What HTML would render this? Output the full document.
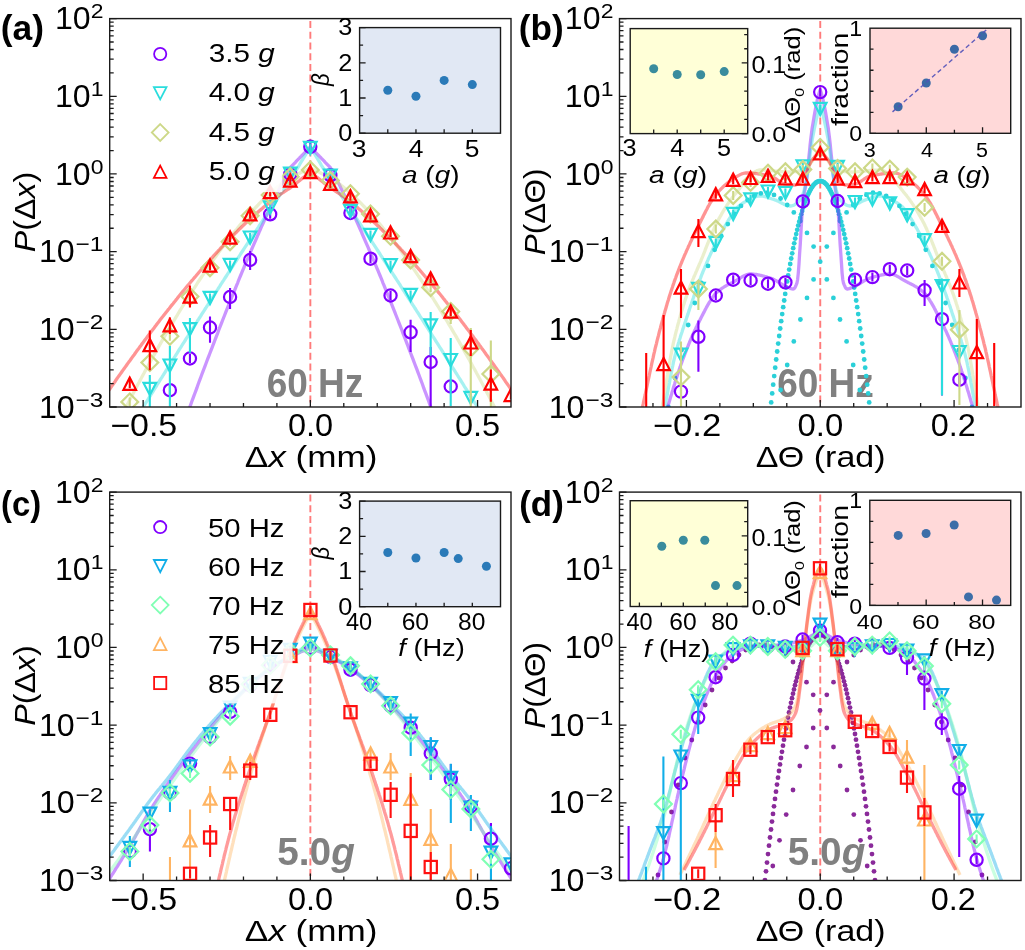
<!DOCTYPE html>
<html><head><meta charset="utf-8"><style>html,body{margin:0;padding:0;background:#fff;}svg{display:block;will-change:transform}</style></head>
<body><svg width="1025" height="950" viewBox="0 0 1025 950" style="font-family:'Liberation Sans', sans-serif">
<rect width="1025" height="950" fill="#fff"/>
<g transform="matrix(0.9490,0,0,1.0333,266.65,396.90)"><text x="0" y="0" font-size="39" font-weight="bold" font-style="normal" fill="#808080">60 Hz</text></g><line x1="310.35" y1="18.6" x2="310.35" y2="407.0" stroke="#ff7b7b" stroke-width="1.9" stroke-dasharray="7 3.7" stroke-dashoffset="-2.5"/><clipPath id="clip_a"><rect x="109.7" y="18.6" width="401.30" height="388.40"/></clipPath><g clip-path="url(#clip_a)"><path d="M105.3,653.0L106.3,650.0L107.3,646.9L108.3,643.9L109.3,640.9L110.3,637.8L111.3,634.8L112.3,631.7L113.3,628.7L114.3,625.7L115.3,622.7L116.2,619.6L117.2,616.6L118.2,613.6L119.2,610.6L120.2,607.6L121.2,604.6L122.2,601.6L123.2,598.6L124.2,595.6L125.2,592.6L126.2,589.6L127.2,586.7L128.2,583.7L129.2,580.7L130.2,577.7L131.2,574.8L132.2,571.8L133.2,568.8L134.2,565.9L135.2,562.9L136.1,560.0L137.1,557.0L138.1,554.1L139.1,551.2L140.1,548.2L141.1,545.3L142.1,542.4L143.1,539.5L144.1,536.5L145.1,533.6L146.1,530.7L147.1,527.8L148.1,524.9L149.1,522.0L150.1,519.1L151.1,516.2L152.1,513.3L153.1,510.4L154.1,507.6L155.1,504.7L156.1,501.8L157.0,499.0L158.0,496.1L159.0,493.2L160.0,490.4L161.0,487.5L162.0,484.7L163.0,481.8L164.0,479.0L165.0,476.2L166.0,473.3L167.0,470.5L168.0,467.7L169.0,464.9L170.0,462.1L171.0,459.3L172.0,456.4L173.0,453.7L174.0,450.9L175.0,448.1L176.0,445.3L177.0,442.5L177.9,439.7L178.9,437.0L179.9,434.2L180.9,431.4L181.9,428.7L182.9,425.9L183.9,423.2L184.9,420.4L185.9,417.7L186.9,414.9L187.9,412.2L188.9,409.5L189.9,406.8L190.9,404.1L191.9,401.3L192.9,398.6L193.9,395.9L194.9,393.2L195.9,390.6L196.9,387.9L197.8,385.2L198.8,382.5L199.8,379.9L200.8,377.2L201.8,374.5L202.8,371.9L203.8,369.2L204.8,366.6L205.8,364.0L206.8,361.3L207.8,358.7L208.8,356.1L209.8,353.5L210.8,350.9L211.8,348.3L212.8,345.7L213.8,343.1L214.8,340.5L215.8,337.9L216.8,335.3L217.8,332.8L218.7,330.2L219.7,327.6L220.7,325.1L221.7,322.6L222.7,320.0L223.7,317.5L224.7,315.0L225.7,312.4L226.7,309.9L227.7,307.4L228.7,304.9L229.7,302.4L230.7,300.0L231.7,297.5L232.7,295.0L233.7,292.6L234.7,290.1L235.7,287.6L236.7,285.2L237.7,282.8L238.6,280.3L239.6,277.9L240.6,275.5L241.6,273.1L242.6,270.7L243.6,268.3L244.6,265.9L245.6,263.6L246.6,261.2L247.6,258.8L248.6,256.5L249.6,254.1L250.6,251.8L251.6,249.5L252.6,247.2L253.6,244.9L254.6,242.6L255.6,240.3L256.6,238.0L257.6,235.7L258.6,233.5L259.5,231.2L260.5,229.0L261.5,226.7L262.5,224.5L263.5,222.3L264.5,220.1L265.5,217.9L266.5,215.7L267.5,213.6L268.5,211.4L269.5,209.3L270.5,207.1L271.5,205.0L272.5,202.9L273.5,200.8L274.5,198.7L275.5,196.6L276.5,194.6L277.5,192.5L278.5,190.5L279.5,188.5L280.4,186.5L281.4,184.5L282.4,182.5L283.4,180.5L284.4,178.6L285.4,176.7L286.4,174.7L287.4,172.8L288.4,171.0L289.4,169.1L290.4,167.4L291.4,166.3L292.4,165.3L293.4,164.3L294.4,163.3L295.4,162.3L296.4,161.2L297.4,160.2L298.4,159.2L299.4,158.2L300.3,157.2L301.3,156.2L302.3,155.1L303.3,154.1L304.3,153.1L305.3,152.1L306.3,151.1L307.3,150.1L308.3,149.0L309.3,148.0L310.3,147.0L311.3,148.0L312.3,149.0L313.3,150.1L314.3,151.1L315.3,152.1L316.3,153.1L317.3,154.1L318.3,155.1L319.3,156.2L320.3,157.2L321.2,158.2L322.2,159.2L323.2,160.2L324.2,161.2L325.2,162.3L326.2,163.3L327.2,164.3L328.2,165.3L329.2,166.3L330.2,167.4L331.2,169.1L332.2,171.0L333.2,172.8L334.2,174.7L335.2,176.7L336.2,178.6L337.2,180.5L338.2,182.5L339.2,184.5L340.2,186.5L341.1,188.5L342.1,190.5L343.1,192.5L344.1,194.6L345.1,196.6L346.1,198.7L347.1,200.8L348.1,202.9L349.1,205.0L350.1,207.1L351.1,209.3L352.1,211.4L353.1,213.6L354.1,215.7L355.1,217.9L356.1,220.1L357.1,222.3L358.1,224.5L359.1,226.7L360.1,229.0L361.1,231.2L362.0,233.5L363.0,235.7L364.0,238.0L365.0,240.3L366.0,242.6L367.0,244.9L368.0,247.2L369.0,249.5L370.0,251.8L371.0,254.1L372.0,256.5L373.0,258.8L374.0,261.2L375.0,263.6L376.0,265.9L377.0,268.3L378.0,270.7L379.0,273.1L380.0,275.5L381.0,277.9L382.0,280.3L382.9,282.8L383.9,285.2L384.9,287.6L385.9,290.1L386.9,292.6L387.9,295.0L388.9,297.5L389.9,300.0L390.9,302.4L391.9,304.9L392.9,307.4L393.9,309.9L394.9,312.4L395.9,315.0L396.9,317.5L397.9,320.0L398.9,322.6L399.9,325.1L400.9,327.6L401.9,330.2L402.8,332.8L403.8,335.3L404.8,337.9L405.8,340.5L406.8,343.1L407.8,345.7L408.8,348.3L409.8,350.9L410.8,353.5L411.8,356.1L412.8,358.7L413.8,361.3L414.8,364.0L415.8,366.6L416.8,369.2L417.8,371.9L418.8,374.5L419.8,377.2L420.8,379.9L421.8,382.5L422.8,385.2L423.7,387.9L424.7,390.6L425.7,393.2L426.7,395.9L427.7,398.6L428.7,401.3L429.7,404.1L430.7,406.8L431.7,409.5L432.7,412.2L433.7,414.9L434.7,417.7L435.7,420.4L436.7,423.2L437.7,425.9L438.7,428.7L439.7,431.4L440.7,434.2L441.7,437.0L442.7,439.7L443.6,442.5L444.6,445.3L445.6,448.1L446.6,450.9L447.6,453.7L448.6,456.4L449.6,459.3L450.6,462.1L451.6,464.9L452.6,467.7L453.6,470.5L454.6,473.3L455.6,476.2L456.6,479.0L457.6,481.8L458.6,484.7L459.6,487.5L460.6,490.4L461.6,493.2L462.6,496.1L463.6,499.0L464.5,501.8L465.5,504.7L466.5,507.6L467.5,510.4L468.5,513.3L469.5,516.2L470.5,519.1L471.5,522.0L472.5,524.9L473.5,527.8L474.5,530.7L475.5,533.6L476.5,536.5L477.5,539.5L478.5,542.4L479.5,545.3L480.5,548.2L481.5,551.2L482.5,554.1L483.5,557.0L484.5,560.0L485.4,562.9L486.4,565.9L487.4,568.8L488.4,571.8L489.4,574.8L490.4,577.7L491.4,580.7L492.4,583.7L493.4,586.7L494.4,589.6L495.4,592.6L496.4,595.6L497.4,598.6L498.4,601.6L499.4,604.6L500.4,607.6L501.4,610.6L502.4,613.6L503.4,616.6L504.4,619.6L505.3,622.7L506.3,625.7L507.3,628.7L508.3,631.7L509.3,634.8L510.3,637.8L511.3,640.9L512.3,643.9L513.3,646.9L514.3,650.0L515.3,653.0" fill="none" stroke="#8000ff" stroke-width="3.3" stroke-opacity="0.42" stroke-linejoin="round"/><path d="M105.3,468.1L106.3,466.5L107.3,464.8L108.3,463.2L109.3,461.6L110.3,460.0L111.3,458.4L112.3,456.8L113.3,455.2L114.3,453.6L115.3,452.0L116.2,450.4L117.2,448.8L118.2,447.2L119.2,445.6L120.2,444.0L121.2,442.4L122.2,440.8L123.2,439.2L124.2,437.6L125.2,436.0L126.2,434.4L127.2,432.8L128.2,431.2L129.2,429.6L130.2,428.0L131.2,426.4L132.2,424.8L133.2,423.2L134.2,421.6L135.2,420.0L136.1,418.4L137.1,416.8L138.1,415.2L139.1,413.6L140.1,412.0L141.1,410.4L142.1,408.8L143.1,407.2L144.1,405.6L145.1,404.0L146.1,402.4L147.1,400.9L148.1,399.3L149.1,397.7L150.1,396.1L151.1,394.5L152.1,392.9L153.1,391.3L154.1,389.7L155.1,388.1L156.1,386.6L157.0,385.0L158.0,383.4L159.0,381.8L160.0,380.2L161.0,378.6L162.0,377.1L163.0,375.5L164.0,373.9L165.0,372.3L166.0,370.7L167.0,369.1L168.0,367.6L169.0,366.0L170.0,364.4L171.0,362.8L172.0,361.2L173.0,359.7L174.0,358.1L175.0,356.5L176.0,354.9L177.0,353.4L177.9,351.8L178.9,350.2L179.9,348.6L180.9,347.1L181.9,345.5L182.9,343.9L183.9,342.4L184.9,340.8L185.9,339.2L186.9,337.6L187.9,336.1L188.9,334.5L189.9,332.9L190.9,331.4L191.9,329.8L192.9,328.2L193.9,326.7L194.9,325.1L195.9,323.6L196.9,322.0L197.8,320.4L198.8,318.9L199.8,317.3L200.8,315.8L201.8,314.2L202.8,312.6L203.8,311.1L204.8,309.5L205.8,308.0L206.8,306.4L207.8,304.9L208.8,303.3L209.8,301.7L210.8,300.2L211.8,298.6L212.8,297.1L213.8,295.5L214.8,294.0L215.8,292.4L216.8,290.9L217.8,289.4L218.7,287.8L219.7,286.3L220.7,284.7L221.7,283.2L222.7,281.6L223.7,280.1L224.7,278.5L225.7,277.0L226.7,275.5L227.7,273.9L228.7,272.4L229.7,270.9L230.7,269.3L231.7,267.8L232.7,266.3L233.7,264.7L234.7,263.2L235.7,261.7L236.7,260.1L237.7,258.6L238.6,257.1L239.6,255.6L240.6,254.0L241.6,252.5L242.6,251.0L243.6,249.5L244.6,247.9L245.6,246.4L246.6,244.9L247.6,243.4L248.6,241.9L249.6,240.4L250.6,238.8L251.6,237.3L252.6,235.8L253.6,234.3L254.6,232.8L255.6,231.3L256.6,229.8L257.6,228.3L258.6,226.8L259.5,225.3L260.5,223.8L261.5,222.3L262.5,220.8L263.5,219.3L264.5,217.8L265.5,216.3L266.5,214.8L267.5,213.3L268.5,211.8L269.5,210.4L270.5,208.9L271.5,207.4L272.5,205.9L273.5,204.4L274.5,203.0L275.5,201.5L276.5,200.0L277.5,198.5L278.5,197.1L279.5,195.6L280.4,194.1L281.4,192.7L282.4,191.2L283.4,189.8L284.4,188.3L285.4,186.9L286.4,185.4L287.4,184.0L288.4,182.5L289.4,181.1L290.4,179.7L291.4,178.0L292.4,176.4L293.4,174.8L294.4,173.1L295.4,171.5L296.4,169.9L297.4,168.2L298.4,166.6L299.4,165.0L300.3,163.3L301.3,161.7L302.3,160.1L303.3,158.4L304.3,156.8L305.3,155.2L306.3,153.5L307.3,151.9L308.3,150.3L309.3,148.6L310.3,147.0L311.3,148.6L312.3,150.3L313.3,151.9L314.3,153.5L315.3,155.2L316.3,156.8L317.3,158.4L318.3,160.1L319.3,161.7L320.3,163.3L321.2,165.0L322.2,166.6L323.2,168.2L324.2,169.9L325.2,171.5L326.2,173.1L327.2,174.8L328.2,176.4L329.2,178.0L330.2,179.7L331.2,181.1L332.2,182.5L333.2,184.0L334.2,185.4L335.2,186.9L336.2,188.3L337.2,189.8L338.2,191.2L339.2,192.7L340.2,194.1L341.1,195.6L342.1,197.1L343.1,198.5L344.1,200.0L345.1,201.5L346.1,203.0L347.1,204.4L348.1,205.9L349.1,207.4L350.1,208.9L351.1,210.4L352.1,211.8L353.1,213.3L354.1,214.8L355.1,216.3L356.1,217.8L357.1,219.3L358.1,220.8L359.1,222.3L360.1,223.8L361.1,225.3L362.0,226.8L363.0,228.3L364.0,229.8L365.0,231.3L366.0,232.8L367.0,234.3L368.0,235.8L369.0,237.3L370.0,238.8L371.0,240.4L372.0,241.9L373.0,243.4L374.0,244.9L375.0,246.4L376.0,247.9L377.0,249.5L378.0,251.0L379.0,252.5L380.0,254.0L381.0,255.6L382.0,257.1L382.9,258.6L383.9,260.1L384.9,261.7L385.9,263.2L386.9,264.7L387.9,266.3L388.9,267.8L389.9,269.3L390.9,270.9L391.9,272.4L392.9,273.9L393.9,275.5L394.9,277.0L395.9,278.5L396.9,280.1L397.9,281.6L398.9,283.2L399.9,284.7L400.9,286.3L401.9,287.8L402.8,289.4L403.8,290.9L404.8,292.4L405.8,294.0L406.8,295.5L407.8,297.1L408.8,298.6L409.8,300.2L410.8,301.7L411.8,303.3L412.8,304.9L413.8,306.4L414.8,308.0L415.8,309.5L416.8,311.1L417.8,312.6L418.8,314.2L419.8,315.8L420.8,317.3L421.8,318.9L422.8,320.4L423.7,322.0L424.7,323.6L425.7,325.1L426.7,326.7L427.7,328.2L428.7,329.8L429.7,331.4L430.7,332.9L431.7,334.5L432.7,336.1L433.7,337.6L434.7,339.2L435.7,340.8L436.7,342.4L437.7,343.9L438.7,345.5L439.7,347.1L440.7,348.6L441.7,350.2L442.7,351.8L443.6,353.4L444.6,354.9L445.6,356.5L446.6,358.1L447.6,359.7L448.6,361.2L449.6,362.8L450.6,364.4L451.6,366.0L452.6,367.6L453.6,369.1L454.6,370.7L455.6,372.3L456.6,373.9L457.6,375.5L458.6,377.1L459.6,378.6L460.6,380.2L461.6,381.8L462.6,383.4L463.6,385.0L464.5,386.6L465.5,388.1L466.5,389.7L467.5,391.3L468.5,392.9L469.5,394.5L470.5,396.1L471.5,397.7L472.5,399.3L473.5,400.9L474.5,402.4L475.5,404.0L476.5,405.6L477.5,407.2L478.5,408.8L479.5,410.4L480.5,412.0L481.5,413.6L482.5,415.2L483.5,416.8L484.5,418.4L485.4,420.0L486.4,421.6L487.4,423.2L488.4,424.8L489.4,426.4L490.4,428.0L491.4,429.6L492.4,431.2L493.4,432.8L494.4,434.4L495.4,436.0L496.4,437.6L497.4,439.2L498.4,440.8L499.4,442.4L500.4,444.0L501.4,445.6L502.4,447.2L503.4,448.8L504.4,450.4L505.3,452.0L506.3,453.6L507.3,455.2L508.3,456.8L509.3,458.4L510.3,460.0L511.3,461.6L512.3,463.2L513.3,464.8L514.3,466.5L515.3,468.1" fill="none" stroke="#2adddd" stroke-width="3.3" stroke-opacity="0.42" stroke-linejoin="round"/><path d="M105.3,448.4L106.3,446.4L107.3,444.4L108.3,442.3L109.3,440.3L110.3,438.3L111.3,436.3L112.3,434.3L113.3,432.3L114.3,430.3L115.3,428.3L116.2,426.3L117.2,424.4L118.2,422.4L119.2,420.4L120.2,418.5L121.2,416.5L122.2,414.6L123.2,412.6L124.2,410.7L125.2,408.7L126.2,406.8L127.2,404.9L128.2,403.0L129.2,401.0L130.2,399.1L131.2,397.2L132.2,395.3L133.2,393.4L134.2,391.5L135.2,389.7L136.1,387.8L137.1,385.9L138.1,384.0L139.1,382.2L140.1,380.3L141.1,378.5L142.1,376.6L143.1,374.8L144.1,373.0L145.1,371.1L146.1,369.3L147.1,367.5L148.1,365.7L149.1,363.9L150.1,362.1L151.1,360.3L152.1,358.5L153.1,356.7L154.1,354.9L155.1,353.1L156.1,351.4L157.0,349.6L158.0,347.9L159.0,346.1L160.0,344.4L161.0,342.6L162.0,340.9L163.0,339.2L164.0,337.4L165.0,335.7L166.0,334.0L167.0,332.3L168.0,330.6L169.0,328.9L170.0,327.2L171.0,325.6L172.0,323.9L173.0,322.2L174.0,320.5L175.0,318.9L176.0,317.2L177.0,315.6L177.9,314.0L178.9,312.3L179.9,310.7L180.9,309.1L181.9,307.5L182.9,305.9L183.9,304.3L184.9,302.7L185.9,301.1L186.9,299.5L187.9,297.9L188.9,296.4L189.9,294.8L190.9,293.2L191.9,291.7L192.9,290.1L193.9,288.6L194.9,287.1L195.9,285.6L196.9,284.0L197.8,282.5L198.8,281.0L199.8,279.5L200.8,278.0L201.8,276.5L202.8,275.1L203.8,273.6L204.8,272.1L205.8,270.7L206.8,269.2L207.8,267.8L208.8,266.4L209.8,264.9L210.8,263.5L211.8,262.1L212.8,260.7L213.8,259.3L214.8,257.9L215.8,256.5L216.8,255.1L217.8,253.8L218.7,252.4L219.7,251.0L220.7,249.7L221.7,248.4L222.7,247.0L223.7,245.7L224.7,244.4L225.7,243.1L226.7,241.8L227.7,240.5L228.7,239.2L229.7,237.9L230.7,236.6L231.7,235.4L232.7,234.1L233.7,232.9L234.7,231.6L235.7,230.4L236.7,229.2L237.7,227.9L238.6,226.7L239.6,225.5L240.6,224.3L241.6,223.2L242.6,222.0L243.6,220.8L244.6,219.7L245.6,218.5L246.6,217.4L247.6,216.3L248.6,215.1L249.6,214.0L250.6,212.9L251.6,211.8L252.6,210.7L253.6,209.7L254.6,208.6L255.6,207.5L256.6,206.5L257.6,205.5L258.6,204.4L259.5,203.4L260.5,202.4L261.5,201.4L262.5,200.4L263.5,199.5L264.5,198.5L265.5,197.5L266.5,196.6L267.5,195.6L268.5,194.7L269.5,193.8L270.5,192.9L271.5,192.0L272.5,191.1L273.5,190.3L274.5,189.4L275.5,188.6L276.5,187.7L277.5,186.9L278.5,186.1L279.5,185.3L280.4,184.5L281.4,183.8L282.4,183.0L283.4,182.3L284.4,181.5L285.4,180.8L286.4,180.1L287.4,179.4L288.4,178.8L289.4,178.1L290.4,177.5L291.4,177.0L292.4,176.5L293.4,176.0L294.4,175.6L295.4,175.1L296.4,174.6L297.4,174.2L298.4,173.7L299.4,173.2L300.3,172.7L301.3,172.3L302.3,171.8L303.3,171.3L304.3,170.8L305.3,170.4L306.3,169.9L307.3,169.4L308.3,168.9L309.3,168.5L310.3,168.0L311.3,168.5L312.3,168.9L313.3,169.4L314.3,169.9L315.3,170.4L316.3,170.8L317.3,171.3L318.3,171.8L319.3,172.3L320.3,172.7L321.2,173.2L322.2,173.7L323.2,174.2L324.2,174.6L325.2,175.1L326.2,175.6L327.2,176.0L328.2,176.5L329.2,177.0L330.2,177.5L331.2,178.1L332.2,178.8L333.2,179.4L334.2,180.1L335.2,180.8L336.2,181.5L337.2,182.3L338.2,183.0L339.2,183.8L340.2,184.5L341.1,185.3L342.1,186.1L343.1,186.9L344.1,187.7L345.1,188.6L346.1,189.4L347.1,190.3L348.1,191.1L349.1,192.0L350.1,192.9L351.1,193.8L352.1,194.7L353.1,195.6L354.1,196.6L355.1,197.5L356.1,198.5L357.1,199.5L358.1,200.4L359.1,201.4L360.1,202.4L361.1,203.4L362.0,204.4L363.0,205.5L364.0,206.5L365.0,207.5L366.0,208.6L367.0,209.7L368.0,210.7L369.0,211.8L370.0,212.9L371.0,214.0L372.0,215.1L373.0,216.3L374.0,217.4L375.0,218.5L376.0,219.7L377.0,220.8L378.0,222.0L379.0,223.2L380.0,224.3L381.0,225.5L382.0,226.7L382.9,227.9L383.9,229.2L384.9,230.4L385.9,231.6L386.9,232.9L387.9,234.1L388.9,235.4L389.9,236.6L390.9,237.9L391.9,239.2L392.9,240.5L393.9,241.8L394.9,243.1L395.9,244.4L396.9,245.7L397.9,247.0L398.9,248.4L399.9,249.7L400.9,251.0L401.9,252.4L402.8,253.8L403.8,255.1L404.8,256.5L405.8,257.9L406.8,259.3L407.8,260.7L408.8,262.1L409.8,263.5L410.8,264.9L411.8,266.4L412.8,267.8L413.8,269.2L414.8,270.7L415.8,272.1L416.8,273.6L417.8,275.1L418.8,276.5L419.8,278.0L420.8,279.5L421.8,281.0L422.8,282.5L423.7,284.0L424.7,285.6L425.7,287.1L426.7,288.6L427.7,290.1L428.7,291.7L429.7,293.2L430.7,294.8L431.7,296.4L432.7,297.9L433.7,299.5L434.7,301.1L435.7,302.7L436.7,304.3L437.7,305.9L438.7,307.5L439.7,309.1L440.7,310.7L441.7,312.3L442.7,314.0L443.6,315.6L444.6,317.2L445.6,318.9L446.6,320.5L447.6,322.2L448.6,323.9L449.6,325.6L450.6,327.2L451.6,328.9L452.6,330.6L453.6,332.3L454.6,334.0L455.6,335.7L456.6,337.4L457.6,339.2L458.6,340.9L459.6,342.6L460.6,344.4L461.6,346.1L462.6,347.9L463.6,349.6L464.5,351.4L465.5,353.1L466.5,354.9L467.5,356.7L468.5,358.5L469.5,360.3L470.5,362.1L471.5,363.9L472.5,365.7L473.5,367.5L474.5,369.3L475.5,371.1L476.5,373.0L477.5,374.8L478.5,376.6L479.5,378.5L480.5,380.3L481.5,382.2L482.5,384.0L483.5,385.9L484.5,387.8L485.4,389.7L486.4,391.5L487.4,393.4L488.4,395.3L489.4,397.2L490.4,399.1L491.4,401.0L492.4,403.0L493.4,404.9L494.4,406.8L495.4,408.7L496.4,410.7L497.4,412.6L498.4,414.6L499.4,416.5L500.4,418.5L501.4,420.4L502.4,422.4L503.4,424.4L504.4,426.3L505.3,428.3L506.3,430.3L507.3,432.3L508.3,434.3L509.3,436.3L510.3,438.3L511.3,440.3L512.3,442.3L513.3,444.4L514.3,446.4L515.3,448.4" fill="none" stroke="#cdd888" stroke-width="3.3" stroke-opacity="0.42" stroke-linejoin="round"/><path d="M105.3,395.5L106.3,394.1L107.3,392.6L108.3,391.2L109.3,389.7L110.3,388.3L111.3,386.9L112.3,385.4L113.3,384.0L114.3,382.6L115.3,381.2L116.2,379.7L117.2,378.3L118.2,376.9L119.2,375.5L120.2,374.1L121.2,372.7L122.2,371.3L123.2,369.9L124.2,368.5L125.2,367.1L126.2,365.7L127.2,364.3L128.2,362.9L129.2,361.5L130.2,360.2L131.2,358.8L132.2,357.4L133.2,356.0L134.2,354.7L135.2,353.3L136.1,351.9L137.1,350.6L138.1,349.2L139.1,347.9L140.1,346.5L141.1,345.2L142.1,343.8L143.1,342.5L144.1,341.1L145.1,339.8L146.1,338.5L147.1,337.1L148.1,335.8L149.1,334.5L150.1,333.2L151.1,331.8L152.1,330.5L153.1,329.2L154.1,327.9L155.1,326.6L156.1,325.3L157.0,324.0L158.0,322.7L159.0,321.4L160.0,320.1L161.0,318.8L162.0,317.5L163.0,316.3L164.0,315.0L165.0,313.7L166.0,312.4L167.0,311.2L168.0,309.9L169.0,308.7L170.0,307.4L171.0,306.1L172.0,304.9L173.0,303.7L174.0,302.4L175.0,301.2L176.0,299.9L177.0,298.7L177.9,297.5L178.9,296.2L179.9,295.0L180.9,293.8L181.9,292.6L182.9,291.4L183.9,290.2L184.9,289.0L185.9,287.8L186.9,286.6L187.9,285.4L188.9,284.2L189.9,283.0L190.9,281.8L191.9,280.6L192.9,279.5L193.9,278.3L194.9,277.1L195.9,276.0L196.9,274.8L197.8,273.7L198.8,272.5L199.8,271.4L200.8,270.2L201.8,269.1L202.8,267.9L203.8,266.8L204.8,265.7L205.8,264.6L206.8,263.4L207.8,262.3L208.8,261.2L209.8,260.1L210.8,259.0L211.8,257.9L212.8,256.8L213.8,255.7L214.8,254.6L215.8,253.5L216.8,252.5L217.8,251.4L218.7,250.3L219.7,249.3L220.7,248.2L221.7,247.1L222.7,246.1L223.7,245.0L224.7,244.0L225.7,243.0L226.7,241.9L227.7,240.9L228.7,239.9L229.7,238.9L230.7,237.8L231.7,236.8L232.7,235.8L233.7,234.8L234.7,233.8L235.7,232.8L236.7,231.9L237.7,230.9L238.6,229.9L239.6,228.9L240.6,228.0L241.6,227.0L242.6,226.1L243.6,225.1L244.6,224.2L245.6,223.2L246.6,222.3L247.6,221.4L248.6,220.5L249.6,219.5L250.6,218.6L251.6,217.7L252.6,216.8L253.6,215.9L254.6,215.0L255.6,214.2L256.6,213.3L257.6,212.4L258.6,211.6L259.5,210.7L260.5,209.9L261.5,209.0L262.5,208.2L263.5,207.3L264.5,206.5L265.5,205.7L266.5,204.9L267.5,204.1L268.5,203.3L269.5,202.5L270.5,201.7L271.5,201.0L272.5,200.2L273.5,199.4L274.5,198.7L275.5,197.9L276.5,197.2L277.5,196.5L278.5,195.8L279.5,195.1L280.4,194.3L281.4,193.7L282.4,193.0L283.4,192.3L284.4,191.6L285.4,191.0L286.4,190.3L287.4,189.7L288.4,189.1L289.4,188.5L290.4,187.8L291.4,187.0L292.4,186.3L293.4,185.5L294.4,184.7L295.4,183.9L296.4,183.1L297.4,182.3L298.4,181.5L299.4,180.7L300.3,179.9L301.3,179.1L302.3,178.3L303.3,177.5L304.3,176.8L305.3,176.0L306.3,175.2L307.3,174.4L308.3,173.6L309.3,172.8L310.3,172.0L311.3,172.8L312.3,173.6L313.3,174.4L314.3,175.2L315.3,176.0L316.3,176.8L317.3,177.5L318.3,178.3L319.3,179.1L320.3,179.9L321.2,180.7L322.2,181.5L323.2,182.3L324.2,183.1L325.2,183.9L326.2,184.7L327.2,185.5L328.2,186.3L329.2,187.0L330.2,187.8L331.2,188.5L332.2,189.1L333.2,189.7L334.2,190.3L335.2,191.0L336.2,191.6L337.2,192.3L338.2,193.0L339.2,193.7L340.2,194.3L341.1,195.1L342.1,195.8L343.1,196.5L344.1,197.2L345.1,197.9L346.1,198.7L347.1,199.4L348.1,200.2L349.1,201.0L350.1,201.7L351.1,202.5L352.1,203.3L353.1,204.1L354.1,204.9L355.1,205.7L356.1,206.5L357.1,207.3L358.1,208.2L359.1,209.0L360.1,209.9L361.1,210.7L362.0,211.6L363.0,212.4L364.0,213.3L365.0,214.2L366.0,215.0L367.0,215.9L368.0,216.8L369.0,217.7L370.0,218.6L371.0,219.5L372.0,220.5L373.0,221.4L374.0,222.3L375.0,223.2L376.0,224.2L377.0,225.1L378.0,226.1L379.0,227.0L380.0,228.0L381.0,228.9L382.0,229.9L382.9,230.9L383.9,231.9L384.9,232.8L385.9,233.8L386.9,234.8L387.9,235.8L388.9,236.8L389.9,237.8L390.9,238.9L391.9,239.9L392.9,240.9L393.9,241.9L394.9,243.0L395.9,244.0L396.9,245.0L397.9,246.1L398.9,247.1L399.9,248.2L400.9,249.3L401.9,250.3L402.8,251.4L403.8,252.5L404.8,253.5L405.8,254.6L406.8,255.7L407.8,256.8L408.8,257.9L409.8,259.0L410.8,260.1L411.8,261.2L412.8,262.3L413.8,263.4L414.8,264.6L415.8,265.7L416.8,266.8L417.8,267.9L418.8,269.1L419.8,270.2L420.8,271.4L421.8,272.5L422.8,273.7L423.7,274.8L424.7,276.0L425.7,277.1L426.7,278.3L427.7,279.5L428.7,280.6L429.7,281.8L430.7,283.0L431.7,284.2L432.7,285.4L433.7,286.6L434.7,287.8L435.7,289.0L436.7,290.2L437.7,291.4L438.7,292.6L439.7,293.8L440.7,295.0L441.7,296.2L442.7,297.5L443.6,298.7L444.6,299.9L445.6,301.2L446.6,302.4L447.6,303.7L448.6,304.9L449.6,306.1L450.6,307.4L451.6,308.7L452.6,309.9L453.6,311.2L454.6,312.4L455.6,313.7L456.6,315.0L457.6,316.3L458.6,317.5L459.6,318.8L460.6,320.1L461.6,321.4L462.6,322.7L463.6,324.0L464.5,325.3L465.5,326.6L466.5,327.9L467.5,329.2L468.5,330.5L469.5,331.8L470.5,333.2L471.5,334.5L472.5,335.8L473.5,337.1L474.5,338.5L475.5,339.8L476.5,341.1L477.5,342.5L478.5,343.8L479.5,345.2L480.5,346.5L481.5,347.9L482.5,349.2L483.5,350.6L484.5,351.9L485.4,353.3L486.4,354.7L487.4,356.0L488.4,357.4L489.4,358.8L490.4,360.2L491.4,361.5L492.4,362.9L493.4,364.3L494.4,365.7L495.4,367.1L496.4,368.5L497.4,369.9L498.4,371.3L499.4,372.7L500.4,374.1L501.4,375.5L502.4,376.9L503.4,378.3L504.4,379.7L505.3,381.2L506.3,382.6L507.3,384.0L508.3,385.4L509.3,386.9L510.3,388.3L511.3,389.7L512.3,391.2L513.3,392.6L514.3,394.1L515.3,395.5" fill="none" stroke="#ff0000" stroke-width="3.3" stroke-opacity="0.42" stroke-linejoin="round"/><path d="M169.88,385.70V394.70M189.94,354.00V363.00M210.00,316.40V342.70M230.06,288.00V309.00M250.12,251.00V270.00M270.18,209.80V218.80M290.24,169.90V178.90M310.30,142.30V151.30M330.36,170.80V179.80M350.42,208.50V217.50M370.48,254.20V263.20M390.54,291.00V300.00M410.60,319.70V352.00M430.66,347.00V407.00M450.72,382.00V391.00" stroke="#8000ff" stroke-width="2.1" fill="none"/><circle cx="169.88" cy="390.20" r="6.1" fill="none" stroke="#8000ff" stroke-width="2.2"/><circle cx="189.94" cy="358.50" r="6.1" fill="none" stroke="#8000ff" stroke-width="2.2"/><circle cx="210.00" cy="327.50" r="6.1" fill="none" stroke="#8000ff" stroke-width="2.2"/><circle cx="230.06" cy="297.00" r="6.1" fill="none" stroke="#8000ff" stroke-width="2.2"/><circle cx="250.12" cy="260.00" r="6.1" fill="none" stroke="#8000ff" stroke-width="2.2"/><circle cx="270.18" cy="214.30" r="6.1" fill="none" stroke="#8000ff" stroke-width="2.2"/><circle cx="290.24" cy="174.40" r="6.1" fill="none" stroke="#8000ff" stroke-width="2.2"/><circle cx="310.30" cy="146.80" r="6.1" fill="none" stroke="#8000ff" stroke-width="2.2"/><circle cx="330.36" cy="175.30" r="6.1" fill="none" stroke="#8000ff" stroke-width="2.2"/><circle cx="350.42" cy="213.00" r="6.1" fill="none" stroke="#8000ff" stroke-width="2.2"/><circle cx="370.48" cy="258.70" r="6.1" fill="none" stroke="#8000ff" stroke-width="2.2"/><circle cx="390.54" cy="295.50" r="6.1" fill="none" stroke="#8000ff" stroke-width="2.2"/><circle cx="410.60" cy="332.30" r="6.1" fill="none" stroke="#8000ff" stroke-width="2.2"/><circle cx="430.66" cy="362.00" r="6.1" fill="none" stroke="#8000ff" stroke-width="2.2"/><circle cx="450.72" cy="386.50" r="6.1" fill="none" stroke="#8000ff" stroke-width="2.2"/><path d="M149.82,375.00V407.00M169.88,345.70V406.60M189.94,318.00V352.70M210.00,293.40V302.40M230.06,260.50V269.50M250.12,233.10V242.10M270.18,203.00V212.00M290.24,169.20V178.20M310.30,143.50V152.50M330.36,171.30V180.30M350.42,206.50V215.50M370.48,230.50V239.50M390.54,260.80V269.80M410.60,290.50V299.50M430.66,312.00V355.70M450.72,338.00V406.00M470.78,393.50V402.50" stroke="#2adddd" stroke-width="2.1" fill="none"/><path d="M149.82,395.10L143.52,382.90L156.12,382.90Z" fill="none" stroke="#2adddd" stroke-width="2.2" stroke-linejoin="miter"/><path d="M169.88,371.70L163.58,359.50L176.18,359.50Z" fill="none" stroke="#2adddd" stroke-width="2.2" stroke-linejoin="miter"/><path d="M189.94,335.40L183.64,323.20L196.24,323.20Z" fill="none" stroke="#2adddd" stroke-width="2.2" stroke-linejoin="miter"/><path d="M210.00,304.00L203.70,291.80L216.30,291.80Z" fill="none" stroke="#2adddd" stroke-width="2.2" stroke-linejoin="miter"/><path d="M230.06,271.10L223.76,258.90L236.36,258.90Z" fill="none" stroke="#2adddd" stroke-width="2.2" stroke-linejoin="miter"/><path d="M250.12,243.70L243.82,231.50L256.42,231.50Z" fill="none" stroke="#2adddd" stroke-width="2.2" stroke-linejoin="miter"/><path d="M270.18,213.60L263.88,201.40L276.48,201.40Z" fill="none" stroke="#2adddd" stroke-width="2.2" stroke-linejoin="miter"/><path d="M290.24,179.80L283.94,167.60L296.54,167.60Z" fill="none" stroke="#2adddd" stroke-width="2.2" stroke-linejoin="miter"/><path d="M310.30,154.10L304.00,141.90L316.60,141.90Z" fill="none" stroke="#2adddd" stroke-width="2.2" stroke-linejoin="miter"/><path d="M330.36,181.90L324.06,169.70L336.66,169.70Z" fill="none" stroke="#2adddd" stroke-width="2.2" stroke-linejoin="miter"/><path d="M350.42,217.10L344.12,204.90L356.72,204.90Z" fill="none" stroke="#2adddd" stroke-width="2.2" stroke-linejoin="miter"/><path d="M370.48,241.10L364.18,228.90L376.78,228.90Z" fill="none" stroke="#2adddd" stroke-width="2.2" stroke-linejoin="miter"/><path d="M390.54,271.40L384.24,259.20L396.84,259.20Z" fill="none" stroke="#2adddd" stroke-width="2.2" stroke-linejoin="miter"/><path d="M410.60,301.10L404.30,288.90L416.90,288.90Z" fill="none" stroke="#2adddd" stroke-width="2.2" stroke-linejoin="miter"/><path d="M430.66,331.50L424.36,319.30L436.96,319.30Z" fill="none" stroke="#2adddd" stroke-width="2.2" stroke-linejoin="miter"/><path d="M450.72,366.20L444.42,354.00L457.02,354.00Z" fill="none" stroke="#2adddd" stroke-width="2.2" stroke-linejoin="miter"/><path d="M470.78,404.10L464.48,391.90L477.08,391.90Z" fill="none" stroke="#2adddd" stroke-width="2.2" stroke-linejoin="miter"/><path d="M129.76,397.40V406.40M149.82,358.10V367.10M169.88,331.80V340.80M189.94,292.00V301.00M210.00,263.20V272.20M230.06,237.20V246.20M250.12,211.20V220.20M270.18,190.50V199.50M290.24,172.30V181.30M310.30,165.50V174.50M330.36,176.00V185.00M350.42,189.20V198.20M370.48,209.50V218.50M390.54,231.80V240.80M410.60,255.50V264.50M430.66,283.10V292.10M450.72,302.60V324.00M470.78,328.00V407.00M490.84,340.50V407.00" stroke="#cdd888" stroke-width="2.1" fill="none"/><path d="M129.76,393.50L138.16,401.90L129.76,410.30L121.36,401.90Z" fill="none" stroke="#cdd888" stroke-width="2.2"/><path d="M149.82,354.20L158.22,362.60L149.82,371.00L141.42,362.60Z" fill="none" stroke="#cdd888" stroke-width="2.2"/><path d="M169.88,327.90L178.28,336.30L169.88,344.70L161.48,336.30Z" fill="none" stroke="#cdd888" stroke-width="2.2"/><path d="M189.94,288.10L198.34,296.50L189.94,304.90L181.54,296.50Z" fill="none" stroke="#cdd888" stroke-width="2.2"/><path d="M210.00,259.30L218.40,267.70L210.00,276.10L201.60,267.70Z" fill="none" stroke="#cdd888" stroke-width="2.2"/><path d="M230.06,233.30L238.46,241.70L230.06,250.10L221.66,241.70Z" fill="none" stroke="#cdd888" stroke-width="2.2"/><path d="M250.12,207.30L258.52,215.70L250.12,224.10L241.72,215.70Z" fill="none" stroke="#cdd888" stroke-width="2.2"/><path d="M270.18,186.60L278.58,195.00L270.18,203.40L261.78,195.00Z" fill="none" stroke="#cdd888" stroke-width="2.2"/><path d="M290.24,168.40L298.64,176.80L290.24,185.20L281.84,176.80Z" fill="none" stroke="#cdd888" stroke-width="2.2"/><path d="M310.30,161.60L318.70,170.00L310.30,178.40L301.90,170.00Z" fill="none" stroke="#cdd888" stroke-width="2.2"/><path d="M330.36,172.10L338.76,180.50L330.36,188.90L321.96,180.50Z" fill="none" stroke="#cdd888" stroke-width="2.2"/><path d="M350.42,185.30L358.82,193.70L350.42,202.10L342.02,193.70Z" fill="none" stroke="#cdd888" stroke-width="2.2"/><path d="M370.48,205.60L378.88,214.00L370.48,222.40L362.08,214.00Z" fill="none" stroke="#cdd888" stroke-width="2.2"/><path d="M390.54,227.90L398.94,236.30L390.54,244.70L382.14,236.30Z" fill="none" stroke="#cdd888" stroke-width="2.2"/><path d="M410.60,251.60L419.00,260.00L410.60,268.40L402.20,260.00Z" fill="none" stroke="#cdd888" stroke-width="2.2"/><path d="M430.66,279.20L439.06,287.60L430.66,296.00L422.26,287.60Z" fill="none" stroke="#cdd888" stroke-width="2.2"/><path d="M450.72,303.10L459.12,311.50L450.72,319.90L442.32,311.50Z" fill="none" stroke="#cdd888" stroke-width="2.2"/><path d="M470.78,339.70L479.18,348.10L470.78,356.50L462.38,348.10Z" fill="none" stroke="#cdd888" stroke-width="2.2"/><path d="M490.84,365.60L499.24,374.00L490.84,382.40L482.44,374.00Z" fill="none" stroke="#cdd888" stroke-width="2.2"/><path d="M129.76,379.20V388.20M149.82,330.40V370.30M169.88,317.60V334.00M189.94,285.50V307.40M210.00,261.10V270.10M230.06,233.10V242.10M250.12,209.80V218.80M270.18,187.50V196.50M290.24,176.00V185.00M310.30,167.60V176.60M330.36,179.20V188.20M350.42,191.80V200.80M370.48,210.80V219.80M390.54,227.90V236.90M410.60,251.50V260.50M430.66,273.90V282.90M450.72,307.00V316.00M470.78,330.00V356.00M490.84,369.60V401.80M510.90,390.50V399.50" stroke="#ff0000" stroke-width="2.1" fill="none"/><path d="M129.76,377.60L123.46,389.80L136.06,389.80Z" fill="none" stroke="#ff0000" stroke-width="2.2" stroke-linejoin="miter"/><path d="M149.82,339.00L143.52,351.20L156.12,351.20Z" fill="none" stroke="#ff0000" stroke-width="2.2" stroke-linejoin="miter"/><path d="M169.88,319.10L163.58,331.30L176.18,331.30Z" fill="none" stroke="#ff0000" stroke-width="2.2" stroke-linejoin="miter"/><path d="M189.94,290.40L183.64,302.60L196.24,302.60Z" fill="none" stroke="#ff0000" stroke-width="2.2" stroke-linejoin="miter"/><path d="M210.00,259.50L203.70,271.70L216.30,271.70Z" fill="none" stroke="#ff0000" stroke-width="2.2" stroke-linejoin="miter"/><path d="M230.06,231.50L223.76,243.70L236.36,243.70Z" fill="none" stroke="#ff0000" stroke-width="2.2" stroke-linejoin="miter"/><path d="M250.12,208.20L243.82,220.40L256.42,220.40Z" fill="none" stroke="#ff0000" stroke-width="2.2" stroke-linejoin="miter"/><path d="M270.18,185.90L263.88,198.10L276.48,198.10Z" fill="none" stroke="#ff0000" stroke-width="2.2" stroke-linejoin="miter"/><path d="M290.24,174.40L283.94,186.60L296.54,186.60Z" fill="none" stroke="#ff0000" stroke-width="2.2" stroke-linejoin="miter"/><path d="M310.30,166.00L304.00,178.20L316.60,178.20Z" fill="none" stroke="#ff0000" stroke-width="2.2" stroke-linejoin="miter"/><path d="M330.36,177.60L324.06,189.80L336.66,189.80Z" fill="none" stroke="#ff0000" stroke-width="2.2" stroke-linejoin="miter"/><path d="M350.42,190.20L344.12,202.40L356.72,202.40Z" fill="none" stroke="#ff0000" stroke-width="2.2" stroke-linejoin="miter"/><path d="M370.48,209.20L364.18,221.40L376.78,221.40Z" fill="none" stroke="#ff0000" stroke-width="2.2" stroke-linejoin="miter"/><path d="M390.54,226.30L384.24,238.50L396.84,238.50Z" fill="none" stroke="#ff0000" stroke-width="2.2" stroke-linejoin="miter"/><path d="M410.60,249.90L404.30,262.10L416.90,262.10Z" fill="none" stroke="#ff0000" stroke-width="2.2" stroke-linejoin="miter"/><path d="M430.66,272.30L424.36,284.50L436.96,284.50Z" fill="none" stroke="#ff0000" stroke-width="2.2" stroke-linejoin="miter"/><path d="M450.72,305.40L444.42,317.60L457.02,317.60Z" fill="none" stroke="#ff0000" stroke-width="2.2" stroke-linejoin="miter"/><path d="M470.78,336.30L464.48,348.50L477.08,348.50Z" fill="none" stroke="#ff0000" stroke-width="2.2" stroke-linejoin="miter"/><path d="M490.84,377.40L484.54,389.60L497.14,389.60Z" fill="none" stroke="#ff0000" stroke-width="2.2" stroke-linejoin="miter"/><path d="M510.90,388.90L504.60,401.10L517.20,401.10Z" fill="none" stroke="#ff0000" stroke-width="2.2" stroke-linejoin="miter"/></g><rect x="125" y="24" width="157.3" height="168.1" fill="#fff" fill-opacity="0.88"/><circle cx="160.20" cy="54.00" r="6.1" fill="none" stroke="#8000ff" stroke-width="1.8"/><path d="M160.20,99.35L153.90,87.15L166.50,87.15Z" fill="none" stroke="#2adddd" stroke-width="1.8" stroke-linejoin="miter"/><path d="M160.20,124.10L168.60,132.50L160.20,140.90L151.80,132.50Z" fill="none" stroke="#cdd888" stroke-width="1.8"/><path d="M160.20,165.65L153.90,177.85L166.50,177.85Z" fill="none" stroke="#ff0000" stroke-width="1.8" stroke-linejoin="miter"/><path d="M109.70,407.00h7 M109.70,383.62h4 M109.70,369.94h4 M109.70,360.23h4 M109.70,352.70h4 M109.70,346.55h4 M109.70,341.35h4 M109.70,336.85h4 M109.70,332.87h4 M109.70,329.32h7 M109.70,305.94h4 M109.70,292.26h4 M109.70,282.55h4 M109.70,275.02h4 M109.70,268.87h4 M109.70,263.67h4 M109.70,259.17h4 M109.70,255.19h4 M109.70,251.64h7 M109.70,228.26h4 M109.70,214.58h4 M109.70,204.87h4 M109.70,197.34h4 M109.70,191.19h4 M109.70,185.99h4 M109.70,181.49h4 M109.70,177.51h4 M109.70,173.96h7 M109.70,150.58h4 M109.70,136.90h4 M109.70,127.19h4 M109.70,119.66h4 M109.70,113.51h4 M109.70,108.31h4 M109.70,103.81h4 M109.70,99.83h4 M109.70,96.28h7 M109.70,72.90h4 M109.70,59.22h4 M109.70,49.51h4 M109.70,41.98h4 M109.70,35.83h4 M109.70,30.63h4 M109.70,26.13h4 M109.70,22.15h4 M109.70,18.60h7 M143.14,407.00v-7 M176.58,407.00v-4 M210.03,407.00v-4 M243.47,407.00v-4 M276.91,407.00v-4 M310.35,407.00v-7 M343.79,407.00v-4 M377.23,407.00v-4 M410.68,407.00v-4 M444.12,407.00v-4 M477.56,407.00v-7" stroke="#1a1a1a" stroke-width="1.3" fill="none"/><rect x="109.7" y="18.6" width="401.30" height="388.40" fill="none" stroke="#1a1a1a" stroke-width="1.4"/><g transform="matrix(0.9490,0,0,1.0333,777.15,396.90)"><text x="0" y="0" font-size="39" font-weight="bold" font-style="normal" fill="#808080">60 Hz</text></g><line x1="820.25" y1="18.6" x2="820.25" y2="407.0" stroke="#ff7b7b" stroke-width="1.9" stroke-dasharray="7 3.7" stroke-dashoffset="-2.5"/><clipPath id="clip_b"><rect x="619.5" y="18.6" width="401.50" height="388.40"/></clipPath><g clip-path="url(#clip_b)"><g fill="#2ad0d8"><circle cx="771.2" cy="402.4" r="2.4"/><circle cx="772.2" cy="393.4" r="2.4"/><circle cx="773.2" cy="384.7" r="2.4"/><circle cx="774.2" cy="376.1" r="2.4"/><circle cx="775.2" cy="367.7" r="2.4"/><circle cx="776.2" cy="359.5" r="2.4"/><circle cx="777.2" cy="351.5" r="2.4"/><circle cx="778.2" cy="343.6" r="2.4"/><circle cx="779.2" cy="336.0" r="2.4"/><circle cx="780.2" cy="328.5" r="2.4"/><circle cx="781.2" cy="321.2" r="2.4"/><circle cx="782.2" cy="314.1" r="2.4"/><circle cx="783.2" cy="307.2" r="2.4"/><circle cx="784.2" cy="300.5" r="2.4"/><circle cx="785.2" cy="293.9" r="2.4"/><circle cx="786.2" cy="287.6" r="2.4"/><circle cx="787.2" cy="281.4" r="2.4"/><circle cx="788.2" cy="275.4" r="2.4"/><circle cx="789.2" cy="269.6" r="2.4"/><circle cx="790.2" cy="264.0" r="2.4"/><circle cx="791.2" cy="258.5" r="2.4"/><circle cx="792.2" cy="253.3" r="2.4"/><circle cx="793.2" cy="248.2" r="2.4"/><circle cx="794.2" cy="243.3" r="2.4"/><circle cx="795.2" cy="238.6" r="2.4"/><circle cx="796.2" cy="234.1" r="2.4"/><circle cx="797.2" cy="229.8" r="2.4"/><circle cx="798.2" cy="225.6" r="2.4"/><circle cx="799.2" cy="221.7" r="2.4"/><circle cx="800.2" cy="217.9" r="2.4"/><circle cx="801.2" cy="214.3" r="2.4"/><circle cx="802.2" cy="210.9" r="2.4"/><circle cx="803.2" cy="207.6" r="2.4"/><circle cx="804.2" cy="204.6" r="2.4"/><circle cx="805.2" cy="201.7" r="2.4"/><circle cx="806.2" cy="199.1" r="2.4"/><circle cx="807.2" cy="196.6" r="2.4"/><circle cx="808.2" cy="194.3" r="2.4"/><circle cx="809.2" cy="192.2" r="2.4"/><circle cx="810.2" cy="190.2" r="2.4"/><circle cx="811.2" cy="188.5" r="2.4"/><circle cx="812.2" cy="186.9" r="2.4"/><circle cx="813.2" cy="185.5" r="2.4"/><circle cx="814.2" cy="184.3" r="2.4"/><circle cx="815.2" cy="183.3" r="2.4"/><circle cx="816.2" cy="182.5" r="2.4"/><circle cx="817.2" cy="181.8" r="2.4"/><circle cx="818.2" cy="181.4" r="2.4"/><circle cx="819.2" cy="181.1" r="2.4"/><circle cx="820.2" cy="181.0" r="2.4"/><circle cx="821.2" cy="181.1" r="2.4"/><circle cx="822.2" cy="181.4" r="2.4"/><circle cx="823.2" cy="181.8" r="2.4"/><circle cx="824.2" cy="182.5" r="2.4"/><circle cx="825.2" cy="183.3" r="2.4"/><circle cx="826.2" cy="184.3" r="2.4"/><circle cx="827.2" cy="185.5" r="2.4"/><circle cx="828.2" cy="186.9" r="2.4"/><circle cx="829.2" cy="188.5" r="2.4"/><circle cx="830.2" cy="190.2" r="2.4"/><circle cx="831.2" cy="192.2" r="2.4"/><circle cx="832.2" cy="194.3" r="2.4"/><circle cx="833.2" cy="196.6" r="2.4"/><circle cx="834.2" cy="199.1" r="2.4"/><circle cx="835.2" cy="201.7" r="2.4"/><circle cx="836.2" cy="204.6" r="2.4"/><circle cx="837.2" cy="207.6" r="2.4"/><circle cx="838.2" cy="210.9" r="2.4"/><circle cx="839.2" cy="214.3" r="2.4"/><circle cx="840.2" cy="217.9" r="2.4"/><circle cx="841.2" cy="221.7" r="2.4"/><circle cx="842.2" cy="225.6" r="2.4"/><circle cx="843.2" cy="229.8" r="2.4"/><circle cx="844.2" cy="234.1" r="2.4"/><circle cx="845.2" cy="238.6" r="2.4"/><circle cx="846.2" cy="243.3" r="2.4"/><circle cx="847.2" cy="248.2" r="2.4"/><circle cx="848.2" cy="253.3" r="2.4"/><circle cx="849.2" cy="258.5" r="2.4"/><circle cx="850.2" cy="264.0" r="2.4"/><circle cx="851.2" cy="269.6" r="2.4"/><circle cx="852.2" cy="275.4" r="2.4"/><circle cx="853.2" cy="281.4" r="2.4"/><circle cx="854.2" cy="287.6" r="2.4"/><circle cx="855.2" cy="293.9" r="2.4"/><circle cx="856.2" cy="300.5" r="2.4"/><circle cx="857.2" cy="307.2" r="2.4"/><circle cx="858.2" cy="314.1" r="2.4"/><circle cx="859.2" cy="321.2" r="2.4"/><circle cx="860.2" cy="328.5" r="2.4"/><circle cx="861.2" cy="336.0" r="2.4"/><circle cx="862.2" cy="343.6" r="2.4"/><circle cx="863.2" cy="351.5" r="2.4"/><circle cx="864.2" cy="359.5" r="2.4"/><circle cx="865.2" cy="367.7" r="2.4"/><circle cx="866.2" cy="376.1" r="2.4"/><circle cx="867.2" cy="384.7" r="2.4"/><circle cx="868.2" cy="393.4" r="2.4"/><circle cx="869.2" cy="402.4" r="2.4"/><circle cx="820.2" cy="261.7" r="2.4"/><circle cx="826.8" cy="246.6" r="2.4"/><circle cx="813.6" cy="246.6" r="2.4"/><circle cx="833.4" cy="232.9" r="2.4"/><circle cx="807.0" cy="232.9" r="2.4"/><circle cx="840.0" cy="221.0" r="2.4"/><circle cx="800.4" cy="221.0" r="2.4"/><circle cx="846.6" cy="212.4" r="2.4"/><circle cx="793.8" cy="212.4" r="2.4"/><circle cx="853.2" cy="205.0" r="2.4"/><circle cx="787.2" cy="205.0" r="2.4"/><circle cx="859.8" cy="198.5" r="2.4"/><circle cx="780.6" cy="198.5" r="2.4"/><circle cx="866.4" cy="194.9" r="2.4"/><circle cx="774.0" cy="194.9" r="2.4"/><circle cx="873.0" cy="192.7" r="2.4"/><circle cx="767.4" cy="192.7" r="2.4"/><circle cx="879.6" cy="193.4" r="2.4"/><circle cx="760.8" cy="193.4" r="2.4"/><circle cx="886.2" cy="196.0" r="2.4"/><circle cx="754.2" cy="196.0" r="2.4"/><circle cx="892.8" cy="200.0" r="2.4"/><circle cx="747.6" cy="200.0" r="2.4"/><circle cx="899.4" cy="205.9" r="2.4"/><circle cx="741.0" cy="205.9" r="2.4"/><circle cx="906.0" cy="214.0" r="2.4"/><circle cx="734.4" cy="214.0" r="2.4"/><circle cx="912.6" cy="224.1" r="2.4"/><circle cx="727.8" cy="224.1" r="2.4"/><circle cx="919.2" cy="236.0" r="2.4"/><circle cx="721.2" cy="236.0" r="2.4"/><circle cx="925.8" cy="249.8" r="2.4"/><circle cx="714.6" cy="249.8" r="2.4"/><circle cx="932.4" cy="265.9" r="2.4"/><circle cx="708.0" cy="265.9" r="2.4"/><circle cx="939.0" cy="283.0" r="2.4"/><circle cx="701.4" cy="283.0" r="2.4"/><circle cx="945.6" cy="303.0" r="2.4"/><circle cx="694.8" cy="303.0" r="2.4"/><circle cx="952.2" cy="325.0" r="2.4"/><circle cx="688.2" cy="325.0" r="2.4"/><circle cx="958.8" cy="350.0" r="2.4"/><circle cx="681.6" cy="350.0" r="2.4"/><circle cx="965.4" cy="378.0" r="2.4"/><circle cx="675.0" cy="378.0" r="2.4"/><circle cx="972.0" cy="407.0" r="2.4"/><circle cx="668.4" cy="407.0" r="2.4"/><circle cx="826.8" cy="279.4" r="2.4"/><circle cx="813.6" cy="279.4" r="2.4"/><circle cx="833.4" cy="297.9" r="2.4"/><circle cx="807.0" cy="297.9" r="2.4"/><circle cx="840.0" cy="319.5" r="2.4"/><circle cx="800.4" cy="319.5" r="2.4"/><circle cx="846.6" cy="341.4" r="2.4"/><circle cx="793.8" cy="341.4" r="2.4"/><circle cx="853.2" cy="365.0" r="2.4"/><circle cx="787.2" cy="365.0" r="2.4"/><circle cx="859.8" cy="390.0" r="2.4"/><circle cx="780.6" cy="390.0" r="2.4"/></g><path d="M650.2,470.0L650.9,467.5L651.5,464.9L652.2,462.4L652.9,459.9L653.5,457.4L654.2,454.9L654.8,452.4L655.5,450.0L656.2,447.5L656.8,445.1L657.5,442.6L658.2,440.2L658.8,437.8L659.5,435.4L660.2,433.1L660.8,430.7L661.5,428.3L662.2,426.0L662.8,423.7L663.5,421.4L664.1,419.1L664.8,416.8L665.5,414.5L666.1,412.2L666.8,410.0L667.5,407.8L668.1,405.5L668.8,403.3L669.5,401.0L670.1,398.8L670.8,396.6L671.5,394.3L672.1,392.1L672.8,389.9L673.4,387.8L674.1,385.6L674.8,383.4L675.4,381.3L676.1,379.2L676.8,377.1L677.4,375.0L678.1,373.0L678.8,371.0L679.4,369.0L680.1,367.1L680.7,365.1L681.4,363.3L682.1,361.4L682.7,359.6L683.4,357.9L684.1,356.1L684.7,354.4L685.4,352.6L686.1,350.9L686.7,349.2L687.4,347.6L688.1,345.9L688.7,344.3L689.4,342.7L690.0,341.1L690.7,339.5L691.4,338.0L692.0,336.5L692.7,335.0L693.4,333.5L694.0,332.0L694.7,330.6L695.4,329.2L696.0,327.8L696.7,326.4L697.3,325.1L698.0,323.8L698.7,322.5L699.3,321.2L700.0,319.9L700.7,318.6L701.3,317.3L702.0,315.9L702.7,314.7L703.3,313.4L704.0,312.1L704.7,310.8L705.3,309.6L706.0,308.3L706.6,307.1L707.3,305.9L708.0,304.7L708.6,303.6L709.3,302.4L710.0,301.3L710.6,300.3L711.3,299.3L712.0,298.3L712.6,297.3L713.3,296.4L714.0,295.5L714.6,294.7L715.3,293.9L715.9,293.2L716.6,292.6L717.3,291.9L717.9,291.4L718.6,290.8L719.3,290.3L719.9,289.8L720.6,289.3L721.3,288.8L721.9,288.3L722.6,287.9L723.2,287.5L723.9,287.0L724.6,286.6L725.2,286.2L725.9,285.9L726.6,285.5L727.2,285.1L727.9,284.8L728.6,284.4L729.2,284.1L729.9,283.7L730.6,283.4L731.2,283.0L731.9,282.7L732.5,282.4L733.2,282.0L733.9,281.7L734.5,281.3L735.2,281.0L735.9,280.6L736.5,280.3L737.2,279.9L737.9,279.5L738.5,279.1L739.2,278.6L739.8,278.2L740.5,277.8L741.2,277.4L741.8,277.0L742.5,276.6L743.2,276.2L743.8,275.9L744.5,275.6L745.2,275.2L745.8,275.0L746.5,274.7L747.2,274.5L747.8,274.3L748.5,274.2L749.1,274.1L749.8,274.0L750.5,274.0L751.1,274.0L751.8,274.0L752.5,274.1L753.1,274.1L753.8,274.2L754.5,274.3L755.1,274.3L755.8,274.4L756.5,274.5L757.1,274.6L757.8,274.8L758.4,274.9L759.1,275.0L759.8,275.2L760.4,275.3L761.1,275.5L761.8,275.6L762.4,275.8L763.1,276.0L763.8,276.1L764.4,276.3L765.1,276.5L765.7,276.7L766.4,276.9L767.1,277.1L767.7,277.3L768.4,277.5L769.1,277.7L769.7,277.9L770.4,278.1L771.1,278.3L771.7,278.5L772.4,278.8L773.1,279.1L773.7,279.5L774.4,279.8L775.0,280.2L775.7,280.5L776.4,280.9L777.0,281.3L777.7,281.7L778.4,282.2L779.0,282.6L779.7,283.0L780.4,283.4L781.0,283.8L781.7,284.2L782.3,284.6L783.0,284.9L783.7,285.3L784.3,285.6L785.0,285.9L785.7,286.2L786.3,286.5L787.0,286.9L787.7,287.2L788.3,287.5L789.0,287.8L789.7,288.1L790.3,288.4L791.0,288.6L791.6,288.8L792.3,288.9L793.0,289.0L793.6,288.9L794.3,288.4L795.0,287.5L795.6,286.2L796.3,284.6L797.0,282.8L797.6,279.7L798.3,273.1L799.0,263.9L799.6,253.7L800.3,243.9L800.9,232.9L801.6,220.8L802.3,210.1L802.9,202.9L803.6,197.8L804.3,193.7L804.9,190.0L805.6,186.1L806.3,181.6L806.9,176.2L807.6,170.1L808.2,163.7L808.9,157.0L809.6,150.4L810.2,143.9L810.9,137.9L811.6,132.4L812.2,127.8L812.9,123.7L813.6,119.6L814.2,115.7L814.9,111.9L815.6,108.3L816.2,104.9L816.9,101.8L817.5,98.8L818.2,96.2L818.9,93.8L819.5,91.7L820.2,90.0L820.9,91.7L821.5,93.8L822.2,96.2L822.9,98.8L823.5,101.8L824.2,104.9L824.8,108.3L825.5,111.9L826.2,115.7L826.8,119.6L827.5,123.7L828.2,127.8L828.8,132.4L829.5,137.9L830.2,143.9L830.8,150.4L831.5,157.0L832.2,163.7L832.8,170.1L833.5,176.2L834.1,181.6L834.8,186.1L835.5,190.0L836.1,193.7L836.8,197.8L837.5,202.9L838.1,210.1L838.8,220.8L839.5,232.9L840.1,243.9L840.8,253.7L841.5,263.9L842.1,273.1L842.8,279.7L843.4,282.8L844.1,284.6L844.8,286.2L845.4,287.5L846.1,288.4L846.8,288.9L847.4,289.0L848.1,288.9L848.8,288.8L849.4,288.6L850.1,288.4L850.7,288.1L851.4,287.8L852.1,287.5L852.7,287.2L853.4,286.9L854.1,286.5L854.7,286.2L855.4,285.9L856.1,285.6L856.7,285.3L857.4,284.9L858.1,284.6L858.7,284.2L859.4,283.8L860.0,283.4L860.7,283.0L861.4,282.6L862.0,282.2L862.7,281.7L863.4,281.3L864.0,280.9L864.7,280.5L865.4,280.2L866.0,279.8L866.7,279.5L867.3,279.1L868.0,278.8L868.7,278.5L869.3,278.3L870.0,278.1L870.7,277.9L871.3,277.7L872.0,277.5L872.7,277.3L873.3,277.1L874.0,276.9L874.7,276.7L875.3,276.5L876.0,276.3L876.6,276.1L877.3,276.0L878.0,275.8L878.6,275.6L879.3,275.5L880.0,275.3L880.6,275.2L881.3,275.0L882.0,274.9L882.6,274.8L883.3,274.6L884.0,274.5L884.6,274.4L885.3,274.3L885.9,274.3L886.6,274.2L887.3,274.1L887.9,274.1L888.6,274.0L889.3,274.0L889.9,274.0L890.6,274.0L891.3,274.1L891.9,274.2L892.6,274.3L893.2,274.5L893.9,274.7L894.6,275.0L895.2,275.2L895.9,275.6L896.6,275.9L897.2,276.2L897.9,276.6L898.6,277.0L899.2,277.4L899.9,277.8L900.6,278.2L901.2,278.6L901.9,279.1L902.5,279.5L903.2,279.9L903.9,280.3L904.5,280.6L905.2,281.0L905.9,281.3L906.5,281.7L907.2,282.0L907.9,282.4L908.5,282.7L909.2,283.0L909.8,283.4L910.5,283.7L911.2,284.1L911.8,284.4L912.5,284.8L913.2,285.1L913.8,285.5L914.5,285.9L915.2,286.2L915.8,286.6L916.5,287.0L917.2,287.5L917.8,287.9L918.5,288.3L919.1,288.8L919.8,289.3L920.5,289.8L921.1,290.3L921.8,290.8L922.5,291.4L923.1,291.9L923.8,292.6L924.5,293.2L925.1,293.9L925.8,294.7L926.5,295.5L927.1,296.4L927.8,297.3L928.4,298.3L929.1,299.3L929.8,300.3L930.4,301.3L931.1,302.4L931.8,303.6L932.4,304.7L933.1,305.9L933.8,307.1L934.4,308.3L935.1,309.6L935.7,310.8L936.4,312.1L937.1,313.4L937.7,314.7L938.4,315.9L939.1,317.3L939.7,318.6L940.4,319.9L941.1,321.2L941.7,322.5L942.4,323.8L943.1,325.1L943.7,326.4L944.4,327.8L945.0,329.2L945.7,330.6L946.4,332.0L947.0,333.5L947.7,335.0L948.4,336.5L949.0,338.0L949.7,339.5L950.4,341.1L951.0,342.7L951.7,344.3L952.3,345.9L953.0,347.6L953.7,349.2L954.3,350.9L955.0,352.6L955.7,354.4L956.3,356.1L957.0,357.9L957.7,359.6L958.3,361.4L959.0,363.3L959.7,365.1L960.3,367.1L961.0,369.0L961.6,371.0L962.3,373.0L963.0,375.0L963.6,377.1L964.3,379.2L965.0,381.3L965.6,383.4L966.3,385.6L967.0,387.8L967.6,389.9L968.3,392.1L969.0,394.3L969.6,396.6L970.3,398.8L970.9,401.0L971.6,403.3L972.3,405.5L972.9,407.8L973.6,410.0L974.3,412.2L974.9,414.5L975.6,416.8L976.3,419.1L976.9,421.4L977.6,423.7L978.2,426.0L978.9,428.3L979.6,430.7L980.2,433.1L980.9,435.4L981.6,437.8L982.2,440.2L982.9,442.6L983.6,445.1L984.2,447.5L984.9,450.0L985.6,452.4L986.2,454.9L986.9,457.4L987.5,459.9L988.2,462.4L988.9,464.9L989.5,467.5L990.2,470.0" fill="none" stroke="#8000ff" stroke-width="3.3" stroke-opacity="0.42" stroke-linejoin="round"/><path d="M650.2,470.0L650.9,467.4L651.5,464.8L652.2,462.2L652.9,459.5L653.5,456.8L654.2,454.1L654.8,451.4L655.5,448.6L656.2,445.8L656.8,442.9L657.5,440.1L658.2,437.2L658.8,434.3L659.5,431.4L660.2,428.4L660.8,425.4L661.5,422.5L662.2,419.4L662.8,416.4L663.5,413.3L664.1,410.3L664.8,407.1L665.5,403.8L666.1,400.4L666.8,396.9L667.5,393.4L668.1,389.8L668.8,386.2L669.5,382.6L670.1,379.0L670.8,375.5L671.5,372.0L672.1,368.7L672.8,365.5L673.4,362.4L674.1,359.5L674.8,356.7L675.4,354.1L676.1,351.6L676.8,349.2L677.4,346.8L678.1,344.5L678.8,342.2L679.4,340.0L680.1,337.9L680.7,335.8L681.4,333.7L682.1,331.7L682.7,329.6L683.4,327.6L684.1,325.6L684.7,323.6L685.4,321.6L686.1,319.6L686.7,317.6L687.4,315.6L688.1,313.6L688.7,311.6L689.4,309.6L690.0,307.6L690.7,305.6L691.4,303.7L692.0,301.7L692.7,299.7L693.4,297.8L694.0,295.9L694.7,294.0L695.4,292.1L696.0,290.2L696.7,288.3L697.3,286.5L698.0,284.7L698.7,282.9L699.3,281.1L700.0,279.3L700.7,277.6L701.3,275.9L702.0,274.2L702.7,272.5L703.3,270.9L704.0,269.3L704.7,267.7L705.3,266.1L706.0,264.6L706.6,263.0L707.3,261.5L708.0,259.9L708.6,258.4L709.3,256.9L710.0,255.4L710.6,253.9L711.3,252.5L712.0,251.0L712.6,249.6L713.3,248.2L714.0,246.8L714.6,245.4L715.3,244.0L715.9,242.7L716.6,241.4L717.3,240.1L717.9,238.8L718.6,237.5L719.3,236.3L719.9,235.0L720.6,233.8L721.3,232.6L721.9,231.5L722.6,230.3L723.2,229.2L723.9,228.0L724.6,226.9L725.2,225.7L725.9,224.6L726.6,223.4L727.2,222.3L727.9,221.1L728.6,220.0L729.2,218.9L729.9,217.8L730.6,216.7L731.2,215.7L731.9,214.7L732.5,213.7L733.2,212.7L733.9,211.8L734.5,210.9L735.2,210.0L735.9,209.2L736.5,208.4L737.2,207.7L737.9,207.0L738.5,206.3L739.2,205.8L739.8,205.3L740.5,204.8L741.2,204.3L741.8,203.9L742.5,203.4L743.2,203.0L743.8,202.5L744.5,202.1L745.2,201.7L745.8,201.3L746.5,200.8L747.2,200.4L747.8,200.1L748.5,199.7L749.1,199.3L749.8,199.0L750.5,198.6L751.1,198.3L751.8,198.0L752.5,197.7L753.1,197.5L753.8,197.2L754.5,197.0L755.1,196.8L755.8,196.6L756.5,196.4L757.1,196.3L757.8,196.2L758.4,196.1L759.1,196.0L759.8,196.0L760.4,196.0L761.1,196.0L761.8,196.1L762.4,196.1L763.1,196.2L763.8,196.4L764.4,196.5L765.1,196.7L765.7,196.8L766.4,197.0L767.1,197.2L767.7,197.4L768.4,197.6L769.1,197.9L769.7,198.1L770.4,198.3L771.1,198.6L771.7,198.8L772.4,199.0L773.1,199.3L773.7,199.5L774.4,199.7L775.0,199.9L775.7,200.2L776.4,200.4L777.0,200.7L777.7,201.0L778.4,201.3L779.0,201.7L779.7,202.0L780.4,202.4L781.0,202.7L781.7,203.1L782.3,203.4L783.0,203.8L783.7,204.1L784.3,204.4L785.0,204.7L785.7,205.0L786.3,205.2L787.0,205.5L787.7,205.7L788.3,205.8L789.0,205.9L789.7,206.0L790.3,206.0L791.0,206.0L791.6,205.8L792.3,205.7L793.0,205.5L793.6,205.2L794.3,204.9L795.0,204.5L795.6,204.0L796.3,203.6L797.0,203.1L797.6,202.5L798.3,201.9L799.0,201.3L799.6,200.6L800.3,199.9L800.9,199.0L801.6,197.7L802.3,196.1L802.9,194.2L803.6,192.0L804.3,189.7L804.9,187.2L805.6,184.5L806.3,181.8L806.9,178.4L807.6,174.2L808.2,169.4L808.9,164.3L809.6,158.9L810.2,153.6L810.9,148.5L811.6,143.8L812.2,139.8L812.9,136.3L813.6,132.8L814.2,129.4L814.9,126.1L815.6,122.9L816.2,119.9L816.9,117.0L817.5,114.2L818.2,111.6L818.9,109.2L819.5,107.0L820.2,105.0L820.9,107.0L821.5,109.2L822.2,111.6L822.9,114.2L823.5,117.0L824.2,119.9L824.8,122.9L825.5,126.1L826.2,129.4L826.8,132.8L827.5,136.3L828.2,139.8L828.8,143.8L829.5,148.5L830.2,153.6L830.8,158.9L831.5,164.3L832.2,169.4L832.8,174.2L833.5,178.4L834.1,181.8L834.8,184.5L835.5,187.2L836.1,189.7L836.8,192.0L837.5,194.2L838.1,196.1L838.8,197.7L839.5,199.0L840.1,199.9L840.8,200.6L841.5,201.3L842.1,201.9L842.8,202.5L843.4,203.1L844.1,203.6L844.8,204.0L845.4,204.5L846.1,204.9L846.8,205.2L847.4,205.5L848.1,205.7L848.8,205.8L849.4,206.0L850.1,206.0L850.7,206.0L851.4,205.9L852.1,205.8L852.7,205.7L853.4,205.5L854.1,205.2L854.7,205.0L855.4,204.7L856.1,204.4L856.7,204.1L857.4,203.8L858.1,203.4L858.7,203.1L859.4,202.7L860.0,202.4L860.7,202.0L861.4,201.7L862.0,201.3L862.7,201.0L863.4,200.7L864.0,200.4L864.7,200.2L865.4,199.9L866.0,199.7L866.7,199.5L867.3,199.3L868.0,199.0L868.7,198.8L869.3,198.6L870.0,198.3L870.7,198.1L871.3,197.9L872.0,197.6L872.7,197.4L873.3,197.2L874.0,197.0L874.7,196.8L875.3,196.7L876.0,196.5L876.6,196.4L877.3,196.2L878.0,196.1L878.6,196.1L879.3,196.0L880.0,196.0L880.6,196.0L881.3,196.0L882.0,196.1L882.6,196.2L883.3,196.3L884.0,196.4L884.6,196.6L885.3,196.8L885.9,197.0L886.6,197.2L887.3,197.5L887.9,197.7L888.6,198.0L889.3,198.3L889.9,198.6L890.6,199.0L891.3,199.3L891.9,199.7L892.6,200.1L893.2,200.4L893.9,200.8L894.6,201.3L895.2,201.7L895.9,202.1L896.6,202.5L897.2,203.0L897.9,203.4L898.6,203.9L899.2,204.3L899.9,204.8L900.6,205.3L901.2,205.8L901.9,206.3L902.5,207.0L903.2,207.7L903.9,208.4L904.5,209.2L905.2,210.0L905.9,210.9L906.5,211.8L907.2,212.7L907.9,213.7L908.5,214.7L909.2,215.7L909.8,216.7L910.5,217.8L911.2,218.9L911.8,220.0L912.5,221.1L913.2,222.3L913.8,223.4L914.5,224.6L915.2,225.7L915.8,226.9L916.5,228.0L917.2,229.2L917.8,230.3L918.5,231.5L919.1,232.6L919.8,233.8L920.5,235.0L921.1,236.3L921.8,237.5L922.5,238.8L923.1,240.1L923.8,241.4L924.5,242.7L925.1,244.0L925.8,245.4L926.5,246.8L927.1,248.2L927.8,249.6L928.4,251.0L929.1,252.5L929.8,253.9L930.4,255.4L931.1,256.9L931.8,258.4L932.4,259.9L933.1,261.5L933.8,263.0L934.4,264.6L935.1,266.1L935.7,267.7L936.4,269.3L937.1,270.9L937.7,272.5L938.4,274.2L939.1,275.9L939.7,277.6L940.4,279.3L941.1,281.1L941.7,282.9L942.4,284.7L943.1,286.5L943.7,288.3L944.4,290.2L945.0,292.1L945.7,294.0L946.4,295.9L947.0,297.8L947.7,299.7L948.4,301.7L949.0,303.7L949.7,305.6L950.4,307.6L951.0,309.6L951.7,311.6L952.3,313.6L953.0,315.6L953.7,317.6L954.3,319.6L955.0,321.6L955.7,323.6L956.3,325.6L957.0,327.6L957.7,329.6L958.3,331.7L959.0,333.7L959.7,335.8L960.3,337.9L961.0,340.0L961.6,342.2L962.3,344.5L963.0,346.8L963.6,349.2L964.3,351.6L965.0,354.1L965.6,356.7L966.3,359.5L967.0,362.4L967.6,365.5L968.3,368.7L969.0,372.0L969.6,375.5L970.3,379.0L970.9,382.6L971.6,386.2L972.3,389.8L972.9,393.4L973.6,396.9L974.3,400.4L974.9,403.8L975.6,407.1L976.3,410.3L976.9,413.3L977.6,416.4L978.2,419.4L978.9,422.5L979.6,425.4L980.2,428.4L980.9,431.4L981.6,434.3L982.2,437.2L982.9,440.1L983.6,442.9L984.2,445.8L984.9,448.6L985.6,451.4L986.2,454.1L986.9,456.8L987.5,459.5L988.2,462.2L988.9,464.8L989.5,467.4L990.2,470.0" fill="none" stroke="#2adddd" stroke-width="3.3" stroke-opacity="0.42" stroke-linejoin="round"/><path d="M650.2,470.0L650.9,466.6L651.5,463.3L652.2,459.9L652.9,456.4L653.5,453.0L654.2,449.6L654.8,446.1L655.5,442.6L656.2,439.1L656.8,435.6L657.5,432.1L658.2,428.6L658.8,425.0L659.5,421.4L660.2,417.8L660.8,414.2L661.5,410.6L662.2,406.9L662.8,403.1L663.5,399.3L664.1,395.3L664.8,391.3L665.5,387.3L666.1,383.2L666.8,379.1L667.5,375.1L668.1,371.1L668.8,367.2L669.5,363.3L670.1,359.6L670.8,355.9L671.5,352.4L672.1,349.1L672.8,345.9L673.4,342.9L674.1,340.0L674.8,337.2L675.4,334.4L676.1,331.7L676.8,329.1L677.4,326.5L678.1,324.0L678.8,321.5L679.4,319.1L680.1,316.7L680.7,314.4L681.4,312.1L682.1,309.9L682.7,307.7L683.4,305.6L684.1,303.5L684.7,301.4L685.4,299.4L686.1,297.4L686.7,295.5L687.4,293.6L688.1,291.7L688.7,289.9L689.4,288.2L690.0,286.5L690.7,284.8L691.4,283.1L692.0,281.5L692.7,279.9L693.4,278.3L694.0,276.7L694.7,275.2L695.4,273.6L696.0,272.1L696.7,270.6L697.3,269.1L698.0,267.5L698.7,266.0L699.3,264.4L700.0,262.9L700.7,261.3L701.3,259.7L702.0,258.1L702.7,256.4L703.3,254.8L704.0,253.1L704.7,251.4L705.3,249.7L706.0,248.0L706.6,246.4L707.3,244.7L708.0,243.0L708.6,241.3L709.3,239.7L710.0,238.0L710.6,236.4L711.3,234.8L712.0,233.2L712.6,231.7L713.3,230.2L714.0,228.7L714.6,227.2L715.3,225.8L715.9,224.5L716.6,223.1L717.3,221.9L717.9,220.6L718.6,219.4L719.3,218.2L719.9,217.0L720.6,215.8L721.3,214.6L721.9,213.5L722.6,212.4L723.2,211.2L723.9,210.1L724.6,209.0L725.2,208.0L725.9,206.9L726.6,205.9L727.2,204.9L727.9,203.9L728.6,202.9L729.2,201.9L729.9,201.0L730.6,200.0L731.2,199.1L731.9,198.2L732.5,197.3L733.2,196.5L733.9,195.6L734.5,194.8L735.2,194.0L735.9,193.2L736.5,192.4L737.2,191.5L737.9,190.7L738.5,189.8L739.2,189.0L739.8,188.1L740.5,187.2L741.2,186.4L741.8,185.5L742.5,184.6L743.2,183.8L743.8,182.9L744.5,182.1L745.2,181.3L745.8,180.5L746.5,179.7L747.2,178.9L747.8,178.1L748.5,177.4L749.1,176.6L749.8,176.0L750.5,175.3L751.1,174.7L751.8,174.1L752.5,173.5L753.1,172.9L753.8,172.5L754.5,172.0L755.1,171.6L755.8,171.2L756.5,170.9L757.1,170.6L757.8,170.4L758.4,170.2L759.1,170.1L759.8,170.0L760.4,170.0L761.1,170.0L761.8,170.0L762.4,170.0L763.1,170.1L763.8,170.1L764.4,170.1L765.1,170.1L765.7,170.2L766.4,170.2L767.1,170.3L767.7,170.3L768.4,170.4L769.1,170.4L769.7,170.5L770.4,170.5L771.1,170.6L771.7,170.7L772.4,170.7L773.1,170.8L773.7,170.9L774.4,170.9L775.0,171.0L775.7,171.1L776.4,171.1L777.0,171.2L777.7,171.2L778.4,171.3L779.0,171.4L779.7,171.4L780.4,171.5L781.0,171.6L781.7,171.6L782.3,171.7L783.0,171.7L783.7,171.8L784.3,171.8L785.0,171.8L785.7,171.9L786.3,171.9L787.0,171.9L787.7,172.0L788.3,172.0L789.0,172.0L789.7,172.0L790.3,172.0L791.0,172.0L791.6,172.0L792.3,171.9L793.0,171.9L793.6,171.8L794.3,171.7L795.0,171.7L795.6,171.6L796.3,171.5L797.0,171.3L797.6,171.2L798.3,171.1L799.0,170.9L799.6,170.8L800.3,170.6L800.9,170.5L801.6,170.3L802.3,170.1L802.9,169.9L803.6,169.7L804.3,169.4L804.9,169.0L805.6,168.6L806.3,168.1L806.9,167.5L807.6,166.9L808.2,166.2L808.9,165.5L809.6,164.7L810.2,163.9L810.9,163.0L811.6,162.1L812.2,161.1L812.9,160.1L813.6,159.1L814.2,158.0L814.9,156.9L815.6,155.7L816.2,154.6L816.9,153.4L817.5,152.1L818.2,150.9L818.9,149.6L819.5,148.3L820.2,147.0L820.9,148.3L821.5,149.6L822.2,150.9L822.9,152.1L823.5,153.4L824.2,154.6L824.8,155.7L825.5,156.9L826.2,158.0L826.8,159.1L827.5,160.1L828.2,161.1L828.8,162.1L829.5,163.0L830.2,163.9L830.8,164.7L831.5,165.5L832.2,166.2L832.8,166.9L833.5,167.5L834.1,168.1L834.8,168.6L835.5,169.0L836.1,169.4L836.8,169.7L837.5,169.9L838.1,170.1L838.8,170.3L839.5,170.5L840.1,170.6L840.8,170.8L841.5,170.9L842.1,171.1L842.8,171.2L843.4,171.3L844.1,171.5L844.8,171.6L845.4,171.7L846.1,171.7L846.8,171.8L847.4,171.9L848.1,171.9L848.8,172.0L849.4,172.0L850.1,172.0L850.7,172.0L851.4,172.0L852.1,172.0L852.7,172.0L853.4,171.9L854.1,171.9L854.7,171.9L855.4,171.8L856.1,171.8L856.7,171.8L857.4,171.7L858.1,171.7L858.7,171.6L859.4,171.6L860.0,171.5L860.7,171.4L861.4,171.4L862.0,171.3L862.7,171.2L863.4,171.2L864.0,171.1L864.7,171.1L865.4,171.0L866.0,170.9L866.7,170.9L867.3,170.8L868.0,170.7L868.7,170.7L869.3,170.6L870.0,170.5L870.7,170.5L871.3,170.4L872.0,170.4L872.7,170.3L873.3,170.3L874.0,170.2L874.7,170.2L875.3,170.1L876.0,170.1L876.6,170.1L877.3,170.1L878.0,170.0L878.6,170.0L879.3,170.0L880.0,170.0L880.6,170.0L881.3,170.1L882.0,170.2L882.6,170.4L883.3,170.6L884.0,170.9L884.6,171.2L885.3,171.6L885.9,172.0L886.6,172.5L887.3,172.9L887.9,173.5L888.6,174.1L889.3,174.7L889.9,175.3L890.6,176.0L891.3,176.6L891.9,177.4L892.6,178.1L893.2,178.9L893.9,179.7L894.6,180.5L895.2,181.3L895.9,182.1L896.6,182.9L897.2,183.8L897.9,184.6L898.6,185.5L899.2,186.4L899.9,187.2L900.6,188.1L901.2,189.0L901.9,189.8L902.5,190.7L903.2,191.5L903.9,192.4L904.5,193.2L905.2,194.0L905.9,194.8L906.5,195.6L907.2,196.5L907.9,197.3L908.5,198.2L909.2,199.1L909.8,200.0L910.5,201.0L911.2,201.9L911.8,202.9L912.5,203.9L913.2,204.9L913.8,205.9L914.5,206.9L915.2,208.0L915.8,209.0L916.5,210.1L917.2,211.2L917.8,212.4L918.5,213.5L919.1,214.6L919.8,215.8L920.5,217.0L921.1,218.2L921.8,219.4L922.5,220.6L923.1,221.9L923.8,223.1L924.5,224.5L925.1,225.8L925.8,227.2L926.5,228.7L927.1,230.2L927.8,231.7L928.4,233.2L929.1,234.8L929.8,236.4L930.4,238.0L931.1,239.7L931.8,241.3L932.4,243.0L933.1,244.7L933.8,246.4L934.4,248.0L935.1,249.7L935.7,251.4L936.4,253.1L937.1,254.8L937.7,256.4L938.4,258.1L939.1,259.7L939.7,261.3L940.4,262.9L941.1,264.4L941.7,266.0L942.4,267.5L943.1,269.1L943.7,270.6L944.4,272.1L945.0,273.6L945.7,275.2L946.4,276.7L947.0,278.3L947.7,279.9L948.4,281.5L949.0,283.1L949.7,284.8L950.4,286.5L951.0,288.2L951.7,289.9L952.3,291.7L953.0,293.6L953.7,295.5L954.3,297.4L955.0,299.4L955.7,301.4L956.3,303.5L957.0,305.6L957.7,307.7L958.3,309.9L959.0,312.1L959.7,314.4L960.3,316.7L961.0,319.1L961.6,321.5L962.3,324.0L963.0,326.5L963.6,329.1L964.3,331.7L965.0,334.4L965.6,337.2L966.3,340.0L967.0,342.9L967.6,345.9L968.3,349.1L969.0,352.4L969.6,355.9L970.3,359.6L970.9,363.3L971.6,367.2L972.3,371.1L972.9,375.1L973.6,379.1L974.3,383.2L974.9,387.3L975.6,391.3L976.3,395.3L976.9,399.3L977.6,403.1L978.2,406.9L978.9,410.6L979.6,414.2L980.2,417.8L980.9,421.4L981.6,425.0L982.2,428.6L982.9,432.1L983.6,435.6L984.2,439.1L984.9,442.6L985.6,446.1L986.2,449.6L986.9,453.0L987.5,456.4L988.2,459.9L988.9,463.3L989.5,466.6L990.2,470.0" fill="none" stroke="#cdd888" stroke-width="3.3" stroke-opacity="0.42" stroke-linejoin="round"/><path d="M625.2,480.0L625.9,477.3L626.5,474.6L627.2,471.9L627.9,469.2L628.5,466.4L629.2,463.7L629.9,460.9L630.5,458.2L631.2,455.4L631.9,452.6L632.5,449.8L633.2,447.0L633.9,444.2L634.5,441.4L635.2,438.6L635.8,435.7L636.5,432.9L637.2,430.0L637.8,427.2L638.5,424.3L639.2,421.4L639.8,418.5L640.5,415.6L641.2,412.7L641.8,409.8L642.5,406.9L643.2,403.9L643.8,400.9L644.5,397.8L645.2,394.7L645.8,391.6L646.5,388.4L647.2,385.3L647.8,382.1L648.5,379.0L649.2,375.8L649.8,372.7L650.5,369.6L651.2,366.5L651.8,363.4L652.5,360.4L653.2,357.4L653.8,354.4L654.5,351.6L655.1,348.7L655.8,346.0L656.5,343.3L657.1,340.6L657.8,338.0L658.5,335.4L659.1,332.8L659.8,330.2L660.5,327.7L661.1,325.2L661.8,322.7L662.5,320.2L663.1,317.8L663.8,315.4L664.5,313.0L665.1,310.7L665.8,308.4L666.5,306.1L667.1,303.8L667.8,301.6L668.5,299.4L669.1,297.3L669.8,295.1L670.5,293.1L671.1,291.0L671.8,289.0L672.5,287.0L673.1,285.1L673.8,283.1L674.4,281.2L675.1,279.4L675.8,277.5L676.4,275.7L677.1,273.9L677.8,272.2L678.4,270.4L679.1,268.7L679.8,267.0L680.4,265.3L681.1,263.7L681.8,262.0L682.4,260.4L683.1,258.8L683.8,257.2L684.4,255.7L685.1,254.1L685.8,252.6L686.4,251.1L687.1,249.6L687.8,248.1L688.4,246.6L689.1,245.2L689.8,243.7L690.4,242.3L691.1,240.9L691.8,239.5L692.4,238.1L693.1,236.7L693.7,235.4L694.4,234.0L695.1,232.6L695.7,231.3L696.4,230.0L697.1,228.6L697.7,227.3L698.4,226.0L699.1,224.7L699.7,223.3L700.4,222.0L701.1,220.6L701.7,219.3L702.4,217.9L703.1,216.6L703.7,215.2L704.4,213.9L705.1,212.6L705.7,211.3L706.4,210.0L707.1,208.7L707.7,207.4L708.4,206.2L709.1,205.0L709.7,203.8L710.4,202.7L711.1,201.6L711.7,200.6L712.4,199.5L713.0,198.6L713.7,197.6L714.4,196.8L715.0,195.9L715.7,195.1L716.4,194.3L717.0,193.5L717.7,192.7L718.4,191.9L719.0,191.1L719.7,190.4L720.4,189.7L721.0,188.9L721.7,188.3L722.4,187.6L723.0,186.9L723.7,186.3L724.4,185.7L725.0,185.0L725.7,184.5L726.4,183.9L727.0,183.3L727.7,182.8L728.4,182.3L729.0,181.8L729.7,181.3L730.4,180.9L731.0,180.4L731.7,180.0L732.4,179.5L733.0,179.1L733.7,178.6L734.3,178.1L735.0,177.7L735.7,177.2L736.3,176.8L737.0,176.4L737.7,176.0L738.3,175.6L739.0,175.2L739.7,174.9L740.3,174.5L741.0,174.2L741.7,173.9L742.3,173.7L743.0,173.5L743.7,173.3L744.3,173.2L745.0,173.1L745.7,173.0L746.3,173.0L747.0,173.0L747.7,173.0L748.3,173.0L749.0,173.1L749.7,173.1L750.3,173.1L751.0,173.1L751.7,173.2L752.3,173.2L753.0,173.3L753.6,173.3L754.3,173.4L755.0,173.5L755.6,173.5L756.3,173.6L757.0,173.7L757.6,173.8L758.3,173.9L759.0,174.0L759.6,174.1L760.3,174.2L761.0,174.3L761.6,174.4L762.3,174.5L763.0,174.6L763.6,174.7L764.3,174.8L765.0,175.0L765.6,175.1L766.3,175.2L767.0,175.3L767.6,175.5L768.3,175.6L769.0,175.7L769.6,175.9L770.3,176.0L771.0,176.2L771.6,176.4L772.3,176.7L772.9,177.0L773.6,177.4L774.3,177.8L774.9,178.2L775.6,178.6L776.3,179.1L776.9,179.6L777.6,180.0L778.3,180.5L778.9,181.0L779.6,181.4L780.3,181.8L780.9,182.3L781.6,182.6L782.3,183.0L782.9,183.3L783.6,183.6L784.3,183.8L784.9,184.0L785.6,184.1L786.3,184.2L786.9,184.3L787.6,184.4L788.3,184.5L788.9,184.5L789.6,184.6L790.3,184.7L790.9,184.8L791.6,184.8L792.2,184.9L792.9,184.9L793.6,185.0L794.2,185.0L794.9,185.0L795.6,185.0L796.2,184.8L796.9,184.4L797.6,184.0L798.2,183.4L798.9,182.7L799.6,182.0L800.2,181.1L800.9,180.3L801.6,179.4L802.2,178.6L802.9,177.8L803.6,176.8L804.2,175.7L804.9,174.5L805.6,173.1L806.2,171.8L806.9,170.3L807.6,168.8L808.2,167.4L808.9,165.9L809.6,164.5L810.2,163.2L810.9,162.0L811.5,160.9L812.2,160.0L812.9,159.1L813.5,158.3L814.2,157.5L814.9,156.7L815.5,156.0L816.2,155.3L816.9,154.6L817.5,154.0L818.2,153.4L818.9,152.9L819.5,152.4L820.2,152.0L820.9,152.4L821.5,152.9L822.2,153.4L822.9,154.0L823.5,154.6L824.2,155.3L824.9,156.0L825.5,156.7L826.2,157.5L826.9,158.3L827.5,159.1L828.2,160.0L828.9,160.9L829.5,162.0L830.2,163.2L830.8,164.5L831.5,165.9L832.2,167.4L832.8,168.8L833.5,170.3L834.2,171.8L834.8,173.1L835.5,174.5L836.2,175.7L836.8,176.8L837.5,177.8L838.2,178.6L838.8,179.4L839.5,180.3L840.2,181.1L840.8,182.0L841.5,182.7L842.2,183.4L842.8,184.0L843.5,184.4L844.2,184.8L844.8,185.0L845.5,185.0L846.2,185.0L846.8,185.0L847.5,184.9L848.2,184.9L848.8,184.8L849.5,184.8L850.1,184.7L850.8,184.6L851.5,184.5L852.1,184.5L852.8,184.4L853.5,184.3L854.1,184.2L854.8,184.1L855.5,184.0L856.1,183.8L856.8,183.6L857.5,183.3L858.1,183.0L858.8,182.6L859.5,182.3L860.1,181.8L860.8,181.4L861.5,181.0L862.1,180.5L862.8,180.0L863.5,179.6L864.1,179.1L864.8,178.6L865.5,178.2L866.1,177.8L866.8,177.4L867.5,177.0L868.1,176.7L868.8,176.4L869.4,176.2L870.1,176.0L870.8,175.9L871.4,175.7L872.1,175.6L872.8,175.5L873.4,175.3L874.1,175.2L874.8,175.1L875.4,175.0L876.1,174.8L876.8,174.7L877.4,174.6L878.1,174.5L878.8,174.4L879.4,174.3L880.1,174.2L880.8,174.1L881.4,174.0L882.1,173.9L882.8,173.8L883.4,173.7L884.1,173.6L884.8,173.5L885.4,173.5L886.1,173.4L886.8,173.3L887.4,173.3L888.1,173.2L888.7,173.2L889.4,173.1L890.1,173.1L890.7,173.1L891.4,173.1L892.1,173.0L892.7,173.0L893.4,173.0L894.1,173.0L894.7,173.0L895.4,173.1L896.1,173.2L896.7,173.3L897.4,173.5L898.1,173.7L898.7,173.9L899.4,174.2L900.1,174.5L900.7,174.9L901.4,175.2L902.1,175.6L902.7,176.0L903.4,176.4L904.1,176.8L904.7,177.2L905.4,177.7L906.1,178.1L906.7,178.6L907.4,179.1L908.0,179.5L908.7,180.0L909.4,180.4L910.0,180.9L910.7,181.3L911.4,181.8L912.0,182.3L912.7,182.8L913.4,183.3L914.0,183.9L914.7,184.5L915.4,185.0L916.0,185.7L916.7,186.3L917.4,186.9L918.0,187.6L918.7,188.3L919.4,188.9L920.0,189.7L920.7,190.4L921.4,191.1L922.0,191.9L922.7,192.7L923.4,193.5L924.0,194.3L924.7,195.1L925.4,195.9L926.0,196.8L926.7,197.6L927.4,198.6L928.0,199.5L928.7,200.6L929.3,201.6L930.0,202.7L930.7,203.8L931.3,205.0L932.0,206.2L932.7,207.4L933.3,208.7L934.0,210.0L934.7,211.3L935.3,212.6L936.0,213.9L936.7,215.2L937.3,216.6L938.0,217.9L938.7,219.3L939.3,220.6L940.0,222.0L940.7,223.3L941.3,224.7L942.0,226.0L942.7,227.3L943.3,228.6L944.0,230.0L944.7,231.3L945.3,232.6L946.0,234.0L946.7,235.4L947.3,236.7L948.0,238.1L948.6,239.5L949.3,240.9L950.0,242.3L950.6,243.7L951.3,245.2L952.0,246.6L952.6,248.1L953.3,249.6L954.0,251.1L954.6,252.6L955.3,254.1L956.0,255.7L956.6,257.2L957.3,258.8L958.0,260.4L958.6,262.0L959.3,263.7L960.0,265.3L960.6,267.0L961.3,268.7L962.0,270.4L962.6,272.2L963.3,273.9L964.0,275.7L964.6,277.5L965.3,279.4L966.0,281.2L966.6,283.1L967.3,285.1L967.9,287.0L968.6,289.0L969.3,291.0L969.9,293.1L970.6,295.1L971.3,297.3L971.9,299.4L972.6,301.6L973.3,303.8L973.9,306.1L974.6,308.4L975.3,310.7L975.9,313.0L976.6,315.4L977.3,317.8L977.9,320.2L978.6,322.7L979.3,325.2L979.9,327.7L980.6,330.2L981.3,332.8L981.9,335.4L982.6,338.0L983.3,340.6L983.9,343.3L984.6,346.0L985.3,348.7L985.9,351.6L986.6,354.4L987.2,357.4L987.9,360.4L988.6,363.4L989.2,366.5L989.9,369.6L990.6,372.7L991.2,375.8L991.9,379.0L992.6,382.1L993.2,385.3L993.9,388.4L994.6,391.6L995.2,394.7L995.9,397.8L996.6,400.9L997.2,403.9L997.9,406.9L998.6,409.8L999.2,412.7L999.9,415.6L1000.6,418.5L1001.2,421.4L1001.9,424.3L1002.6,427.2L1003.2,430.0L1003.9,432.9L1004.6,435.7L1005.2,438.6L1005.9,441.4L1006.5,444.2L1007.2,447.0L1007.9,449.8L1008.5,452.6L1009.2,455.4L1009.9,458.2L1010.5,460.9L1011.2,463.7L1011.9,466.4L1012.5,469.2L1013.2,471.9L1013.9,474.6L1014.5,477.3L1015.2,480.0" fill="none" stroke="#ff0000" stroke-width="3.3" stroke-opacity="0.42" stroke-linejoin="round"/><path d="M681.00,387.10V396.10M698.40,320.50V371.80M715.80,291.00V300.00M733.20,275.20V284.20M750.60,276.00V285.00M768.00,279.20V288.20M785.40,277.90V286.90M802.80,196.90V205.90M820.20,87.60V96.60M837.60,196.50V205.50M855.00,275.20V284.20M872.40,272.60V281.60M889.80,264.70V273.70M907.20,266.00V275.00M924.60,280.00V306.00M942.00,307.00V395.50M959.40,375.20V384.20" stroke="#8000ff" stroke-width="2.1" fill="none"/><circle cx="681.00" cy="391.60" r="6.1" fill="none" stroke="#8000ff" stroke-width="2.2"/><circle cx="698.40" cy="336.80" r="6.1" fill="none" stroke="#8000ff" stroke-width="2.2"/><circle cx="715.80" cy="295.50" r="6.1" fill="none" stroke="#8000ff" stroke-width="2.2"/><circle cx="733.20" cy="279.70" r="6.1" fill="none" stroke="#8000ff" stroke-width="2.2"/><circle cx="750.60" cy="280.50" r="6.1" fill="none" stroke="#8000ff" stroke-width="2.2"/><circle cx="768.00" cy="283.70" r="6.1" fill="none" stroke="#8000ff" stroke-width="2.2"/><circle cx="785.40" cy="282.40" r="6.1" fill="none" stroke="#8000ff" stroke-width="2.2"/><circle cx="802.80" cy="201.40" r="6.1" fill="none" stroke="#8000ff" stroke-width="2.2"/><circle cx="820.20" cy="92.10" r="6.1" fill="none" stroke="#8000ff" stroke-width="2.2"/><circle cx="837.60" cy="201.00" r="6.1" fill="none" stroke="#8000ff" stroke-width="2.2"/><circle cx="855.00" cy="279.70" r="6.1" fill="none" stroke="#8000ff" stroke-width="2.2"/><circle cx="872.40" cy="277.10" r="6.1" fill="none" stroke="#8000ff" stroke-width="2.2"/><circle cx="889.80" cy="269.20" r="6.1" fill="none" stroke="#8000ff" stroke-width="2.2"/><circle cx="907.20" cy="270.50" r="6.1" fill="none" stroke="#8000ff" stroke-width="2.2"/><circle cx="924.60" cy="290.30" r="6.1" fill="none" stroke="#8000ff" stroke-width="2.2"/><circle cx="942.00" cy="319.20" r="6.1" fill="none" stroke="#8000ff" stroke-width="2.2"/><circle cx="959.40" cy="379.70" r="6.1" fill="none" stroke="#8000ff" stroke-width="2.2"/><path d="M681.00,350.20V359.20M698.40,284.50V293.50M715.80,238.40V247.40M733.20,209.50V218.50M750.60,195.00V204.00M768.00,187.10V196.10M785.40,188.40V197.40M802.80,162.00V171.00M820.20,104.50V113.50M837.60,162.50V171.50M855.00,197.60V206.60M872.40,195.00V204.00M889.80,198.90V207.90M907.20,210.80V219.80M924.60,235.80V244.80M942.00,278.40V395.50M959.40,347.60V356.60" stroke="#2adddd" stroke-width="2.1" fill="none"/><path d="M681.00,360.80L674.70,348.60L687.30,348.60Z" fill="none" stroke="#2adddd" stroke-width="2.2" stroke-linejoin="miter"/><path d="M698.40,295.10L692.10,282.90L704.70,282.90Z" fill="none" stroke="#2adddd" stroke-width="2.2" stroke-linejoin="miter"/><path d="M715.80,249.00L709.50,236.80L722.10,236.80Z" fill="none" stroke="#2adddd" stroke-width="2.2" stroke-linejoin="miter"/><path d="M733.20,220.10L726.90,207.90L739.50,207.90Z" fill="none" stroke="#2adddd" stroke-width="2.2" stroke-linejoin="miter"/><path d="M750.60,205.60L744.30,193.40L756.90,193.40Z" fill="none" stroke="#2adddd" stroke-width="2.2" stroke-linejoin="miter"/><path d="M768.00,197.70L761.70,185.50L774.30,185.50Z" fill="none" stroke="#2adddd" stroke-width="2.2" stroke-linejoin="miter"/><path d="M785.40,199.00L779.10,186.80L791.70,186.80Z" fill="none" stroke="#2adddd" stroke-width="2.2" stroke-linejoin="miter"/><path d="M802.80,172.60L796.50,160.40L809.10,160.40Z" fill="none" stroke="#2adddd" stroke-width="2.2" stroke-linejoin="miter"/><path d="M820.20,115.10L813.90,102.90L826.50,102.90Z" fill="none" stroke="#2adddd" stroke-width="2.2" stroke-linejoin="miter"/><path d="M837.60,173.10L831.30,160.90L843.90,160.90Z" fill="none" stroke="#2adddd" stroke-width="2.2" stroke-linejoin="miter"/><path d="M855.00,208.20L848.70,196.00L861.30,196.00Z" fill="none" stroke="#2adddd" stroke-width="2.2" stroke-linejoin="miter"/><path d="M872.40,205.60L866.10,193.40L878.70,193.40Z" fill="none" stroke="#2adddd" stroke-width="2.2" stroke-linejoin="miter"/><path d="M889.80,209.50L883.50,197.30L896.10,197.30Z" fill="none" stroke="#2adddd" stroke-width="2.2" stroke-linejoin="miter"/><path d="M907.20,221.40L900.90,209.20L913.50,209.20Z" fill="none" stroke="#2adddd" stroke-width="2.2" stroke-linejoin="miter"/><path d="M924.60,246.40L918.30,234.20L930.90,234.20Z" fill="none" stroke="#2adddd" stroke-width="2.2" stroke-linejoin="miter"/><path d="M942.00,292.40L935.70,280.20L948.30,280.20Z" fill="none" stroke="#2adddd" stroke-width="2.2" stroke-linejoin="miter"/><path d="M959.40,358.20L953.10,346.00L965.70,346.00Z" fill="none" stroke="#2adddd" stroke-width="2.2" stroke-linejoin="miter"/><path d="M681.00,341.60V407.00M698.40,281.00V310.00M715.80,224.50V233.50M733.20,191.00V200.00M750.60,177.90V186.90M768.00,168.70V177.70M785.40,167.30V176.30M802.80,165.00V174.00M820.20,142.90V151.90M837.60,164.00V173.00M855.00,167.30V176.30M872.40,163.40V172.40M889.80,164.70V173.70M907.20,172.60V181.60M924.60,202.90V211.90M942.00,256.80V265.80M959.40,310.00V405.00" stroke="#cdd888" stroke-width="2.1" fill="none"/><path d="M681.00,368.70L689.40,377.10L681.00,385.50L672.60,377.10Z" fill="none" stroke="#cdd888" stroke-width="2.2"/><path d="M698.40,280.60L706.80,289.00L698.40,297.40L690.00,289.00Z" fill="none" stroke="#cdd888" stroke-width="2.2"/><path d="M715.80,220.60L724.20,229.00L715.80,237.40L707.40,229.00Z" fill="none" stroke="#cdd888" stroke-width="2.2"/><path d="M733.20,187.10L741.60,195.50L733.20,203.90L724.80,195.50Z" fill="none" stroke="#cdd888" stroke-width="2.2"/><path d="M750.60,174.00L759.00,182.40L750.60,190.80L742.20,182.40Z" fill="none" stroke="#cdd888" stroke-width="2.2"/><path d="M768.00,164.80L776.40,173.20L768.00,181.60L759.60,173.20Z" fill="none" stroke="#cdd888" stroke-width="2.2"/><path d="M785.40,163.40L793.80,171.80L785.40,180.20L777.00,171.80Z" fill="none" stroke="#cdd888" stroke-width="2.2"/><path d="M802.80,161.10L811.20,169.50L802.80,177.90L794.40,169.50Z" fill="none" stroke="#cdd888" stroke-width="2.2"/><path d="M820.20,139.00L828.60,147.40L820.20,155.80L811.80,147.40Z" fill="none" stroke="#cdd888" stroke-width="2.2"/><path d="M837.60,160.10L846.00,168.50L837.60,176.90L829.20,168.50Z" fill="none" stroke="#cdd888" stroke-width="2.2"/><path d="M855.00,163.40L863.40,171.80L855.00,180.20L846.60,171.80Z" fill="none" stroke="#cdd888" stroke-width="2.2"/><path d="M872.40,159.50L880.80,167.90L872.40,176.30L864.00,167.90Z" fill="none" stroke="#cdd888" stroke-width="2.2"/><path d="M889.80,160.80L898.20,169.20L889.80,177.60L881.40,169.20Z" fill="none" stroke="#cdd888" stroke-width="2.2"/><path d="M907.20,168.70L915.60,177.10L907.20,185.50L898.80,177.10Z" fill="none" stroke="#cdd888" stroke-width="2.2"/><path d="M924.60,199.00L933.00,207.40L924.60,215.80L916.20,207.40Z" fill="none" stroke="#cdd888" stroke-width="2.2"/><path d="M942.00,252.90L950.40,261.30L942.00,269.70L933.60,261.30Z" fill="none" stroke="#cdd888" stroke-width="2.2"/><path d="M959.40,321.30L967.80,329.70L959.40,338.10L951.00,329.70Z" fill="none" stroke="#cdd888" stroke-width="2.2"/><path d="M646.20,353.00V407.00M663.60,315.00V407.00M681.00,269.00V318.00M698.40,219.00V247.00M715.80,189.70V198.70M733.20,175.20V184.20M750.60,173.40V182.40M768.00,171.30V180.30M785.40,173.90V182.90M802.80,174.00V183.00M820.20,148.80V157.80M837.60,174.00V183.00M855.00,176.50V185.50M872.40,172.60V181.60M889.80,172.60V181.60M907.20,173.90V182.90M924.60,184.50V193.50M942.00,221.30V230.30M959.40,269.00V297.00M976.80,319.00V406.00M994.20,343.00V406.00" stroke="#ff0000" stroke-width="2.1" fill="none"/><path d="M646.20,423.90L639.90,436.10L652.50,436.10Z" fill="none" stroke="#ff0000" stroke-width="2.2" stroke-linejoin="miter"/><path d="M663.60,357.90L657.30,370.10L669.90,370.10Z" fill="none" stroke="#ff0000" stroke-width="2.2" stroke-linejoin="miter"/><path d="M681.00,281.50L674.70,293.70L687.30,293.70Z" fill="none" stroke="#ff0000" stroke-width="2.2" stroke-linejoin="miter"/><path d="M698.40,224.90L692.10,237.10L704.70,237.10Z" fill="none" stroke="#ff0000" stroke-width="2.2" stroke-linejoin="miter"/><path d="M715.80,188.10L709.50,200.30L722.10,200.30Z" fill="none" stroke="#ff0000" stroke-width="2.2" stroke-linejoin="miter"/><path d="M733.20,173.60L726.90,185.80L739.50,185.80Z" fill="none" stroke="#ff0000" stroke-width="2.2" stroke-linejoin="miter"/><path d="M750.60,171.80L744.30,184.00L756.90,184.00Z" fill="none" stroke="#ff0000" stroke-width="2.2" stroke-linejoin="miter"/><path d="M768.00,169.70L761.70,181.90L774.30,181.90Z" fill="none" stroke="#ff0000" stroke-width="2.2" stroke-linejoin="miter"/><path d="M785.40,172.30L779.10,184.50L791.70,184.50Z" fill="none" stroke="#ff0000" stroke-width="2.2" stroke-linejoin="miter"/><path d="M802.80,172.40L796.50,184.60L809.10,184.60Z" fill="none" stroke="#ff0000" stroke-width="2.2" stroke-linejoin="miter"/><path d="M820.20,147.20L813.90,159.40L826.50,159.40Z" fill="none" stroke="#ff0000" stroke-width="2.2" stroke-linejoin="miter"/><path d="M837.60,172.40L831.30,184.60L843.90,184.60Z" fill="none" stroke="#ff0000" stroke-width="2.2" stroke-linejoin="miter"/><path d="M855.00,174.90L848.70,187.10L861.30,187.10Z" fill="none" stroke="#ff0000" stroke-width="2.2" stroke-linejoin="miter"/><path d="M872.40,171.00L866.10,183.20L878.70,183.20Z" fill="none" stroke="#ff0000" stroke-width="2.2" stroke-linejoin="miter"/><path d="M889.80,171.00L883.50,183.20L896.10,183.20Z" fill="none" stroke="#ff0000" stroke-width="2.2" stroke-linejoin="miter"/><path d="M907.20,172.30L900.90,184.50L913.50,184.50Z" fill="none" stroke="#ff0000" stroke-width="2.2" stroke-linejoin="miter"/><path d="M924.60,182.90L918.30,195.10L930.90,195.10Z" fill="none" stroke="#ff0000" stroke-width="2.2" stroke-linejoin="miter"/><path d="M942.00,219.70L935.70,231.90L948.30,231.90Z" fill="none" stroke="#ff0000" stroke-width="2.2" stroke-linejoin="miter"/><path d="M959.40,276.30L953.10,288.50L965.70,288.50Z" fill="none" stroke="#ff0000" stroke-width="2.2" stroke-linejoin="miter"/><path d="M976.80,345.90L970.50,358.10L983.10,358.10Z" fill="none" stroke="#ff0000" stroke-width="2.2" stroke-linejoin="miter"/><path d="M994.20,423.90L987.90,436.10L1000.50,436.10Z" fill="none" stroke="#ff0000" stroke-width="2.2" stroke-linejoin="miter"/></g><path d="M619.50,407.00h7 M619.50,383.62h4 M619.50,369.94h4 M619.50,360.23h4 M619.50,352.70h4 M619.50,346.55h4 M619.50,341.35h4 M619.50,336.85h4 M619.50,332.87h4 M619.50,329.32h7 M619.50,305.94h4 M619.50,292.26h4 M619.50,282.55h4 M619.50,275.02h4 M619.50,268.87h4 M619.50,263.67h4 M619.50,259.17h4 M619.50,255.19h4 M619.50,251.64h7 M619.50,228.26h4 M619.50,214.58h4 M619.50,204.87h4 M619.50,197.34h4 M619.50,191.19h4 M619.50,185.99h4 M619.50,181.49h4 M619.50,177.51h4 M619.50,173.96h7 M619.50,150.58h4 M619.50,136.90h4 M619.50,127.19h4 M619.50,119.66h4 M619.50,113.51h4 M619.50,108.31h4 M619.50,103.81h4 M619.50,99.83h4 M619.50,96.28h7 M619.50,72.90h4 M619.50,59.22h4 M619.50,49.51h4 M619.50,41.98h4 M619.50,35.83h4 M619.50,30.63h4 M619.50,26.13h4 M619.50,22.15h4 M619.50,18.60h7 M652.96,407.00v-4 M686.42,407.00v-7 M719.88,407.00v-4 M753.33,407.00v-4 M786.79,407.00v-4 M820.25,407.00v-7 M853.71,407.00v-4 M887.17,407.00v-4 M920.62,407.00v-4 M954.08,407.00v-7 M987.54,407.00v-4" stroke="#1a1a1a" stroke-width="1.3" fill="none"/><rect x="619.5" y="18.6" width="401.50" height="388.40" fill="none" stroke="#1a1a1a" stroke-width="1.4"/><g transform="matrix(0.9947,0,0,0.9886,277.21,865.49)"><text x="0" y="0" font-size="39" font-weight="bold" font-style="normal" fill="#808080">5.0<tspan font-style="italic">g</tspan></text></g><line x1="310.35" y1="492.1" x2="310.35" y2="880.5" stroke="#ff7b7b" stroke-width="1.9" stroke-dasharray="7 3.7" stroke-dashoffset="-2.5"/><clipPath id="clip_c"><rect x="109.7" y="492.1" width="401.30" height="388.40"/></clipPath><g clip-path="url(#clip_c)"><path d="M105.4,885.0L106.1,884.0L106.7,883.0L107.4,882.0L108.1,880.9L108.7,879.9L109.4,878.9L110.1,877.9L110.7,876.8L111.4,875.8L112.1,874.7L112.7,873.7L113.4,872.7L114.1,871.6L114.7,870.6L115.4,869.5L116.0,868.4L116.7,867.4L117.4,866.3L118.0,865.3L118.7,864.2L119.4,863.1L120.0,862.0L120.7,861.0L121.4,859.9L122.0,858.8L122.7,857.7L123.4,856.6L124.0,855.5L124.7,854.5L125.4,853.4L126.0,852.3L126.7,851.2L127.4,850.1L128.0,849.0L128.7,847.8L129.4,846.7L130.0,845.6L130.7,844.5L131.4,843.4L132.0,842.2L132.7,841.1L133.4,839.9L134.0,838.8L134.7,837.6L135.4,836.4L136.0,835.2L136.7,834.0L137.3,832.9L138.0,831.7L138.7,830.5L139.3,829.3L140.0,828.1L140.7,826.9L141.3,825.7L142.0,824.5L142.7,823.3L143.3,822.1L144.0,820.9L144.7,819.7L145.3,818.6L146.0,817.4L146.7,816.2L147.3,815.1L148.0,814.0L148.7,812.9L149.3,811.7L150.0,810.7L150.7,809.6L151.3,808.5L152.0,807.4L152.7,806.4L153.3,805.3L154.0,804.3L154.7,803.3L155.3,802.2L156.0,801.2L156.6,800.2L157.3,799.2L158.0,798.2L158.6,797.1L159.3,796.1L160.0,795.1L160.6,794.2L161.3,793.2L162.0,792.2L162.6,791.2L163.3,790.2L164.0,789.2L164.6,788.3L165.3,787.3L166.0,786.3L166.6,785.4L167.3,784.4L168.0,783.5L168.6,782.5L169.3,781.6L170.0,780.6L170.6,779.7L171.3,778.7L172.0,777.8L172.6,776.9L173.3,775.9L174.0,775.0L174.6,774.1L175.3,773.2L176.0,772.2L176.6,771.3L177.3,770.4L177.9,769.5L178.6,768.6L179.3,767.7L179.9,766.8L180.6,765.9L181.3,765.0L181.9,764.1L182.6,763.2L183.3,762.4L183.9,761.5L184.6,760.6L185.3,759.7L185.9,758.8L186.6,758.0L187.3,757.1L187.9,756.2L188.6,755.3L189.3,754.5L189.9,753.6L190.6,752.7L191.3,751.9L191.9,751.0L192.6,750.2L193.3,749.3L193.9,748.5L194.6,747.6L195.3,746.8L195.9,745.9L196.6,745.1L197.3,744.2L197.9,743.4L198.6,742.5L199.2,741.7L199.9,740.9L200.6,740.0L201.2,739.2L201.9,738.4L202.6,737.5L203.2,736.7L203.9,735.9L204.6,735.1L205.2,734.3L205.9,733.4L206.6,732.6L207.2,731.8L207.9,731.0L208.6,730.2L209.2,729.4L209.9,728.6L210.6,727.8L211.2,727.0L211.9,726.2L212.6,725.4L213.2,724.6L213.9,723.8L214.6,723.0L215.2,722.3L215.9,721.5L216.6,720.7L217.2,719.9L217.9,719.1L218.5,718.3L219.2,717.6L219.9,716.8L220.5,716.0L221.2,715.2L221.9,714.5L222.5,713.7L223.2,713.0L223.9,712.2L224.5,711.4L225.2,710.7L225.9,710.0L226.5,709.2L227.2,708.5L227.9,707.7L228.5,707.0L229.2,706.3L229.9,705.6L230.5,704.9L231.2,704.1L231.9,703.4L232.5,702.7L233.2,702.0L233.9,701.3L234.5,700.6L235.2,699.9L235.9,699.2L236.5,698.5L237.2,697.8L237.9,697.2L238.5,696.5L239.2,695.8L239.8,695.1L240.5,694.4L241.2,693.8L241.8,693.1L242.5,692.4L243.2,691.8L243.8,691.1L244.5,690.5L245.2,689.8L245.8,689.2L246.5,688.6L247.2,687.9L247.8,687.3L248.5,686.7L249.2,686.1L249.8,685.5L250.5,684.9L251.2,684.3L251.8,683.7L252.5,683.2L253.2,682.6L253.8,682.0L254.5,681.4L255.2,680.9L255.8,680.3L256.5,679.7L257.2,679.2L257.8,678.6L258.5,678.1L259.1,677.5L259.8,677.0L260.5,676.4L261.1,675.9L261.8,675.4L262.5,674.8L263.1,674.3L263.8,673.8L264.5,673.3L265.1,672.8L265.8,672.3L266.5,671.8L267.1,671.3L267.8,670.8L268.5,670.4L269.1,669.9L269.8,669.4L270.5,669.0L271.1,668.5L271.8,668.1L272.5,667.6L273.1,667.2L273.8,666.7L274.5,666.3L275.1,665.9L275.8,665.4L276.5,665.0L277.1,664.6L277.8,664.2L278.5,663.8L279.1,663.3L279.8,662.9L280.4,662.5L281.1,662.1L281.8,661.8L282.4,661.4L283.1,661.0L283.8,660.6L284.4,660.2L285.1,659.8L285.8,659.5L286.4,659.1L287.1,658.7L287.8,658.4L288.4,658.0L289.1,657.7L289.8,657.3L290.4,657.0L291.1,656.6L291.8,656.3L292.4,656.0L293.1,655.6L293.8,655.3L294.4,655.0L295.1,654.6L295.8,654.3L296.4,654.0L297.1,653.7L297.8,653.4L298.4,653.1L299.1,652.8L299.8,652.4L300.4,652.1L301.1,651.8L301.7,651.5L302.4,651.3L303.1,651.0L303.7,650.7L304.4,650.4L305.1,650.1L305.7,649.8L306.4,649.6L307.1,649.3L307.7,649.0L308.4,648.8L309.1,648.5L309.7,648.3L310.4,648.0L311.1,648.3L311.7,648.5L312.4,648.8L313.1,649.0L313.7,649.3L314.4,649.6L315.1,649.8L315.7,650.1L316.4,650.4L317.1,650.7L317.7,651.0L318.4,651.3L319.1,651.5L319.7,651.8L320.4,652.1L321.0,652.4L321.7,652.8L322.4,653.1L323.0,653.4L323.7,653.7L324.4,654.0L325.0,654.3L325.7,654.6L326.4,655.0L327.0,655.3L327.7,655.6L328.4,656.0L329.0,656.3L329.7,656.6L330.4,657.0L331.0,657.3L331.7,657.7L332.4,658.0L333.0,658.4L333.7,658.7L334.4,659.1L335.0,659.5L335.7,659.8L336.4,660.2L337.0,660.6L337.7,661.0L338.4,661.4L339.0,661.8L339.7,662.1L340.4,662.5L341.0,662.9L341.7,663.3L342.3,663.8L343.0,664.2L343.7,664.6L344.3,665.0L345.0,665.4L345.7,665.9L346.3,666.3L347.0,666.7L347.7,667.2L348.3,667.6L349.0,668.1L349.7,668.5L350.3,669.0L351.0,669.4L351.7,669.9L352.3,670.4L353.0,670.8L353.7,671.3L354.3,671.8L355.0,672.3L355.7,672.8L356.3,673.3L357.0,673.8L357.7,674.3L358.3,674.8L359.0,675.4L359.7,675.9L360.3,676.4L361.0,677.0L361.6,677.5L362.3,678.1L363.0,678.6L363.6,679.2L364.3,679.7L365.0,680.3L365.6,680.9L366.3,681.4L367.0,682.0L367.6,682.6L368.3,683.2L369.0,683.7L369.6,684.3L370.3,684.9L371.0,685.5L371.6,686.1L372.3,686.7L373.0,687.3L373.6,687.9L374.3,688.6L375.0,689.2L375.6,689.8L376.3,690.5L377.0,691.1L377.6,691.8L378.3,692.4L379.0,693.1L379.6,693.8L380.3,694.4L381.0,695.1L381.6,695.8L382.3,696.5L382.9,697.2L383.6,697.8L384.3,698.5L384.9,699.2L385.6,699.9L386.3,700.6L386.9,701.3L387.6,702.0L388.3,702.7L388.9,703.4L389.6,704.1L390.3,704.9L390.9,705.6L391.6,706.3L392.3,707.0L392.9,707.7L393.6,708.5L394.3,709.2L394.9,710.0L395.6,710.7L396.3,711.4L396.9,712.2L397.6,713.0L398.3,713.7L398.9,714.5L399.6,715.2L400.3,716.0L400.9,716.8L401.6,717.6L402.3,718.3L402.9,719.1L403.6,719.9L404.2,720.7L404.9,721.5L405.6,722.3L406.2,723.0L406.9,723.8L407.6,724.6L408.2,725.4L408.9,726.2L409.6,727.0L410.2,727.8L410.9,728.6L411.6,729.4L412.2,730.2L412.9,731.0L413.6,731.8L414.2,732.6L414.9,733.4L415.6,734.3L416.2,735.1L416.9,735.9L417.6,736.7L418.2,737.5L418.9,738.4L419.6,739.2L420.2,740.0L420.9,740.9L421.6,741.7L422.2,742.5L422.9,743.4L423.5,744.2L424.2,745.1L424.9,745.9L425.5,746.8L426.2,747.6L426.9,748.5L427.5,749.3L428.2,750.2L428.9,751.0L429.5,751.9L430.2,752.7L430.9,753.6L431.5,754.5L432.2,755.3L432.9,756.2L433.5,757.1L434.2,758.0L434.9,758.8L435.5,759.7L436.2,760.6L436.9,761.5L437.5,762.4L438.2,763.2L438.9,764.1L439.5,765.0L440.2,765.9L440.9,766.8L441.5,767.7L442.2,768.6L442.9,769.5L443.5,770.4L444.2,771.3L444.8,772.2L445.5,773.2L446.2,774.1L446.8,775.0L447.5,775.9L448.2,776.9L448.8,777.8L449.5,778.7L450.2,779.7L450.8,780.6L451.5,781.6L452.2,782.5L452.8,783.5L453.5,784.4L454.2,785.4L454.8,786.3L455.5,787.3L456.2,788.3L456.8,789.2L457.5,790.2L458.2,791.2L458.8,792.2L459.5,793.2L460.2,794.2L460.8,795.1L461.5,796.1L462.2,797.1L462.8,798.2L463.5,799.2L464.1,800.2L464.8,801.2L465.5,802.2L466.1,803.3L466.8,804.3L467.5,805.3L468.1,806.4L468.8,807.4L469.5,808.5L470.1,809.6L470.8,810.7L471.5,811.7L472.1,812.9L472.8,814.0L473.5,815.1L474.1,816.2L474.8,817.4L475.5,818.6L476.1,819.7L476.8,820.9L477.5,822.1L478.1,823.3L478.8,824.5L479.5,825.7L480.1,826.9L480.8,828.1L481.5,829.3L482.1,830.5L482.8,831.7L483.5,832.9L484.1,834.0L484.8,835.2L485.4,836.4L486.1,837.6L486.8,838.8L487.4,839.9L488.1,841.1L488.8,842.2L489.4,843.4L490.1,844.5L490.8,845.6L491.4,846.7L492.1,847.8L492.8,849.0L493.4,850.1L494.1,851.2L494.8,852.3L495.4,853.4L496.1,854.5L496.8,855.5L497.4,856.6L498.1,857.7L498.8,858.8L499.4,859.9L500.1,861.0L500.8,862.0L501.4,863.1L502.1,864.2L502.8,865.3L503.4,866.3L504.1,867.4L504.8,868.4L505.4,869.5L506.1,870.6L506.7,871.6L507.4,872.7L508.1,873.7L508.7,874.7L509.4,875.8L510.1,876.8L510.7,877.9L511.4,878.9L512.1,879.9L512.7,880.9L513.4,882.0L514.1,883.0L514.7,884.0L515.4,885.0" fill="none" stroke="#8000ff" stroke-width="3.3" stroke-opacity="0.42" stroke-linejoin="round"/><path d="M105.4,877.0L106.1,876.1L106.7,875.3L107.4,874.4L108.1,873.6L108.7,872.7L109.4,871.8L110.1,871.0L110.7,870.1L111.4,869.2L112.1,868.3L112.7,867.4L113.4,866.5L114.1,865.7L114.7,864.8L115.4,863.9L116.0,863.0L116.7,862.1L117.4,861.2L118.0,860.3L118.7,859.4L119.4,858.4L120.0,857.5L120.7,856.6L121.4,855.7L122.0,854.8L122.7,853.8L123.4,852.9L124.0,852.0L124.7,851.1L125.4,850.1L126.0,849.2L126.7,848.3L127.4,847.3L128.0,846.4L128.7,845.4L129.4,844.5L130.0,843.5L130.7,842.6L131.4,841.6L132.0,840.7L132.7,839.7L133.4,838.7L134.0,837.7L134.7,836.7L135.4,835.7L136.0,834.7L136.7,833.7L137.3,832.7L138.0,831.7L138.7,830.7L139.3,829.7L140.0,828.6L140.7,827.6L141.3,826.6L142.0,825.6L142.7,824.6L143.3,823.6L144.0,822.5L144.7,821.5L145.3,820.5L146.0,819.5L146.7,818.5L147.3,817.5L148.0,816.5L148.7,815.5L149.3,814.6L150.0,813.6L150.7,812.6L151.3,811.7L152.0,810.7L152.7,809.8L153.3,808.8L154.0,807.9L154.7,806.9L155.3,806.0L156.0,805.0L156.6,804.1L157.3,803.2L158.0,802.2L158.6,801.3L159.3,800.4L160.0,799.5L160.6,798.5L161.3,797.6L162.0,796.7L162.6,795.8L163.3,794.9L164.0,793.9L164.6,793.0L165.3,792.1L166.0,791.2L166.6,790.2L167.3,789.3L168.0,788.4L168.6,787.5L169.3,786.5L170.0,785.6L170.6,784.7L171.3,783.7L172.0,782.8L172.6,781.9L173.3,780.9L174.0,780.0L174.6,779.1L175.3,778.1L176.0,777.2L176.6,776.2L177.3,775.3L177.9,774.3L178.6,773.4L179.3,772.5L179.9,771.5L180.6,770.6L181.3,769.6L181.9,768.7L182.6,767.8L183.3,766.8L183.9,765.9L184.6,765.0L185.3,764.0L185.9,763.1L186.6,762.2L187.3,761.3L187.9,760.4L188.6,759.4L189.3,758.5L189.9,757.6L190.6,756.7L191.3,755.8L191.9,755.0L192.6,754.1L193.3,753.2L193.9,752.3L194.6,751.4L195.3,750.5L195.9,749.7L196.6,748.8L197.3,747.9L197.9,747.0L198.6,746.2L199.2,745.3L199.9,744.4L200.6,743.6L201.2,742.7L201.9,741.9L202.6,741.0L203.2,740.2L203.9,739.3L204.6,738.4L205.2,737.6L205.9,736.7L206.6,735.9L207.2,735.0L207.9,734.2L208.6,733.3L209.2,732.5L209.9,731.6L210.6,730.8L211.2,729.9L211.9,729.1L212.6,728.2L213.2,727.4L213.9,726.5L214.6,725.7L215.2,724.8L215.9,724.0L216.6,723.1L217.2,722.2L217.9,721.4L218.5,720.5L219.2,719.7L219.9,718.8L220.5,718.0L221.2,717.1L221.9,716.3L222.5,715.5L223.2,714.6L223.9,713.8L224.5,713.0L225.2,712.2L225.9,711.3L226.5,710.5L227.2,709.7L227.9,708.9L228.5,708.2L229.2,707.4L229.9,706.6L230.5,705.9L231.2,705.1L231.9,704.3L232.5,703.6L233.2,702.9L233.9,702.1L234.5,701.4L235.2,700.6L235.9,699.9L236.5,699.2L237.2,698.5L237.9,697.8L238.5,697.1L239.2,696.4L239.8,695.6L240.5,695.0L241.2,694.3L241.8,693.6L242.5,692.9L243.2,692.2L243.8,691.5L244.5,690.8L245.2,690.2L245.8,689.5L246.5,688.8L247.2,688.2L247.8,687.5L248.5,686.9L249.2,686.2L249.8,685.6L250.5,684.9L251.2,684.3L251.8,683.6L252.5,683.0L253.2,682.3L253.8,681.6L254.5,681.0L255.2,680.3L255.8,679.7L256.5,679.0L257.2,678.4L257.8,677.7L258.5,677.1L259.1,676.5L259.8,675.8L260.5,675.2L261.1,674.6L261.8,674.0L262.5,673.4L263.1,672.8L263.8,672.2L264.5,671.6L265.1,671.0L265.8,670.5L266.5,669.9L267.1,669.4L267.8,668.9L268.5,668.4L269.1,667.9L269.8,667.4L270.5,667.0L271.1,666.5L271.8,666.1L272.5,665.6L273.1,665.2L273.8,664.8L274.5,664.4L275.1,664.0L275.8,663.6L276.5,663.2L277.1,662.8L277.8,662.4L278.5,662.0L279.1,661.7L279.8,661.3L280.4,660.9L281.1,660.6L281.8,660.2L282.4,659.9L283.1,659.5L283.8,659.2L284.4,658.9L285.1,658.5L285.8,658.2L286.4,657.9L287.1,657.6L287.8,657.2L288.4,656.9L289.1,656.6L289.8,656.3L290.4,656.0L291.1,655.7L291.8,655.4L292.4,655.1L293.1,654.8L293.8,654.5L294.4,654.2L295.1,653.9L295.8,653.6L296.4,653.3L297.1,653.0L297.8,652.7L298.4,652.5L299.1,652.2L299.8,651.9L300.4,651.6L301.1,651.4L301.7,651.1L302.4,650.9L303.1,650.6L303.7,650.3L304.4,650.1L305.1,649.8L305.7,649.6L306.4,649.4L307.1,649.1L307.7,648.9L308.4,648.7L309.1,648.4L309.7,648.2L310.4,648.0L311.1,648.2L311.7,648.4L312.4,648.7L313.1,648.9L313.7,649.1L314.4,649.4L315.1,649.6L315.7,649.8L316.4,650.1L317.1,650.3L317.7,650.6L318.4,650.9L319.1,651.1L319.7,651.4L320.4,651.6L321.0,651.9L321.7,652.2L322.4,652.5L323.0,652.7L323.7,653.0L324.4,653.3L325.0,653.6L325.7,653.9L326.4,654.2L327.0,654.5L327.7,654.8L328.4,655.1L329.0,655.4L329.7,655.7L330.4,656.0L331.0,656.3L331.7,656.6L332.4,656.9L333.0,657.2L333.7,657.6L334.4,657.9L335.0,658.2L335.7,658.5L336.4,658.9L337.0,659.2L337.7,659.5L338.4,659.9L339.0,660.2L339.7,660.6L340.4,660.9L341.0,661.3L341.7,661.7L342.3,662.0L343.0,662.4L343.7,662.8L344.3,663.2L345.0,663.6L345.7,664.0L346.3,664.4L347.0,664.8L347.7,665.2L348.3,665.6L349.0,666.1L349.7,666.5L350.3,667.0L351.0,667.4L351.7,667.9L352.3,668.4L353.0,668.9L353.7,669.4L354.3,669.9L355.0,670.5L355.7,671.0L356.3,671.6L357.0,672.2L357.7,672.8L358.3,673.4L359.0,674.0L359.7,674.6L360.3,675.2L361.0,675.8L361.6,676.5L362.3,677.1L363.0,677.7L363.6,678.4L364.3,679.0L365.0,679.7L365.6,680.3L366.3,681.0L367.0,681.6L367.6,682.3L368.3,683.0L369.0,683.6L369.6,684.3L370.3,684.9L371.0,685.6L371.6,686.2L372.3,686.9L373.0,687.5L373.6,688.2L374.3,688.8L375.0,689.5L375.6,690.2L376.3,690.8L377.0,691.5L377.6,692.2L378.3,692.9L379.0,693.6L379.6,694.3L380.3,695.0L381.0,695.6L381.6,696.4L382.3,697.1L382.9,697.8L383.6,698.5L384.3,699.2L384.9,699.9L385.6,700.6L386.3,701.4L386.9,702.1L387.6,702.9L388.3,703.6L388.9,704.3L389.6,705.1L390.3,705.9L390.9,706.6L391.6,707.4L392.3,708.2L392.9,708.9L393.6,709.7L394.3,710.5L394.9,711.3L395.6,712.2L396.3,713.0L396.9,713.8L397.6,714.6L398.3,715.5L398.9,716.3L399.6,717.1L400.3,718.0L400.9,718.8L401.6,719.7L402.3,720.5L402.9,721.4L403.6,722.2L404.2,723.1L404.9,724.0L405.6,724.8L406.2,725.7L406.9,726.5L407.6,727.4L408.2,728.2L408.9,729.1L409.6,729.9L410.2,730.8L410.9,731.6L411.6,732.5L412.2,733.3L412.9,734.2L413.6,735.0L414.2,735.9L414.9,736.7L415.6,737.6L416.2,738.4L416.9,739.3L417.6,740.2L418.2,741.0L418.9,741.9L419.6,742.7L420.2,743.6L420.9,744.4L421.6,745.3L422.2,746.2L422.9,747.0L423.5,747.9L424.2,748.8L424.9,749.7L425.5,750.5L426.2,751.4L426.9,752.3L427.5,753.2L428.2,754.1L428.9,755.0L429.5,755.8L430.2,756.7L430.9,757.6L431.5,758.5L432.2,759.4L432.9,760.4L433.5,761.3L434.2,762.2L434.9,763.1L435.5,764.0L436.2,765.0L436.9,765.9L437.5,766.8L438.2,767.8L438.9,768.7L439.5,769.6L440.2,770.6L440.9,771.5L441.5,772.5L442.2,773.4L442.9,774.3L443.5,775.3L444.2,776.2L444.8,777.2L445.5,778.1L446.2,779.1L446.8,780.0L447.5,780.9L448.2,781.9L448.8,782.8L449.5,783.7L450.2,784.7L450.8,785.6L451.5,786.5L452.2,787.5L452.8,788.4L453.5,789.3L454.2,790.2L454.8,791.2L455.5,792.1L456.2,793.0L456.8,793.9L457.5,794.9L458.2,795.8L458.8,796.7L459.5,797.6L460.2,798.5L460.8,799.5L461.5,800.4L462.2,801.3L462.8,802.2L463.5,803.2L464.1,804.1L464.8,805.0L465.5,806.0L466.1,806.9L466.8,807.9L467.5,808.8L468.1,809.8L468.8,810.7L469.5,811.7L470.1,812.6L470.8,813.6L471.5,814.6L472.1,815.5L472.8,816.5L473.5,817.5L474.1,818.5L474.8,819.5L475.5,820.5L476.1,821.5L476.8,822.5L477.5,823.6L478.1,824.6L478.8,825.6L479.5,826.6L480.1,827.6L480.8,828.6L481.5,829.7L482.1,830.7L482.8,831.7L483.5,832.7L484.1,833.7L484.8,834.7L485.4,835.7L486.1,836.7L486.8,837.7L487.4,838.7L488.1,839.7L488.8,840.7L489.4,841.6L490.1,842.6L490.8,843.5L491.4,844.5L492.1,845.4L492.8,846.4L493.4,847.3L494.1,848.3L494.8,849.2L495.4,850.1L496.1,851.1L496.8,852.0L497.4,852.9L498.1,853.8L498.8,854.8L499.4,855.7L500.1,856.6L500.8,857.5L501.4,858.4L502.1,859.4L502.8,860.3L503.4,861.2L504.1,862.1L504.8,863.0L505.4,863.9L506.1,864.8L506.7,865.7L507.4,866.5L508.1,867.4L508.7,868.3L509.4,869.2L510.1,870.1L510.7,871.0L511.4,871.8L512.1,872.7L512.7,873.6L513.4,874.4L514.1,875.3L514.7,876.1L515.4,877.0" fill="none" stroke="#80ffb4" stroke-width="3.3" stroke-opacity="0.42" stroke-linejoin="round"/><path d="M105.4,862.0L106.1,861.1L106.7,860.2L107.4,859.3L108.1,858.4L108.7,857.5L109.4,856.6L110.1,855.7L110.7,854.8L111.4,854.0L112.1,853.1L112.7,852.2L113.4,851.3L114.1,850.4L114.7,849.5L115.4,848.6L116.0,847.6L116.7,846.7L117.4,845.8L118.0,844.9L118.7,844.0L119.4,843.1L120.0,842.2L120.7,841.3L121.4,840.4L122.0,839.5L122.7,838.6L123.4,837.7L124.0,836.8L124.7,835.8L125.4,834.9L126.0,834.0L126.7,833.1L127.4,832.2L128.0,831.3L128.7,830.4L129.4,829.4L130.0,828.5L130.7,827.6L131.4,826.7L132.0,825.7L132.7,824.8L133.4,823.9L134.0,822.9L134.7,822.0L135.4,821.0L136.0,820.1L136.7,819.2L137.3,818.2L138.0,817.3L138.7,816.3L139.3,815.4L140.0,814.4L140.7,813.5L141.3,812.5L142.0,811.6L142.7,810.6L143.3,809.7L144.0,808.7L144.7,807.8L145.3,806.9L146.0,806.0L146.7,805.0L147.3,804.1L148.0,803.2L148.7,802.3L149.3,801.4L150.0,800.5L150.7,799.7L151.3,798.8L152.0,797.9L152.7,797.1L153.3,796.2L154.0,795.4L154.7,794.5L155.3,793.7L156.0,792.9L156.6,792.0L157.3,791.2L158.0,790.4L158.6,789.6L159.3,788.8L160.0,788.0L160.6,787.1L161.3,786.3L162.0,785.5L162.6,784.7L163.3,783.9L164.0,783.1L164.6,782.3L165.3,781.4L166.0,780.6L166.6,779.8L167.3,779.0L168.0,778.1L168.6,777.3L169.3,776.4L170.0,775.6L170.6,774.7L171.3,773.8L172.0,773.0L172.6,772.1L173.3,771.2L174.0,770.3L174.6,769.4L175.3,768.5L176.0,767.6L176.6,766.7L177.3,765.7L177.9,764.8L178.6,763.9L179.3,763.0L179.9,762.1L180.6,761.1L181.3,760.2L181.9,759.3L182.6,758.4L183.3,757.5L183.9,756.6L184.6,755.7L185.3,754.8L185.9,753.9L186.6,753.0L187.3,752.1L187.9,751.2L188.6,750.3L189.3,749.5L189.9,748.6L190.6,747.8L191.3,746.9L191.9,746.1L192.6,745.2L193.3,744.4L193.9,743.6L194.6,742.7L195.3,741.9L195.9,741.1L196.6,740.3L197.3,739.4L197.9,738.6L198.6,737.8L199.2,737.0L199.9,736.2L200.6,735.4L201.2,734.6L201.9,733.8L202.6,733.0L203.2,732.2L203.9,731.5L204.6,730.7L205.2,729.9L205.9,729.1L206.6,728.4L207.2,727.6L207.9,726.8L208.6,726.1L209.2,725.3L209.9,724.6L210.6,723.8L211.2,723.1L211.9,722.3L212.6,721.6L213.2,720.9L213.9,720.1L214.6,719.4L215.2,718.7L215.9,718.0L216.6,717.3L217.2,716.6L217.9,715.8L218.5,715.1L219.2,714.4L219.9,713.7L220.5,713.0L221.2,712.3L221.9,711.7L222.5,711.0L223.2,710.3L223.9,709.6L224.5,708.9L225.2,708.2L225.9,707.6L226.5,706.9L227.2,706.2L227.9,705.5L228.5,704.9L229.2,704.2L229.9,703.5L230.5,702.9L231.2,702.2L231.9,701.5L232.5,700.9L233.2,700.2L233.9,699.6L234.5,698.9L235.2,698.2L235.9,697.6L236.5,696.9L237.2,696.3L237.9,695.6L238.5,695.0L239.2,694.3L239.8,693.7L240.5,693.1L241.2,692.4L241.8,691.8L242.5,691.2L243.2,690.5L243.8,689.9L244.5,689.3L245.2,688.7L245.8,688.1L246.5,687.5L247.2,686.9L247.8,686.3L248.5,685.7L249.2,685.1L249.8,684.5L250.5,683.9L251.2,683.3L251.8,682.8L252.5,682.2L253.2,681.6L253.8,681.0L254.5,680.5L255.2,679.9L255.8,679.3L256.5,678.8L257.2,678.2L257.8,677.7L258.5,677.1L259.1,676.6L259.8,676.0L260.5,675.5L261.1,674.9L261.8,674.4L262.5,673.9L263.1,673.4L263.8,672.8L264.5,672.3L265.1,671.8L265.8,671.3L266.5,670.8L267.1,670.3L267.8,669.8L268.5,669.4L269.1,668.9L269.8,668.4L270.5,668.0L271.1,667.5L271.8,667.1L272.5,666.6L273.1,666.2L273.8,665.8L274.5,665.3L275.1,664.9L275.8,664.5L276.5,664.1L277.1,663.7L277.8,663.3L278.5,662.9L279.1,662.5L279.8,662.1L280.4,661.8L281.1,661.4L281.8,661.0L282.4,660.6L283.1,660.2L283.8,659.8L284.4,659.5L285.1,659.1L285.8,658.7L286.4,658.3L287.1,657.9L287.8,657.6L288.4,657.2L289.1,656.8L289.8,656.4L290.4,656.0L291.1,655.6L291.8,655.2L292.4,654.8L293.1,654.4L293.8,654.0L294.4,653.6L295.1,653.2L295.8,652.8L296.4,652.4L297.1,652.0L297.8,651.6L298.4,651.2L299.1,650.8L299.8,650.4L300.4,650.0L301.1,649.6L301.7,649.2L302.4,648.8L303.1,648.4L303.7,648.0L304.4,647.6L305.1,647.2L305.7,646.8L306.4,646.4L307.1,646.0L307.7,645.6L308.4,645.2L309.1,644.8L309.7,644.4L310.4,644.0L311.1,644.4L311.7,644.8L312.4,645.2L313.1,645.6L313.7,646.0L314.4,646.4L315.1,646.8L315.7,647.2L316.4,647.6L317.1,648.0L317.7,648.4L318.4,648.8L319.1,649.2L319.7,649.6L320.4,650.0L321.0,650.4L321.7,650.8L322.4,651.2L323.0,651.6L323.7,652.0L324.4,652.4L325.0,652.8L325.7,653.2L326.4,653.6L327.0,654.0L327.7,654.4L328.4,654.8L329.0,655.2L329.7,655.6L330.4,656.0L331.0,656.4L331.7,656.8L332.4,657.2L333.0,657.6L333.7,657.9L334.4,658.3L335.0,658.7L335.7,659.1L336.4,659.5L337.0,659.8L337.7,660.2L338.4,660.6L339.0,661.0L339.7,661.4L340.4,661.8L341.0,662.1L341.7,662.5L342.3,662.9L343.0,663.3L343.7,663.7L344.3,664.1L345.0,664.5L345.7,664.9L346.3,665.3L347.0,665.8L347.7,666.2L348.3,666.6L349.0,667.1L349.7,667.5L350.3,668.0L351.0,668.4L351.7,668.9L352.3,669.4L353.0,669.8L353.7,670.3L354.3,670.8L355.0,671.3L355.7,671.8L356.3,672.3L357.0,672.8L357.7,673.4L358.3,673.9L359.0,674.4L359.7,674.9L360.3,675.5L361.0,676.0L361.6,676.6L362.3,677.1L363.0,677.7L363.6,678.2L364.3,678.8L365.0,679.3L365.6,679.9L366.3,680.5L367.0,681.0L367.6,681.6L368.3,682.2L369.0,682.8L369.6,683.3L370.3,683.9L371.0,684.5L371.6,685.1L372.3,685.7L373.0,686.3L373.6,686.9L374.3,687.5L375.0,688.1L375.6,688.7L376.3,689.3L377.0,689.9L377.6,690.5L378.3,691.2L379.0,691.8L379.6,692.4L380.3,693.1L381.0,693.7L381.6,694.3L382.3,695.0L382.9,695.6L383.6,696.3L384.3,696.9L384.9,697.6L385.6,698.2L386.3,698.9L386.9,699.6L387.6,700.2L388.3,700.9L388.9,701.5L389.6,702.2L390.3,702.9L390.9,703.5L391.6,704.2L392.3,704.9L392.9,705.5L393.6,706.2L394.3,706.9L394.9,707.6L395.6,708.2L396.3,708.9L396.9,709.6L397.6,710.3L398.3,711.0L398.9,711.7L399.6,712.3L400.3,713.0L400.9,713.7L401.6,714.4L402.3,715.1L402.9,715.8L403.6,716.6L404.2,717.3L404.9,718.0L405.6,718.7L406.2,719.4L406.9,720.1L407.6,720.9L408.2,721.6L408.9,722.3L409.6,723.1L410.2,723.8L410.9,724.6L411.6,725.3L412.2,726.1L412.9,726.8L413.6,727.6L414.2,728.4L414.9,729.1L415.6,729.9L416.2,730.7L416.9,731.5L417.6,732.2L418.2,733.0L418.9,733.8L419.6,734.6L420.2,735.4L420.9,736.2L421.6,737.0L422.2,737.8L422.9,738.6L423.5,739.4L424.2,740.3L424.9,741.1L425.5,741.9L426.2,742.7L426.9,743.6L427.5,744.4L428.2,745.2L428.9,746.1L429.5,746.9L430.2,747.8L430.9,748.6L431.5,749.5L432.2,750.3L432.9,751.2L433.5,752.1L434.2,753.0L434.9,753.9L435.5,754.8L436.2,755.7L436.9,756.6L437.5,757.5L438.2,758.4L438.9,759.3L439.5,760.2L440.2,761.1L440.9,762.1L441.5,763.0L442.2,763.9L442.9,764.8L443.5,765.7L444.2,766.7L444.8,767.6L445.5,768.5L446.2,769.4L446.8,770.3L447.5,771.2L448.2,772.1L448.8,773.0L449.5,773.8L450.2,774.7L450.8,775.6L451.5,776.4L452.2,777.3L452.8,778.1L453.5,779.0L454.2,779.8L454.8,780.6L455.5,781.4L456.2,782.3L456.8,783.1L457.5,783.9L458.2,784.7L458.8,785.5L459.5,786.3L460.2,787.1L460.8,788.0L461.5,788.8L462.2,789.6L462.8,790.4L463.5,791.2L464.1,792.0L464.8,792.9L465.5,793.7L466.1,794.5L466.8,795.4L467.5,796.2L468.1,797.1L468.8,797.9L469.5,798.8L470.1,799.7L470.8,800.5L471.5,801.4L472.1,802.3L472.8,803.2L473.5,804.1L474.1,805.0L474.8,806.0L475.5,806.9L476.1,807.8L476.8,808.7L477.5,809.7L478.1,810.6L478.8,811.6L479.5,812.5L480.1,813.5L480.8,814.4L481.5,815.4L482.1,816.3L482.8,817.3L483.5,818.2L484.1,819.2L484.8,820.1L485.4,821.0L486.1,822.0L486.8,822.9L487.4,823.9L488.1,824.8L488.8,825.7L489.4,826.7L490.1,827.6L490.8,828.5L491.4,829.4L492.1,830.4L492.8,831.3L493.4,832.2L494.1,833.1L494.8,834.0L495.4,834.9L496.1,835.8L496.8,836.8L497.4,837.7L498.1,838.6L498.8,839.5L499.4,840.4L500.1,841.3L500.8,842.2L501.4,843.1L502.1,844.0L502.8,844.9L503.4,845.8L504.1,846.7L504.8,847.6L505.4,848.6L506.1,849.5L506.7,850.4L507.4,851.3L508.1,852.2L508.7,853.1L509.4,854.0L510.1,854.8L510.7,855.7L511.4,856.6L512.1,857.5L512.7,858.4L513.4,859.3L514.1,860.2L514.7,861.1L515.4,862.0" fill="none" stroke="#11aee8" stroke-width="3.3" stroke-opacity="0.42" stroke-linejoin="round"/><path d="M222.4,890.0L223.1,886.9L223.7,883.9L224.4,880.8L225.0,877.8L225.7,874.8L226.4,871.8L227.0,868.8L227.7,865.9L228.4,862.9L229.0,860.0L229.7,857.1L230.3,854.2L231.0,851.3L231.7,848.5L232.3,845.6L233.0,842.8L233.6,840.0L234.3,837.2L235.0,834.5L235.6,831.7L236.3,829.0L237.0,826.3L237.6,823.6L238.3,820.9L238.9,818.2L239.6,815.6L240.3,813.0L240.9,810.4L241.6,807.8L242.2,805.2L242.9,802.7L243.6,800.1L244.2,797.6L244.9,795.1L245.6,792.6L246.2,790.2L246.9,787.7L247.5,785.3L248.2,782.9L248.9,780.5L249.5,778.1L250.2,775.7L250.9,773.4L251.5,771.1L252.2,768.8L252.8,766.6L253.5,764.3L254.2,762.1L254.8,759.9L255.5,757.7L256.1,755.6L256.8,753.4L257.5,751.3L258.1,749.2L258.8,747.1L259.5,745.1L260.1,743.0L260.8,741.0L261.4,738.9L262.1,736.9L262.8,734.9L263.4,732.9L264.1,730.9L264.7,728.9L265.4,726.9L266.1,724.9L266.7,723.0L267.4,721.0L268.1,719.0L268.7,717.0L269.4,715.1L270.0,713.1L270.7,711.1L271.4,709.1L272.0,707.1L272.7,705.1L273.3,703.1L274.0,701.1L274.7,699.1L275.3,697.1L276.0,695.2L276.7,693.2L277.3,691.2L278.0,689.2L278.6,687.2L279.3,685.3L280.0,683.3L280.6,681.4L281.3,679.5L281.9,677.6L282.6,675.7L283.3,673.8L283.9,671.9L284.6,670.1L285.3,668.3L285.9,666.5L286.6,664.7L287.2,663.0L287.9,661.2L288.6,659.6L289.2,657.9L289.9,656.2L290.6,654.6L291.2,653.0L291.9,651.5L292.5,649.9L293.2,648.3L293.9,646.8L294.5,645.3L295.2,643.8L295.8,642.2L296.5,640.8L297.2,639.3L297.8,637.8L298.5,636.4L299.2,634.9L299.8,633.5L300.5,632.1L301.1,630.7L301.8,629.3L302.5,628.0L303.1,626.6L303.8,625.3L304.4,624.0L305.1,622.7L305.8,621.4L306.4,620.2L307.1,618.9L307.8,617.7L308.4,616.5L309.1,615.3L309.7,614.2L310.4,613.0L311.1,614.2L311.7,615.3L312.4,616.5L313.0,617.7L313.7,618.9L314.4,620.2L315.0,621.4L315.7,622.7L316.4,624.0L317.0,625.3L317.7,626.6L318.3,628.0L319.0,629.3L319.7,630.7L320.3,632.1L321.0,633.5L321.6,634.9L322.3,636.4L323.0,637.8L323.6,639.3L324.3,640.8L325.0,642.2L325.6,643.8L326.3,645.3L326.9,646.8L327.6,648.3L328.3,649.9L328.9,651.5L329.6,653.0L330.2,654.6L330.9,656.2L331.6,657.9L332.2,659.6L332.9,661.2L333.6,663.0L334.2,664.7L334.9,666.5L335.5,668.3L336.2,670.1L336.9,671.9L337.5,673.8L338.2,675.7L338.9,677.6L339.5,679.5L340.2,681.4L340.8,683.3L341.5,685.3L342.2,687.2L342.8,689.2L343.5,691.2L344.1,693.2L344.8,695.2L345.5,697.1L346.1,699.1L346.8,701.1L347.5,703.1L348.1,705.1L348.8,707.1L349.4,709.1L350.1,711.1L350.8,713.1L351.4,715.1L352.1,717.0L352.7,719.0L353.4,721.0L354.1,723.0L354.7,724.9L355.4,726.9L356.1,728.9L356.7,730.9L357.4,732.9L358.0,734.9L358.7,736.9L359.4,738.9L360.0,741.0L360.7,743.0L361.3,745.1L362.0,747.1L362.7,749.2L363.3,751.3L364.0,753.4L364.7,755.6L365.3,757.7L366.0,759.9L366.6,762.1L367.3,764.3L368.0,766.6L368.6,768.8L369.3,771.1L369.9,773.4L370.6,775.7L371.3,778.1L371.9,780.5L372.6,782.9L373.3,785.3L373.9,787.7L374.6,790.2L375.2,792.6L375.9,795.1L376.6,797.6L377.2,800.1L377.9,802.7L378.6,805.2L379.2,807.8L379.9,810.4L380.5,813.0L381.2,815.6L381.9,818.2L382.5,820.9L383.2,823.6L383.8,826.3L384.5,829.0L385.2,831.7L385.8,834.5L386.5,837.2L387.2,840.0L387.8,842.8L388.5,845.6L389.1,848.5L389.8,851.3L390.5,854.2L391.1,857.1L391.8,860.0L392.4,862.9L393.1,865.9L393.8,868.8L394.4,871.8L395.1,874.8L395.8,877.8L396.4,880.8L397.1,883.9L397.7,886.9L398.4,890.0" fill="none" stroke="#ffb462" stroke-width="3.3" stroke-opacity="0.42" stroke-linejoin="round"/><path d="M216.4,890.0L217.1,887.0L217.7,884.0L218.4,881.1L219.0,878.1L219.7,875.2L220.4,872.3L221.0,869.5L221.7,866.6L222.4,863.8L223.0,861.0L223.7,858.3L224.3,855.5L225.0,852.8L225.7,850.1L226.3,847.5L227.0,844.9L227.7,842.3L228.3,839.8L229.0,837.3L229.6,834.8L230.3,832.4L231.0,830.0L231.6,827.6L232.3,825.2L232.9,822.9L233.6,820.6L234.3,818.4L234.9,816.1L235.6,813.9L236.3,811.7L236.9,809.5L237.6,807.4L238.2,805.2L238.9,803.1L239.6,801.0L240.2,798.9L240.9,796.8L241.6,794.8L242.2,792.7L242.9,790.7L243.5,788.6L244.2,786.6L244.9,784.6L245.5,782.6L246.2,780.6L246.9,778.6L247.5,776.6L248.2,774.6L248.8,772.7L249.5,770.7L250.2,768.7L250.8,766.7L251.5,764.8L252.1,762.9L252.8,760.9L253.5,759.0L254.1,757.1L254.8,755.3L255.5,753.4L256.1,751.6L256.8,749.7L257.4,747.9L258.1,746.1L258.8,744.2L259.4,742.4L260.1,740.6L260.8,738.8L261.4,737.0L262.1,735.2L262.7,733.4L263.4,731.6L264.1,729.8L264.7,728.0L265.4,726.1L266.0,724.3L266.7,722.5L267.4,720.6L268.0,718.8L268.7,716.9L269.4,715.0L270.0,713.1L270.7,711.2L271.3,709.2L272.0,707.3L272.7,705.3L273.3,703.2L274.0,701.2L274.7,699.1L275.3,697.1L276.0,695.0L276.6,692.9L277.3,690.8L278.0,688.7L278.6,686.6L279.3,684.5L279.9,682.4L280.6,680.3L281.3,678.2L281.9,676.1L282.6,674.1L283.3,672.0L283.9,670.0L284.6,668.0L285.2,666.1L285.9,664.1L286.6,662.2L287.2,660.4L287.9,658.5L288.6,656.7L289.2,655.0L289.9,653.3L290.5,651.7L291.2,650.0L291.9,648.4L292.5,646.8L293.2,645.2L293.9,643.7L294.5,642.1L295.2,640.6L295.8,639.0L296.5,637.5L297.2,636.0L297.8,634.5L298.5,633.1L299.1,631.6L299.8,630.2L300.5,628.8L301.1,627.4L301.8,626.0L302.5,624.7L303.1,623.3L303.8,622.0L304.4,620.7L305.1,619.5L305.8,618.2L306.4,617.0L307.1,615.7L307.8,614.6L308.4,613.4L309.1,612.2L309.7,611.1L310.4,610.0L311.1,611.1L311.7,612.2L312.4,613.4L313.0,614.6L313.7,615.7L314.4,617.0L315.0,618.2L315.7,619.5L316.4,620.7L317.0,622.0L317.7,623.3L318.3,624.7L319.0,626.0L319.7,627.4L320.3,628.8L321.0,630.2L321.7,631.6L322.3,633.1L323.0,634.5L323.6,636.0L324.3,637.5L325.0,639.0L325.6,640.6L326.3,642.1L326.9,643.7L327.6,645.2L328.3,646.8L328.9,648.4L329.6,650.0L330.3,651.7L330.9,653.3L331.6,655.0L332.2,656.7L332.9,658.5L333.6,660.4L334.2,662.2L334.9,664.1L335.6,666.1L336.2,668.0L336.9,670.0L337.5,672.0L338.2,674.1L338.9,676.1L339.5,678.2L340.2,680.3L340.9,682.4L341.5,684.5L342.2,686.6L342.8,688.7L343.5,690.8L344.2,692.9L344.8,695.0L345.5,697.1L346.1,699.1L346.8,701.2L347.5,703.2L348.1,705.3L348.8,707.3L349.5,709.2L350.1,711.2L350.8,713.1L351.4,715.0L352.1,716.9L352.8,718.8L353.4,720.6L354.1,722.5L354.8,724.3L355.4,726.1L356.1,728.0L356.7,729.8L357.4,731.6L358.1,733.4L358.7,735.2L359.4,737.0L360.0,738.8L360.7,740.6L361.4,742.4L362.0,744.2L362.7,746.1L363.4,747.9L364.0,749.7L364.7,751.6L365.3,753.4L366.0,755.3L366.7,757.1L367.3,759.0L368.0,760.9L368.7,762.9L369.3,764.8L370.0,766.7L370.6,768.7L371.3,770.7L372.0,772.7L372.6,774.6L373.3,776.6L373.9,778.6L374.6,780.6L375.3,782.6L375.9,784.6L376.6,786.6L377.3,788.6L377.9,790.7L378.6,792.7L379.2,794.8L379.9,796.8L380.6,798.9L381.2,801.0L381.9,803.1L382.6,805.2L383.2,807.4L383.9,809.5L384.5,811.7L385.2,813.9L385.9,816.1L386.5,818.4L387.2,820.6L387.9,822.9L388.5,825.2L389.2,827.6L389.8,830.0L390.5,832.4L391.2,834.8L391.8,837.3L392.5,839.8L393.1,842.3L393.8,844.9L394.5,847.5L395.1,850.1L395.8,852.8L396.5,855.5L397.1,858.3L397.8,861.0L398.4,863.8L399.1,866.6L399.8,869.5L400.4,872.3L401.1,875.2L401.8,878.1L402.4,881.1L403.1,884.0L403.7,887.0L404.4,890.0" fill="none" stroke="#ff1010" stroke-width="3.3" stroke-opacity="0.42" stroke-linejoin="round"/><path d="M129.86,847.00V856.00M149.92,815.00V851.50M169.98,788.40V797.40M190.04,759.10V768.10M210.10,732.60V741.60M230.16,707.50V716.50M250.22,681.00V690.00M270.28,660.50V669.50M290.34,647.50V656.50M310.40,643.40V652.40M330.46,652.30V661.30M350.52,665.20V674.20M370.58,680.60V689.60M390.64,701.30V710.30M410.70,723.20V732.20M430.76,738.00V780.00M450.82,764.00V800.00M470.88,801.90V810.90M490.94,823.00V860.00M511.00,863.80V872.80" stroke="#8000ff" stroke-width="2.1" fill="none"/><circle cx="129.86" cy="851.50" r="6.1" fill="none" stroke="#8000ff" stroke-width="2.2"/><circle cx="149.92" cy="829.10" r="6.1" fill="none" stroke="#8000ff" stroke-width="2.2"/><circle cx="169.98" cy="792.90" r="6.1" fill="none" stroke="#8000ff" stroke-width="2.2"/><circle cx="190.04" cy="763.60" r="6.1" fill="none" stroke="#8000ff" stroke-width="2.2"/><circle cx="210.10" cy="737.10" r="6.1" fill="none" stroke="#8000ff" stroke-width="2.2"/><circle cx="230.16" cy="712.00" r="6.1" fill="none" stroke="#8000ff" stroke-width="2.2"/><circle cx="250.22" cy="685.50" r="6.1" fill="none" stroke="#8000ff" stroke-width="2.2"/><circle cx="270.28" cy="665.00" r="6.1" fill="none" stroke="#8000ff" stroke-width="2.2"/><circle cx="290.34" cy="652.00" r="6.1" fill="none" stroke="#8000ff" stroke-width="2.2"/><circle cx="310.40" cy="647.90" r="6.1" fill="none" stroke="#8000ff" stroke-width="2.2"/><circle cx="330.46" cy="656.80" r="6.1" fill="none" stroke="#8000ff" stroke-width="2.2"/><circle cx="350.52" cy="669.70" r="6.1" fill="none" stroke="#8000ff" stroke-width="2.2"/><circle cx="370.58" cy="685.10" r="6.1" fill="none" stroke="#8000ff" stroke-width="2.2"/><circle cx="390.64" cy="705.80" r="6.1" fill="none" stroke="#8000ff" stroke-width="2.2"/><circle cx="410.70" cy="727.70" r="6.1" fill="none" stroke="#8000ff" stroke-width="2.2"/><circle cx="430.76" cy="753.50" r="6.1" fill="none" stroke="#8000ff" stroke-width="2.2"/><circle cx="450.82" cy="779.30" r="6.1" fill="none" stroke="#8000ff" stroke-width="2.2"/><circle cx="470.88" cy="806.40" r="6.1" fill="none" stroke="#8000ff" stroke-width="2.2"/><circle cx="490.94" cy="838.70" r="6.1" fill="none" stroke="#8000ff" stroke-width="2.2"/><circle cx="511.00" cy="868.30" r="6.1" fill="none" stroke="#8000ff" stroke-width="2.2"/><path d="M129.86,836.00V867.00M149.92,809.30V818.30M169.98,780.00V812.00M190.04,761.90V770.90M210.10,729.80V738.80M230.16,703.30V712.30M250.22,679.50V688.50M270.28,657.50V666.50M290.34,645.50V654.50M310.40,639.20V648.20M330.46,651.50V660.50M350.52,663.90V672.90M370.58,679.40V688.40M390.64,698.70V707.70M410.70,713.50V756.00M430.76,737.00V780.00M450.82,763.80V823.00M470.88,795.00V831.00M490.94,826.00V880.00M511.00,860.00V869.00" stroke="#11aee8" stroke-width="2.1" fill="none"/><path d="M129.86,854.10L123.56,841.90L136.16,841.90Z" fill="none" stroke="#11aee8" stroke-width="2.2" stroke-linejoin="miter"/><path d="M149.92,819.90L143.62,807.70L156.22,807.70Z" fill="none" stroke="#11aee8" stroke-width="2.2" stroke-linejoin="miter"/><path d="M169.98,799.00L163.68,786.80L176.28,786.80Z" fill="none" stroke="#11aee8" stroke-width="2.2" stroke-linejoin="miter"/><path d="M190.04,772.50L183.74,760.30L196.34,760.30Z" fill="none" stroke="#11aee8" stroke-width="2.2" stroke-linejoin="miter"/><path d="M210.10,740.40L203.80,728.20L216.40,728.20Z" fill="none" stroke="#11aee8" stroke-width="2.2" stroke-linejoin="miter"/><path d="M230.16,713.90L223.86,701.70L236.46,701.70Z" fill="none" stroke="#11aee8" stroke-width="2.2" stroke-linejoin="miter"/><path d="M250.22,690.10L243.92,677.90L256.52,677.90Z" fill="none" stroke="#11aee8" stroke-width="2.2" stroke-linejoin="miter"/><path d="M270.28,668.10L263.98,655.90L276.58,655.90Z" fill="none" stroke="#11aee8" stroke-width="2.2" stroke-linejoin="miter"/><path d="M290.34,656.10L284.04,643.90L296.64,643.90Z" fill="none" stroke="#11aee8" stroke-width="2.2" stroke-linejoin="miter"/><path d="M310.40,649.80L304.10,637.60L316.70,637.60Z" fill="none" stroke="#11aee8" stroke-width="2.2" stroke-linejoin="miter"/><path d="M330.46,662.10L324.16,649.90L336.76,649.90Z" fill="none" stroke="#11aee8" stroke-width="2.2" stroke-linejoin="miter"/><path d="M350.52,674.50L344.22,662.30L356.82,662.30Z" fill="none" stroke="#11aee8" stroke-width="2.2" stroke-linejoin="miter"/><path d="M370.58,690.00L364.28,677.80L376.88,677.80Z" fill="none" stroke="#11aee8" stroke-width="2.2" stroke-linejoin="miter"/><path d="M390.64,709.30L384.34,697.10L396.94,697.10Z" fill="none" stroke="#11aee8" stroke-width="2.2" stroke-linejoin="miter"/><path d="M410.70,729.90L404.40,717.70L417.00,717.70Z" fill="none" stroke="#11aee8" stroke-width="2.2" stroke-linejoin="miter"/><path d="M430.76,753.20L424.46,741.00L437.06,741.00Z" fill="none" stroke="#11aee8" stroke-width="2.2" stroke-linejoin="miter"/><path d="M450.82,784.10L444.52,771.90L457.12,771.90Z" fill="none" stroke="#11aee8" stroke-width="2.2" stroke-linejoin="miter"/><path d="M470.88,813.80L464.58,801.60L477.18,801.60Z" fill="none" stroke="#11aee8" stroke-width="2.2" stroke-linejoin="miter"/><path d="M490.94,858.90L484.64,846.70L497.24,846.70Z" fill="none" stroke="#11aee8" stroke-width="2.2" stroke-linejoin="miter"/><path d="M511.00,870.60L504.70,858.40L517.30,858.40Z" fill="none" stroke="#11aee8" stroke-width="2.2" stroke-linejoin="miter"/><path d="M129.86,847.00V856.00M149.92,820.50V829.50M169.98,788.40V797.40M190.04,768.90V777.90M210.10,732.60V741.60M230.16,711.70V720.70M250.22,679.80V688.80M270.28,660.80V669.80M290.34,647.50V656.50M310.40,643.40V652.40M330.46,650.50V659.50M350.52,661.30V670.30M370.58,679.40V688.40M390.64,701.30V710.30M410.70,728.40V737.40M430.76,760.60V769.60M450.82,785.10V794.10M470.88,804.50V813.50M490.94,854.80V863.80" stroke="#80ffb4" stroke-width="2.1" fill="none"/><path d="M129.86,843.10L138.26,851.50L129.86,859.90L121.46,851.50Z" fill="none" stroke="#80ffb4" stroke-width="2.2"/><path d="M149.92,816.60L158.32,825.00L149.92,833.40L141.52,825.00Z" fill="none" stroke="#80ffb4" stroke-width="2.2"/><path d="M169.98,784.50L178.38,792.90L169.98,801.30L161.58,792.90Z" fill="none" stroke="#80ffb4" stroke-width="2.2"/><path d="M190.04,765.00L198.44,773.40L190.04,781.80L181.64,773.40Z" fill="none" stroke="#80ffb4" stroke-width="2.2"/><path d="M210.10,728.70L218.50,737.10L210.10,745.50L201.70,737.10Z" fill="none" stroke="#80ffb4" stroke-width="2.2"/><path d="M230.16,707.80L238.56,716.20L230.16,724.60L221.76,716.20Z" fill="none" stroke="#80ffb4" stroke-width="2.2"/><path d="M250.22,675.90L258.62,684.30L250.22,692.70L241.82,684.30Z" fill="none" stroke="#80ffb4" stroke-width="2.2"/><path d="M270.28,656.90L278.68,665.30L270.28,673.70L261.88,665.30Z" fill="none" stroke="#80ffb4" stroke-width="2.2"/><path d="M290.34,643.60L298.74,652.00L290.34,660.40L281.94,652.00Z" fill="none" stroke="#80ffb4" stroke-width="2.2"/><path d="M310.40,639.50L318.80,647.90L310.40,656.30L302.00,647.90Z" fill="none" stroke="#80ffb4" stroke-width="2.2"/><path d="M330.46,646.60L338.86,655.00L330.46,663.40L322.06,655.00Z" fill="none" stroke="#80ffb4" stroke-width="2.2"/><path d="M350.52,657.40L358.92,665.80L350.52,674.20L342.12,665.80Z" fill="none" stroke="#80ffb4" stroke-width="2.2"/><path d="M370.58,675.50L378.98,683.90L370.58,692.30L362.18,683.90Z" fill="none" stroke="#80ffb4" stroke-width="2.2"/><path d="M390.64,697.40L399.04,705.80L390.64,714.20L382.24,705.80Z" fill="none" stroke="#80ffb4" stroke-width="2.2"/><path d="M410.70,724.50L419.10,732.90L410.70,741.30L402.30,732.90Z" fill="none" stroke="#80ffb4" stroke-width="2.2"/><path d="M430.76,756.70L439.16,765.10L430.76,773.50L422.36,765.10Z" fill="none" stroke="#80ffb4" stroke-width="2.2"/><path d="M450.82,781.20L459.22,789.60L450.82,798.00L442.42,789.60Z" fill="none" stroke="#80ffb4" stroke-width="2.2"/><path d="M470.88,800.60L479.28,809.00L470.88,817.40L462.48,809.00Z" fill="none" stroke="#80ffb4" stroke-width="2.2"/><path d="M490.94,850.90L499.34,859.30L490.94,867.70L482.54,859.30Z" fill="none" stroke="#80ffb4" stroke-width="2.2"/><path d="M169.98,857.00V880.00M190.04,809.60V879.00M210.10,786.00V813.00M230.16,756.00V780.00M250.22,756.30V765.30M290.34,651.50V660.50M310.40,608.50V617.50M370.58,749.00V758.00M390.64,753.00V780.00M410.70,773.00V880.00M430.76,809.00V880.00M450.82,844.00V880.00M470.88,869.00V880.00" stroke="#ffb462" stroke-width="2.1" fill="none"/><path d="M169.98,893.90L163.68,906.10L176.28,906.10Z" fill="none" stroke="#ffb462" stroke-width="2.2" stroke-linejoin="miter"/><path d="M190.04,834.20L183.74,846.40L196.34,846.40Z" fill="none" stroke="#ffb462" stroke-width="2.2" stroke-linejoin="miter"/><path d="M210.10,792.40L203.80,804.60L216.40,804.60Z" fill="none" stroke="#ffb462" stroke-width="2.2" stroke-linejoin="miter"/><path d="M230.16,760.30L223.86,772.50L236.46,772.50Z" fill="none" stroke="#ffb462" stroke-width="2.2" stroke-linejoin="miter"/><path d="M250.22,754.70L243.92,766.90L256.52,766.90Z" fill="none" stroke="#ffb462" stroke-width="2.2" stroke-linejoin="miter"/><path d="M290.34,649.90L284.04,662.10L296.64,662.10Z" fill="none" stroke="#ffb462" stroke-width="2.2" stroke-linejoin="miter"/><path d="M310.40,606.90L304.10,619.10L316.70,619.10Z" fill="none" stroke="#ffb462" stroke-width="2.2" stroke-linejoin="miter"/><path d="M370.58,747.40L364.28,759.60L376.88,759.60Z" fill="none" stroke="#ffb462" stroke-width="2.2" stroke-linejoin="miter"/><path d="M390.64,760.30L384.34,772.50L396.94,772.50Z" fill="none" stroke="#ffb462" stroke-width="2.2" stroke-linejoin="miter"/><path d="M410.70,792.60L404.40,804.80L417.00,804.80Z" fill="none" stroke="#ffb462" stroke-width="2.2" stroke-linejoin="miter"/><path d="M430.76,832.60L424.46,844.80L437.06,844.80Z" fill="none" stroke="#ffb462" stroke-width="2.2" stroke-linejoin="miter"/><path d="M450.82,868.70L444.52,880.90L457.12,880.90Z" fill="none" stroke="#ffb462" stroke-width="2.2" stroke-linejoin="miter"/><path d="M470.88,893.90L464.58,906.10L477.18,906.10Z" fill="none" stroke="#ffb462" stroke-width="2.2" stroke-linejoin="miter"/><path d="M190.04,869.30V878.30M210.10,825.00V857.00M230.16,799.00V830.00M250.22,762.00V780.00M270.28,710.30V719.30M290.34,651.30V660.30M310.40,605.50V614.50M330.46,651.00V660.00M350.52,707.70V716.70M370.58,759.30V768.30M390.64,782.00V818.00M410.70,777.00V880.00M430.76,852.00V880.00" stroke="#ff1010" stroke-width="2.1" fill="none"/><rect x="183.94" y="867.70" width="12.20" height="12.20" fill="none" stroke="#ff1010" stroke-width="2.2"/><rect x="204.00" y="831.40" width="12.20" height="12.20" fill="none" stroke="#ff1010" stroke-width="2.2"/><rect x="224.06" y="797.90" width="12.20" height="12.20" fill="none" stroke="#ff1010" stroke-width="2.2"/><rect x="244.12" y="764.50" width="12.20" height="12.20" fill="none" stroke="#ff1010" stroke-width="2.2"/><rect x="264.18" y="708.70" width="12.20" height="12.20" fill="none" stroke="#ff1010" stroke-width="2.2"/><rect x="284.24" y="649.70" width="12.20" height="12.20" fill="none" stroke="#ff1010" stroke-width="2.2"/><rect x="304.30" y="603.90" width="12.20" height="12.20" fill="none" stroke="#ff1010" stroke-width="2.2"/><rect x="324.36" y="649.40" width="12.20" height="12.20" fill="none" stroke="#ff1010" stroke-width="2.2"/><rect x="344.42" y="706.10" width="12.20" height="12.20" fill="none" stroke="#ff1010" stroke-width="2.2"/><rect x="364.48" y="757.70" width="12.20" height="12.20" fill="none" stroke="#ff1010" stroke-width="2.2"/><rect x="384.54" y="788.70" width="12.20" height="12.20" fill="none" stroke="#ff1010" stroke-width="2.2"/><rect x="404.60" y="824.80" width="12.20" height="12.20" fill="none" stroke="#ff1010" stroke-width="2.2"/><rect x="424.66" y="860.90" width="12.20" height="12.20" fill="none" stroke="#ff1010" stroke-width="2.2"/></g><rect x="125" y="497" width="167.5" height="206.39999999999998" fill="#fff" fill-opacity="0.88"/><circle cx="160.20" cy="527.10" r="6.1" fill="none" stroke="#8000ff" stroke-width="1.8"/><path d="M160.20,572.18L153.90,559.98L166.50,559.98Z" fill="none" stroke="#11aee8" stroke-width="1.8" stroke-linejoin="miter"/><path d="M160.20,596.66L168.60,605.06L160.20,613.46L151.80,605.06Z" fill="none" stroke="#80ffb4" stroke-width="1.8"/><path d="M160.20,637.94L153.90,650.14L166.50,650.14Z" fill="none" stroke="#ffb462" stroke-width="1.8" stroke-linejoin="miter"/><rect x="154.10" y="676.92" width="12.20" height="12.20" fill="none" stroke="#ff1010" stroke-width="1.8"/><path d="M109.70,880.50h7 M109.70,857.12h4 M109.70,843.44h4 M109.70,833.73h4 M109.70,826.20h4 M109.70,820.05h4 M109.70,814.85h4 M109.70,810.35h4 M109.70,806.37h4 M109.70,802.82h7 M109.70,779.44h4 M109.70,765.76h4 M109.70,756.05h4 M109.70,748.52h4 M109.70,742.37h4 M109.70,737.17h4 M109.70,732.67h4 M109.70,728.69h4 M109.70,725.14h7 M109.70,701.76h4 M109.70,688.08h4 M109.70,678.37h4 M109.70,670.84h4 M109.70,664.69h4 M109.70,659.49h4 M109.70,654.99h4 M109.70,651.01h4 M109.70,647.46h7 M109.70,624.08h4 M109.70,610.40h4 M109.70,600.69h4 M109.70,593.16h4 M109.70,587.01h4 M109.70,581.81h4 M109.70,577.31h4 M109.70,573.33h4 M109.70,569.78h7 M109.70,546.40h4 M109.70,532.72h4 M109.70,523.01h4 M109.70,515.48h4 M109.70,509.33h4 M109.70,504.13h4 M109.70,499.63h4 M109.70,495.65h4 M109.70,492.10h7 M143.14,880.50v-7 M176.58,880.50v-4 M210.03,880.50v-4 M243.47,880.50v-4 M276.91,880.50v-4 M310.35,880.50v-7 M343.79,880.50v-4 M377.23,880.50v-4 M410.68,880.50v-4 M444.12,880.50v-4 M477.56,880.50v-7" stroke="#1a1a1a" stroke-width="1.3" fill="none"/><rect x="109.7" y="492.1" width="401.30" height="388.40" fill="none" stroke="#1a1a1a" stroke-width="1.4"/><g transform="matrix(0.9947,0,0,0.9886,787.71,865.49)"><text x="0" y="0" font-size="39" font-weight="bold" font-style="normal" fill="#808080">5.0<tspan font-style="italic">g</tspan></text></g><line x1="820.25" y1="492.1" x2="820.25" y2="880.5" stroke="#ff7b7b" stroke-width="1.9" stroke-dasharray="7 3.7" stroke-dashoffset="-2.5"/><clipPath id="clip_d"><rect x="619.5" y="492.1" width="401.50" height="388.40"/></clipPath><g clip-path="url(#clip_d)"><g fill="#8a2a9a"><circle cx="765.0" cy="880.1" r="2.4"/><circle cx="766.0" cy="871.3" r="2.4"/><circle cx="767.0" cy="862.6" r="2.4"/><circle cx="768.0" cy="854.1" r="2.4"/><circle cx="769.0" cy="845.7" r="2.4"/><circle cx="770.0" cy="837.5" r="2.4"/><circle cx="771.0" cy="829.5" r="2.4"/><circle cx="772.0" cy="821.6" r="2.4"/><circle cx="773.0" cy="813.9" r="2.4"/><circle cx="774.0" cy="806.3" r="2.4"/><circle cx="775.0" cy="798.9" r="2.4"/><circle cx="776.0" cy="791.7" r="2.4"/><circle cx="777.0" cy="784.6" r="2.4"/><circle cx="778.0" cy="777.7" r="2.4"/><circle cx="779.0" cy="771.0" r="2.4"/><circle cx="780.0" cy="764.4" r="2.4"/><circle cx="781.0" cy="758.0" r="2.4"/><circle cx="782.0" cy="751.8" r="2.4"/><circle cx="783.0" cy="745.7" r="2.4"/><circle cx="784.0" cy="739.7" r="2.4"/><circle cx="785.0" cy="734.0" r="2.4"/><circle cx="786.0" cy="728.4" r="2.4"/><circle cx="787.0" cy="722.9" r="2.4"/><circle cx="788.0" cy="717.6" r="2.4"/><circle cx="789.0" cy="712.5" r="2.4"/><circle cx="790.0" cy="707.6" r="2.4"/><circle cx="791.0" cy="702.8" r="2.4"/><circle cx="792.0" cy="698.2" r="2.4"/><circle cx="793.0" cy="693.7" r="2.4"/><circle cx="794.0" cy="689.4" r="2.4"/><circle cx="795.0" cy="685.2" r="2.4"/><circle cx="796.0" cy="681.3" r="2.4"/><circle cx="797.0" cy="677.5" r="2.4"/><circle cx="798.0" cy="673.8" r="2.4"/><circle cx="799.0" cy="670.3" r="2.4"/><circle cx="800.0" cy="667.0" r="2.4"/><circle cx="801.0" cy="663.8" r="2.4"/><circle cx="802.0" cy="660.8" r="2.4"/><circle cx="803.0" cy="658.0" r="2.4"/><circle cx="804.0" cy="655.3" r="2.4"/><circle cx="805.0" cy="652.8" r="2.4"/><circle cx="806.0" cy="650.4" r="2.4"/><circle cx="807.0" cy="648.2" r="2.4"/><circle cx="808.0" cy="646.2" r="2.4"/><circle cx="809.0" cy="644.3" r="2.4"/><circle cx="810.0" cy="642.6" r="2.4"/><circle cx="811.0" cy="641.1" r="2.4"/><circle cx="812.0" cy="639.7" r="2.4"/><circle cx="813.0" cy="638.5" r="2.4"/><circle cx="814.0" cy="637.4" r="2.4"/><circle cx="815.0" cy="636.5" r="2.4"/><circle cx="816.0" cy="635.8" r="2.4"/><circle cx="817.0" cy="635.2" r="2.4"/><circle cx="818.0" cy="634.8" r="2.4"/><circle cx="819.0" cy="634.6" r="2.4"/><circle cx="820.0" cy="634.5" r="2.4"/><circle cx="821.0" cy="634.6" r="2.4"/><circle cx="822.0" cy="634.8" r="2.4"/><circle cx="823.0" cy="635.2" r="2.4"/><circle cx="824.0" cy="635.8" r="2.4"/><circle cx="825.0" cy="636.5" r="2.4"/><circle cx="826.0" cy="637.4" r="2.4"/><circle cx="827.0" cy="638.5" r="2.4"/><circle cx="828.0" cy="639.7" r="2.4"/><circle cx="829.0" cy="641.1" r="2.4"/><circle cx="830.0" cy="642.6" r="2.4"/><circle cx="831.0" cy="644.3" r="2.4"/><circle cx="832.0" cy="646.2" r="2.4"/><circle cx="833.0" cy="648.2" r="2.4"/><circle cx="834.0" cy="650.4" r="2.4"/><circle cx="835.0" cy="652.8" r="2.4"/><circle cx="836.0" cy="655.3" r="2.4"/><circle cx="837.0" cy="658.0" r="2.4"/><circle cx="838.0" cy="660.8" r="2.4"/><circle cx="839.0" cy="663.8" r="2.4"/><circle cx="840.0" cy="667.0" r="2.4"/><circle cx="841.0" cy="670.3" r="2.4"/><circle cx="842.0" cy="673.8" r="2.4"/><circle cx="843.0" cy="677.5" r="2.4"/><circle cx="844.0" cy="681.3" r="2.4"/><circle cx="845.0" cy="685.2" r="2.4"/><circle cx="846.0" cy="689.4" r="2.4"/><circle cx="847.0" cy="693.7" r="2.4"/><circle cx="848.0" cy="698.2" r="2.4"/><circle cx="849.0" cy="702.8" r="2.4"/><circle cx="850.0" cy="707.6" r="2.4"/><circle cx="851.0" cy="712.5" r="2.4"/><circle cx="852.0" cy="717.6" r="2.4"/><circle cx="853.0" cy="722.9" r="2.4"/><circle cx="854.0" cy="728.4" r="2.4"/><circle cx="855.0" cy="734.0" r="2.4"/><circle cx="856.0" cy="739.7" r="2.4"/><circle cx="857.0" cy="745.7" r="2.4"/><circle cx="858.0" cy="751.8" r="2.4"/><circle cx="859.0" cy="758.0" r="2.4"/><circle cx="860.0" cy="764.4" r="2.4"/><circle cx="861.0" cy="771.0" r="2.4"/><circle cx="862.0" cy="777.7" r="2.4"/><circle cx="863.0" cy="784.6" r="2.4"/><circle cx="864.0" cy="791.7" r="2.4"/><circle cx="865.0" cy="798.9" r="2.4"/><circle cx="866.0" cy="806.3" r="2.4"/><circle cx="867.0" cy="813.9" r="2.4"/><circle cx="868.0" cy="821.6" r="2.4"/><circle cx="869.0" cy="829.5" r="2.4"/><circle cx="870.0" cy="837.5" r="2.4"/><circle cx="871.0" cy="845.7" r="2.4"/><circle cx="872.0" cy="854.1" r="2.4"/><circle cx="873.0" cy="862.6" r="2.4"/><circle cx="874.0" cy="871.3" r="2.4"/><circle cx="875.0" cy="880.1" r="2.4"/><circle cx="820.0" cy="710.5" r="2.4"/><circle cx="826.8" cy="694.8" r="2.4"/><circle cx="813.2" cy="694.8" r="2.4"/><circle cx="833.5" cy="682.2" r="2.4"/><circle cx="806.5" cy="682.2" r="2.4"/><circle cx="840.2" cy="671.0" r="2.4"/><circle cx="799.8" cy="671.0" r="2.4"/><circle cx="847.0" cy="662.0" r="2.4"/><circle cx="793.0" cy="662.0" r="2.4"/><circle cx="853.8" cy="655.0" r="2.4"/><circle cx="786.2" cy="655.0" r="2.4"/><circle cx="860.5" cy="650.0" r="2.4"/><circle cx="779.5" cy="650.0" r="2.4"/><circle cx="867.2" cy="647.0" r="2.4"/><circle cx="772.8" cy="647.0" r="2.4"/><circle cx="874.0" cy="645.0" r="2.4"/><circle cx="766.0" cy="645.0" r="2.4"/><circle cx="880.8" cy="645.0" r="2.4"/><circle cx="759.2" cy="645.0" r="2.4"/><circle cx="887.5" cy="647.0" r="2.4"/><circle cx="752.5" cy="647.0" r="2.4"/><circle cx="894.2" cy="650.0" r="2.4"/><circle cx="745.8" cy="650.0" r="2.4"/><circle cx="901.0" cy="655.0" r="2.4"/><circle cx="739.0" cy="655.0" r="2.4"/><circle cx="907.8" cy="661.0" r="2.4"/><circle cx="732.2" cy="661.0" r="2.4"/><circle cx="914.5" cy="668.0" r="2.4"/><circle cx="725.5" cy="668.0" r="2.4"/><circle cx="921.2" cy="678.0" r="2.4"/><circle cx="718.8" cy="678.0" r="2.4"/><circle cx="928.0" cy="690.0" r="2.4"/><circle cx="712.0" cy="690.0" r="2.4"/><circle cx="934.8" cy="705.0" r="2.4"/><circle cx="705.2" cy="705.0" r="2.4"/><circle cx="941.5" cy="722.0" r="2.4"/><circle cx="698.5" cy="722.0" r="2.4"/><circle cx="948.2" cy="740.0" r="2.4"/><circle cx="691.8" cy="740.0" r="2.4"/><circle cx="955.0" cy="758.0" r="2.4"/><circle cx="685.0" cy="758.0" r="2.4"/><circle cx="961.8" cy="785.0" r="2.4"/><circle cx="678.2" cy="785.0" r="2.4"/><circle cx="968.5" cy="812.0" r="2.4"/><circle cx="671.5" cy="812.0" r="2.4"/><circle cx="975.2" cy="842.0" r="2.4"/><circle cx="664.8" cy="842.0" r="2.4"/><circle cx="982.0" cy="875.0" r="2.4"/><circle cx="658.0" cy="875.0" r="2.4"/><circle cx="826.8" cy="728.0" r="2.4"/><circle cx="813.2" cy="728.0" r="2.4"/><circle cx="833.5" cy="747.0" r="2.4"/><circle cx="806.5" cy="747.0" r="2.4"/><circle cx="840.2" cy="766.0" r="2.4"/><circle cx="799.8" cy="766.0" r="2.4"/><circle cx="847.0" cy="790.0" r="2.4"/><circle cx="793.0" cy="790.0" r="2.4"/><circle cx="853.8" cy="814.6" r="2.4"/><circle cx="786.2" cy="814.6" r="2.4"/><circle cx="860.5" cy="840.3" r="2.4"/><circle cx="779.5" cy="840.3" r="2.4"/><circle cx="867.2" cy="866.0" r="2.4"/><circle cx="772.8" cy="866.0" r="2.4"/></g><path d="M635.0,890.0L635.7,888.2L636.3,886.5L637.0,884.7L637.7,882.9L638.3,881.2L639.0,879.4L639.7,877.6L640.3,875.8L641.0,874.1L641.7,872.3L642.3,870.5L643.0,868.8L643.7,867.0L644.3,865.2L645.0,863.4L645.6,861.6L646.3,859.9L647.0,858.1L647.6,856.3L648.3,854.5L649.0,852.7L649.6,851.0L650.3,849.2L651.0,847.4L651.6,845.7L652.3,844.0L653.0,842.2L653.6,840.5L654.3,838.8L655.0,837.1L655.6,835.4L656.3,833.7L657.0,831.9L657.6,830.2L658.3,828.4L659.0,826.6L659.6,824.8L660.3,823.0L661.0,821.1L661.6,819.1L662.3,817.2L662.9,815.2L663.6,813.1L664.3,810.9L664.9,808.7L665.6,806.5L666.3,804.1L666.9,801.8L667.6,799.3L668.3,796.9L668.9,794.4L669.6,791.9L670.3,789.4L670.9,786.8L671.6,784.2L672.3,781.7L672.9,779.1L673.6,776.5L674.3,774.0L674.9,771.4L675.6,768.9L676.3,766.4L676.9,763.9L677.6,761.5L678.3,759.1L678.9,756.7L679.6,754.4L680.3,752.1L680.9,749.9L681.6,747.6L682.2,745.4L682.9,743.1L683.6,740.9L684.2,738.6L684.9,736.4L685.6,734.1L686.2,731.9L686.9,729.7L687.6,727.5L688.2,725.3L688.9,723.1L689.6,721.0L690.2,718.9L690.9,716.8L691.6,714.7L692.2,712.7L692.9,710.7L693.6,708.8L694.2,706.8L694.9,705.0L695.6,703.1L696.2,701.3L696.9,699.6L697.6,697.9L698.2,696.2L698.9,694.5L699.6,692.8L700.2,691.0L700.9,689.3L701.5,687.6L702.2,685.9L702.9,684.3L703.5,682.6L704.2,680.9L704.9,679.3L705.5,677.7L706.2,676.2L706.9,674.7L707.5,673.2L708.2,671.8L708.9,670.4L709.5,669.1L710.2,667.9L710.9,666.7L711.5,665.6L712.2,664.5L712.9,663.5L713.5,662.7L714.2,661.9L714.9,661.1L715.5,660.5L716.2,659.9L716.9,659.3L717.5,658.7L718.2,658.1L718.8,657.6L719.5,657.1L720.2,656.6L720.8,656.1L721.5,655.6L722.2,655.1L722.8,654.7L723.5,654.3L724.2,653.9L724.8,653.5L725.5,653.1L726.2,652.7L726.8,652.4L727.5,652.0L728.2,651.7L728.8,651.4L729.5,651.1L730.2,650.9L730.8,650.6L731.5,650.4L732.2,650.1L732.8,649.9L733.5,649.7L734.2,649.4L734.8,649.2L735.5,649.0L736.2,648.8L736.8,648.6L737.5,648.4L738.1,648.2L738.8,647.9L739.5,647.8L740.1,647.6L740.8,647.4L741.5,647.2L742.1,647.0L742.8,646.9L743.5,646.7L744.1,646.6L744.8,646.5L745.5,646.4L746.1,646.3L746.8,646.2L747.5,646.1L748.1,646.1L748.8,646.0L749.5,646.0L750.1,646.0L750.8,646.0L751.5,646.0L752.1,646.0L752.8,646.0L753.5,646.0L754.1,646.1L754.8,646.1L755.4,646.1L756.1,646.1L756.8,646.1L757.4,646.2L758.1,646.2L758.8,646.2L759.4,646.2L760.1,646.3L760.8,646.3L761.4,646.3L762.1,646.4L762.8,646.4L763.4,646.4L764.1,646.5L764.8,646.5L765.4,646.5L766.1,646.6L766.8,646.6L767.4,646.6L768.1,646.7L768.8,646.7L769.4,646.7L770.1,646.7L770.8,646.8L771.4,646.8L772.1,646.8L772.8,646.9L773.4,646.9L774.1,646.9L774.7,646.9L775.4,646.9L776.1,647.0L776.7,647.0L777.4,647.0L778.1,647.0L778.7,647.0L779.4,647.0L780.1,647.0L780.7,647.0L781.4,647.0L782.1,647.0L782.7,647.0L783.4,647.0L784.1,647.0L784.7,647.0L785.4,646.9L786.1,646.9L786.7,646.9L787.4,646.9L788.1,646.9L788.7,646.9L789.4,646.8L790.1,646.8L790.7,646.8L791.4,646.7L792.1,646.7L792.7,646.7L793.4,646.6L794.0,646.6L794.7,646.6L795.4,646.5L796.0,646.5L796.7,646.4L797.4,646.4L798.0,646.4L798.7,646.3L799.4,646.3L800.0,646.2L800.7,646.2L801.4,646.1L802.0,646.0L802.7,646.0L803.4,645.9L804.0,645.6L804.7,645.4L805.4,645.0L806.0,644.6L806.7,644.0L807.4,643.5L808.0,642.9L808.7,642.2L809.4,641.4L810.0,640.6L810.7,639.8L811.3,638.9L812.0,638.0L812.7,637.0L813.3,636.0L814.0,635.0L814.7,633.9L815.3,632.9L816.0,631.8L816.7,630.7L817.3,629.5L818.0,628.4L818.7,627.3L819.3,626.1L820.0,625.0L820.7,626.1L821.3,627.3L822.0,628.4L822.7,629.5L823.3,630.7L824.0,631.8L824.7,632.9L825.3,633.9L826.0,635.0L826.7,636.0L827.3,637.0L828.0,638.0L828.7,638.9L829.3,639.8L830.0,640.6L830.6,641.4L831.3,642.2L832.0,642.9L832.6,643.5L833.3,644.0L834.0,644.6L834.6,645.0L835.3,645.4L836.0,645.6L836.6,645.9L837.3,646.0L838.0,646.0L838.6,646.1L839.3,646.2L840.0,646.2L840.6,646.3L841.3,646.3L842.0,646.4L842.6,646.4L843.3,646.4L844.0,646.5L844.6,646.5L845.3,646.6L846.0,646.6L846.6,646.6L847.3,646.7L847.9,646.7L848.6,646.7L849.3,646.8L849.9,646.8L850.6,646.8L851.3,646.9L851.9,646.9L852.6,646.9L853.3,646.9L853.9,646.9L854.6,646.9L855.3,647.0L855.9,647.0L856.6,647.0L857.3,647.0L857.9,647.0L858.6,647.0L859.3,647.0L859.9,647.0L860.6,647.0L861.3,647.0L861.9,647.0L862.6,647.0L863.3,647.0L863.9,647.0L864.6,646.9L865.3,646.9L865.9,646.9L866.6,646.9L867.2,646.9L867.9,646.8L868.6,646.8L869.2,646.8L869.9,646.7L870.6,646.7L871.2,646.7L871.9,646.7L872.6,646.6L873.2,646.6L873.9,646.6L874.6,646.5L875.2,646.5L875.9,646.5L876.6,646.4L877.2,646.4L877.9,646.4L878.6,646.3L879.2,646.3L879.9,646.3L880.6,646.2L881.2,646.2L881.9,646.2L882.6,646.2L883.2,646.1L883.9,646.1L884.6,646.1L885.2,646.1L885.9,646.1L886.5,646.0L887.2,646.0L887.9,646.0L888.5,646.0L889.2,646.0L889.9,646.0L890.5,646.0L891.2,646.0L891.9,646.1L892.5,646.1L893.2,646.2L893.9,646.3L894.5,646.4L895.2,646.5L895.9,646.6L896.5,646.7L897.2,646.9L897.9,647.0L898.5,647.2L899.2,647.4L899.9,647.6L900.5,647.8L901.2,647.9L901.9,648.2L902.5,648.4L903.2,648.6L903.8,648.8L904.5,649.0L905.2,649.2L905.8,649.4L906.5,649.7L907.2,649.9L907.8,650.1L908.5,650.4L909.2,650.6L909.8,650.9L910.5,651.1L911.2,651.4L911.8,651.7L912.5,652.0L913.2,652.4L913.8,652.7L914.5,653.1L915.2,653.5L915.8,653.9L916.5,654.3L917.2,654.7L917.8,655.1L918.5,655.6L919.2,656.1L919.8,656.6L920.5,657.1L921.2,657.6L921.8,658.1L922.5,658.7L923.1,659.3L923.8,659.9L924.5,660.5L925.1,661.1L925.8,661.9L926.5,662.7L927.1,663.5L927.8,664.5L928.5,665.6L929.1,666.7L929.8,667.9L930.5,669.1L931.1,670.4L931.8,671.8L932.5,673.2L933.1,674.7L933.8,676.2L934.5,677.7L935.1,679.3L935.8,680.9L936.5,682.6L937.1,684.3L937.8,685.9L938.5,687.6L939.1,689.3L939.8,691.0L940.4,692.8L941.1,694.5L941.8,696.2L942.4,697.9L943.1,699.6L943.8,701.3L944.4,703.1L945.1,705.0L945.8,706.8L946.4,708.8L947.1,710.7L947.8,712.7L948.4,714.7L949.1,716.8L949.8,718.9L950.4,721.0L951.1,723.1L951.8,725.3L952.4,727.5L953.1,729.7L953.8,731.9L954.4,734.1L955.1,736.4L955.8,738.6L956.4,740.9L957.1,743.1L957.8,745.4L958.4,747.6L959.1,749.9L959.7,752.1L960.4,754.4L961.1,756.7L961.7,759.1L962.4,761.5L963.1,763.9L963.7,766.4L964.4,768.9L965.1,771.4L965.7,774.0L966.4,776.5L967.1,779.1L967.7,781.7L968.4,784.2L969.1,786.8L969.7,789.4L970.4,791.9L971.1,794.4L971.7,796.9L972.4,799.3L973.1,801.8L973.7,804.1L974.4,806.5L975.1,808.7L975.7,810.9L976.4,813.1L977.1,815.2L977.7,817.2L978.4,819.1L979.0,821.1L979.7,823.0L980.4,824.8L981.0,826.6L981.7,828.4L982.4,830.2L983.0,831.9L983.7,833.7L984.4,835.4L985.0,837.1L985.7,838.8L986.4,840.5L987.0,842.2L987.7,844.0L988.4,845.7L989.0,847.4L989.7,849.2L990.4,851.0L991.0,852.7L991.7,854.5L992.4,856.3L993.0,858.1L993.7,859.9L994.4,861.6L995.0,863.4L995.7,865.2L996.3,867.0L997.0,868.8L997.7,870.5L998.3,872.3L999.0,874.1L999.7,875.8L1000.3,877.6L1001.0,879.4L1001.7,881.2L1002.3,882.9L1003.0,884.7L1003.7,886.5L1004.3,888.2L1005.0,890.0" fill="none" stroke="#11aee8" stroke-width="3.3" stroke-opacity="0.42" stroke-linejoin="round"/><path d="M639.0,890.0L639.7,888.5L640.3,887.0L641.0,885.4L641.7,883.9L642.3,882.2L643.0,880.6L643.7,878.9L644.3,877.2L645.0,875.5L645.7,873.7L646.3,872.0L647.0,870.2L647.7,868.3L648.3,866.5L649.0,864.6L649.6,862.7L650.3,860.7L651.0,858.8L651.6,856.8L652.3,854.8L653.0,852.8L653.6,850.7L654.3,848.7L655.0,846.6L655.6,844.5L656.3,842.3L657.0,840.2L657.6,838.0L658.3,835.9L659.0,833.7L659.6,831.4L660.3,829.2L661.0,827.0L661.6,824.7L662.3,822.4L663.0,820.2L663.6,817.8L664.3,815.4L665.0,812.9L665.6,810.3L666.3,807.6L666.9,804.9L667.6,802.1L668.3,799.2L668.9,796.4L669.6,793.5L670.3,790.5L670.9,787.6L671.6,784.6L672.3,781.7L672.9,778.7L673.6,775.8L674.3,772.9L674.9,770.0L675.6,767.2L676.3,764.4L676.9,761.7L677.6,759.0L678.3,756.4L678.9,753.9L679.6,751.4L680.3,749.1L680.9,746.8L681.6,744.5L682.3,742.2L682.9,739.9L683.6,737.7L684.2,735.4L684.9,733.2L685.6,731.0L686.2,728.9L686.9,726.7L687.6,724.6L688.2,722.5L688.9,720.5L689.6,718.4L690.2,716.4L690.9,714.5L691.6,712.5L692.2,710.6L692.9,708.8L693.6,706.9L694.2,705.1L694.9,703.4L695.6,701.7L696.2,700.0L696.9,698.4L697.6,696.9L698.2,695.3L698.9,693.8L699.6,692.3L700.2,690.8L700.9,689.3L701.6,687.9L702.2,686.4L702.9,685.0L703.5,683.6L704.2,682.3L704.9,680.9L705.5,679.6L706.2,678.3L706.9,677.0L707.5,675.8L708.2,674.6L708.9,673.4L709.5,672.2L710.2,671.1L710.9,670.0L711.5,669.0L712.2,667.9L712.9,666.9L713.5,666.0L714.2,665.1L714.9,664.2L715.5,663.3L716.2,662.5L716.9,661.6L717.5,660.8L718.2,659.9L718.9,659.1L719.5,658.2L720.2,657.4L720.8,656.6L721.5,655.8L722.2,655.1L722.8,654.3L723.5,653.6L724.2,652.9L724.8,652.2L725.5,651.6L726.2,650.9L726.8,650.4L727.5,649.8L728.2,649.3L728.8,648.8L729.5,648.4L730.2,648.0L730.8,647.6L731.5,647.4L732.2,647.1L732.8,646.9L733.5,646.7L734.2,646.5L734.8,646.3L735.5,646.2L736.2,646.0L736.8,645.8L737.5,645.7L738.2,645.5L738.8,645.4L739.5,645.2L740.1,645.1L740.8,644.9L741.5,644.8L742.1,644.7L742.8,644.6L743.5,644.5L744.1,644.4L744.8,644.3L745.5,644.2L746.1,644.2L746.8,644.1L747.5,644.1L748.1,644.0L748.8,644.0L749.5,644.0L750.1,644.0L750.8,644.0L751.5,644.0L752.1,644.0L752.8,644.0L753.5,644.0L754.1,644.0L754.8,644.0L755.5,644.0L756.1,644.0L756.8,644.1L757.4,644.1L758.1,644.1L758.8,644.1L759.4,644.1L760.1,644.1L760.8,644.1L761.4,644.2L762.1,644.2L762.8,644.2L763.4,644.2L764.1,644.2L764.8,644.3L765.4,644.3L766.1,644.3L766.8,644.3L767.4,644.4L768.1,644.4L768.8,644.4L769.4,644.4L770.1,644.5L770.8,644.5L771.4,644.5L772.1,644.6L772.8,644.6L773.4,644.6L774.1,644.7L774.8,644.7L775.4,644.7L776.1,644.8L776.7,644.8L777.4,644.8L778.1,644.9L778.7,644.9L779.4,645.0L780.1,645.0L780.7,645.1L781.4,645.1L782.1,645.2L782.7,645.3L783.4,645.5L784.1,645.6L784.7,645.7L785.4,645.9L786.1,646.1L786.7,646.3L787.4,646.5L788.1,646.7L788.7,646.9L789.4,647.1L790.1,647.3L790.7,647.5L791.4,647.7L792.1,647.9L792.7,648.1L793.4,648.3L794.0,648.5L794.7,648.7L795.4,648.9L796.0,649.1L796.7,649.2L797.4,649.4L798.0,649.5L798.7,649.7L799.4,649.8L800.0,649.8L800.7,649.9L801.4,650.0L802.0,650.0L802.7,650.0L803.4,650.0L804.0,649.9L804.7,649.7L805.4,649.5L806.0,649.3L806.7,649.0L807.4,648.7L808.0,648.3L808.7,647.9L809.4,647.5L810.0,647.0L810.7,646.5L811.3,646.0L812.0,645.4L812.7,644.8L813.3,644.2L814.0,643.5L814.7,642.9L815.3,642.2L816.0,641.5L816.7,640.8L817.3,640.0L818.0,639.3L818.7,638.5L819.3,637.8L820.0,637.0L820.7,637.8L821.3,638.5L822.0,639.3L822.7,640.0L823.3,640.8L824.0,641.5L824.7,642.2L825.3,642.9L826.0,643.5L826.7,644.2L827.3,644.8L828.0,645.4L828.7,646.0L829.3,646.5L830.0,647.0L830.6,647.5L831.3,647.9L832.0,648.3L832.6,648.7L833.3,649.0L834.0,649.3L834.6,649.5L835.3,649.7L836.0,649.9L836.6,650.0L837.3,650.0L838.0,650.0L838.6,650.0L839.3,649.9L840.0,649.8L840.6,649.8L841.3,649.7L842.0,649.5L842.6,649.4L843.3,649.2L844.0,649.1L844.6,648.9L845.3,648.7L846.0,648.5L846.6,648.3L847.3,648.1L847.9,647.9L848.6,647.7L849.3,647.5L849.9,647.3L850.6,647.1L851.3,646.9L851.9,646.7L852.6,646.5L853.3,646.3L853.9,646.1L854.6,645.9L855.3,645.7L855.9,645.6L856.6,645.5L857.3,645.3L857.9,645.2L858.6,645.1L859.3,645.1L859.9,645.0L860.6,645.0L861.3,644.9L861.9,644.9L862.6,644.8L863.3,644.8L863.9,644.8L864.6,644.7L865.2,644.7L865.9,644.7L866.6,644.6L867.2,644.6L867.9,644.6L868.6,644.5L869.2,644.5L869.9,644.5L870.6,644.4L871.2,644.4L871.9,644.4L872.6,644.4L873.2,644.3L873.9,644.3L874.6,644.3L875.2,644.3L875.9,644.2L876.6,644.2L877.2,644.2L877.9,644.2L878.6,644.2L879.2,644.1L879.9,644.1L880.6,644.1L881.2,644.1L881.9,644.1L882.6,644.1L883.2,644.1L883.9,644.0L884.5,644.0L885.2,644.0L885.9,644.0L886.5,644.0L887.2,644.0L887.9,644.0L888.5,644.0L889.2,644.0L889.9,644.0L890.5,644.0L891.2,644.0L891.9,644.0L892.5,644.1L893.2,644.1L893.9,644.2L894.5,644.2L895.2,644.3L895.9,644.4L896.5,644.5L897.2,644.6L897.9,644.7L898.5,644.8L899.2,644.9L899.9,645.1L900.5,645.2L901.2,645.4L901.8,645.5L902.5,645.7L903.2,645.8L903.8,646.0L904.5,646.2L905.2,646.3L905.8,646.5L906.5,646.7L907.2,646.9L907.8,647.1L908.5,647.4L909.2,647.6L909.8,648.0L910.5,648.4L911.2,648.8L911.8,649.3L912.5,649.8L913.2,650.4L913.8,650.9L914.5,651.6L915.2,652.2L915.8,652.9L916.5,653.6L917.2,654.3L917.8,655.1L918.5,655.8L919.2,656.6L919.8,657.4L920.5,658.2L921.1,659.1L921.8,659.9L922.5,660.8L923.1,661.6L923.8,662.5L924.5,663.3L925.1,664.2L925.8,665.1L926.5,666.0L927.1,666.9L927.8,667.9L928.5,669.0L929.1,670.0L929.8,671.1L930.5,672.2L931.1,673.4L931.8,674.6L932.5,675.8L933.1,677.0L933.8,678.3L934.5,679.6L935.1,680.9L935.8,682.3L936.5,683.6L937.1,685.0L937.8,686.4L938.4,687.9L939.1,689.3L939.8,690.8L940.4,692.3L941.1,693.8L941.8,695.3L942.4,696.9L943.1,698.4L943.8,700.0L944.4,701.7L945.1,703.4L945.8,705.1L946.4,706.9L947.1,708.8L947.8,710.6L948.4,712.5L949.1,714.5L949.8,716.4L950.4,718.4L951.1,720.5L951.8,722.5L952.4,724.6L953.1,726.7L953.8,728.9L954.4,731.0L955.1,733.2L955.8,735.4L956.4,737.7L957.1,739.9L957.7,742.2L958.4,744.5L959.1,746.8L959.7,749.1L960.4,751.4L961.1,753.9L961.7,756.4L962.4,759.0L963.1,761.7L963.7,764.4L964.4,767.2L965.1,770.0L965.7,772.9L966.4,775.8L967.1,778.7L967.7,781.7L968.4,784.6L969.1,787.6L969.7,790.5L970.4,793.5L971.1,796.4L971.7,799.2L972.4,802.1L973.1,804.9L973.7,807.6L974.4,810.3L975.0,812.9L975.7,815.4L976.4,817.8L977.0,820.2L977.7,822.4L978.4,824.7L979.0,827.0L979.7,829.2L980.4,831.4L981.0,833.7L981.7,835.9L982.4,838.0L983.0,840.2L983.7,842.3L984.4,844.5L985.0,846.6L985.7,848.7L986.4,850.7L987.0,852.8L987.7,854.8L988.4,856.8L989.0,858.8L989.7,860.7L990.4,862.7L991.0,864.6L991.7,866.5L992.3,868.3L993.0,870.2L993.7,872.0L994.3,873.7L995.0,875.5L995.7,877.2L996.3,878.9L997.0,880.6L997.7,882.2L998.3,883.9L999.0,885.4L999.7,887.0L1000.3,888.5L1001.0,890.0" fill="none" stroke="#80ffb4" stroke-width="3.3" stroke-opacity="0.42" stroke-linejoin="round"/><path d="M653.0,890.0L653.7,888.3L654.3,886.6L655.0,884.8L655.7,883.0L656.3,881.1L657.0,879.2L657.7,877.3L658.3,875.3L659.0,873.2L659.7,871.1L660.3,869.0L661.0,866.8L661.6,864.6L662.3,862.4L663.0,860.1L663.6,857.7L664.3,855.2L665.0,852.7L665.6,850.0L666.3,847.3L667.0,844.5L667.6,841.6L668.3,838.7L669.0,835.8L669.6,832.7L670.3,829.7L671.0,826.6L671.6,823.6L672.3,820.5L673.0,817.4L673.6,814.3L674.3,811.2L675.0,808.1L675.6,805.0L676.3,802.0L677.0,799.0L677.6,796.1L678.3,793.2L678.9,790.3L679.6,787.6L680.3,784.9L680.9,782.2L681.6,779.5L682.3,776.7L682.9,774.0L683.6,771.3L684.3,768.6L684.9,765.9L685.6,763.2L686.3,760.5L686.9,757.8L687.6,755.2L688.3,752.6L688.9,750.0L689.6,747.4L690.3,744.9L690.9,742.3L691.6,739.9L692.3,737.4L692.9,735.0L693.6,732.7L694.3,730.4L694.9,728.2L695.6,726.0L696.2,723.8L696.9,721.8L697.6,719.8L698.2,717.8L698.9,715.8L699.6,713.9L700.2,712.0L700.9,710.1L701.6,708.2L702.2,706.3L702.9,704.5L703.6,702.7L704.2,700.9L704.9,699.1L705.6,697.4L706.2,695.7L706.9,694.0L707.6,692.4L708.2,690.8L708.9,689.2L709.6,687.7L710.2,686.3L710.9,684.8L711.5,683.4L712.2,682.1L712.9,680.8L713.5,679.5L714.2,678.3L714.9,677.2L715.5,676.1L716.2,675.0L716.9,673.9L717.5,672.9L718.2,671.8L718.9,670.8L719.5,669.8L720.2,668.8L720.9,667.8L721.5,666.9L722.2,665.9L722.9,665.0L723.5,664.1L724.2,663.3L724.9,662.4L725.5,661.6L726.2,660.8L726.9,660.1L727.5,659.4L728.2,658.7L728.8,658.0L729.5,657.4L730.2,656.8L730.8,656.2L731.5,655.7L732.2,655.2L732.8,654.8L733.5,654.3L734.2,653.9L734.8,653.5L735.5,653.0L736.2,652.6L736.8,652.2L737.5,651.8L738.2,651.4L738.8,651.1L739.5,650.7L740.2,650.4L740.8,650.0L741.5,649.7L742.2,649.4L742.8,649.1L743.5,648.8L744.2,648.5L744.8,648.3L745.5,648.1L746.1,647.8L746.8,647.6L747.5,647.5L748.1,647.3L748.8,647.2L749.5,647.1L750.1,647.0L750.8,646.9L751.5,646.8L752.1,646.8L752.8,646.7L753.5,646.6L754.1,646.6L754.8,646.5L755.5,646.5L756.1,646.4L756.8,646.4L757.5,646.3L758.1,646.3L758.8,646.2L759.5,646.2L760.1,646.2L760.8,646.1L761.5,646.1L762.1,646.1L762.8,646.0L763.4,646.0L764.1,646.0L764.8,645.9L765.4,645.9L766.1,645.9L766.8,645.9L767.4,645.8L768.1,645.8L768.8,645.8L769.4,645.7L770.1,645.7L770.8,645.7L771.4,645.6L772.1,645.6L772.8,645.6L773.4,645.5L774.1,645.5L774.8,645.4L775.4,645.4L776.1,645.3L776.8,645.3L777.4,645.2L778.1,645.2L778.7,645.1L779.4,645.1L780.1,645.0L780.7,644.9L781.4,644.8L782.1,644.8L782.7,644.7L783.4,644.6L784.1,644.5L784.7,644.4L785.4,644.3L786.1,644.2L786.7,644.0L787.4,643.9L788.1,643.8L788.7,643.7L789.4,643.5L790.1,643.4L790.7,643.2L791.4,643.1L792.1,642.9L792.7,642.8L793.4,642.6L794.1,642.5L794.7,642.3L795.4,642.1L796.0,641.9L796.7,641.7L797.4,641.6L798.0,641.4L798.7,641.2L799.4,641.0L800.0,640.8L800.7,640.6L801.4,640.4L802.0,640.2L802.7,639.9L803.4,639.7L804.0,639.5L804.7,639.2L805.4,638.9L806.0,638.6L806.7,638.3L807.4,638.0L808.0,637.7L808.7,637.3L809.4,637.0L810.0,636.6L810.7,636.2L811.4,635.8L812.0,635.4L812.7,635.0L813.3,634.6L814.0,634.1L814.7,633.7L815.3,633.3L816.0,632.8L816.7,632.4L817.3,631.9L818.0,631.4L818.7,631.0L819.3,630.5L820.0,630.0L820.7,630.5L821.3,631.0L822.0,631.4L822.7,631.9L823.3,632.4L824.0,632.8L824.7,633.3L825.3,633.7L826.0,634.1L826.7,634.6L827.3,635.0L828.0,635.4L828.6,635.8L829.3,636.2L830.0,636.6L830.6,637.0L831.3,637.3L832.0,637.7L832.6,638.0L833.3,638.3L834.0,638.6L834.6,638.9L835.3,639.2L836.0,639.5L836.6,639.7L837.3,639.9L838.0,640.2L838.6,640.4L839.3,640.6L840.0,640.8L840.6,641.0L841.3,641.2L842.0,641.4L842.6,641.6L843.3,641.7L844.0,641.9L844.6,642.1L845.3,642.3L845.9,642.5L846.6,642.6L847.3,642.8L847.9,642.9L848.6,643.1L849.3,643.2L849.9,643.4L850.6,643.5L851.3,643.7L851.9,643.8L852.6,643.9L853.3,644.0L853.9,644.2L854.6,644.3L855.3,644.4L855.9,644.5L856.6,644.6L857.3,644.7L857.9,644.8L858.6,644.8L859.3,644.9L859.9,645.0L860.6,645.1L861.3,645.1L861.9,645.2L862.6,645.2L863.2,645.3L863.9,645.3L864.6,645.4L865.2,645.4L865.9,645.5L866.6,645.5L867.2,645.6L867.9,645.6L868.6,645.6L869.2,645.7L869.9,645.7L870.6,645.7L871.2,645.8L871.9,645.8L872.6,645.8L873.2,645.9L873.9,645.9L874.6,645.9L875.2,645.9L875.9,646.0L876.6,646.0L877.2,646.0L877.9,646.1L878.5,646.1L879.2,646.1L879.9,646.2L880.5,646.2L881.2,646.2L881.9,646.3L882.5,646.3L883.2,646.4L883.9,646.4L884.5,646.5L885.2,646.5L885.9,646.6L886.5,646.6L887.2,646.7L887.9,646.8L888.5,646.8L889.2,646.9L889.9,647.0L890.5,647.1L891.2,647.2L891.9,647.3L892.5,647.5L893.2,647.6L893.9,647.8L894.5,648.1L895.2,648.3L895.8,648.5L896.5,648.8L897.2,649.1L897.8,649.4L898.5,649.7L899.2,650.0L899.8,650.4L900.5,650.7L901.2,651.1L901.8,651.4L902.5,651.8L903.2,652.2L903.8,652.6L904.5,653.0L905.2,653.5L905.8,653.9L906.5,654.3L907.2,654.8L907.8,655.2L908.5,655.7L909.2,656.2L909.8,656.8L910.5,657.4L911.2,658.0L911.8,658.7L912.5,659.4L913.1,660.1L913.8,660.8L914.5,661.6L915.1,662.4L915.8,663.3L916.5,664.1L917.1,665.0L917.8,665.9L918.5,666.9L919.1,667.8L919.8,668.8L920.5,669.8L921.1,670.8L921.8,671.8L922.5,672.9L923.1,673.9L923.8,675.0L924.5,676.1L925.1,677.2L925.8,678.3L926.5,679.5L927.1,680.8L927.8,682.1L928.5,683.4L929.1,684.8L929.8,686.3L930.4,687.7L931.1,689.2L931.8,690.8L932.4,692.4L933.1,694.0L933.8,695.7L934.4,697.4L935.1,699.1L935.8,700.9L936.4,702.7L937.1,704.5L937.8,706.3L938.4,708.2L939.1,710.1L939.8,712.0L940.4,713.9L941.1,715.8L941.8,717.8L942.4,719.8L943.1,721.8L943.8,723.8L944.4,726.0L945.1,728.2L945.7,730.4L946.4,732.7L947.1,735.0L947.7,737.4L948.4,739.9L949.1,742.3L949.7,744.9L950.4,747.4L951.1,750.0L951.7,752.6L952.4,755.2L953.1,757.8L953.7,760.5L954.4,763.2L955.1,765.9L955.7,768.6L956.4,771.3L957.1,774.0L957.7,776.7L958.4,779.5L959.1,782.2L959.7,784.9L960.4,787.6L961.1,790.3L961.7,793.2L962.4,796.1L963.0,799.0L963.7,802.0L964.4,805.0L965.0,808.1L965.7,811.2L966.4,814.3L967.0,817.4L967.7,820.5L968.4,823.6L969.0,826.6L969.7,829.7L970.4,832.7L971.0,835.8L971.7,838.7L972.4,841.6L973.0,844.5L973.7,847.3L974.4,850.0L975.0,852.7L975.7,855.2L976.4,857.7L977.0,860.1L977.7,862.4L978.4,864.6L979.0,866.8L979.7,869.0L980.3,871.1L981.0,873.2L981.7,875.3L982.3,877.3L983.0,879.2L983.7,881.1L984.3,883.0L985.0,884.8L985.7,886.6L986.3,888.3L987.0,890.0" fill="none" stroke="#8000ff" stroke-width="3.3" stroke-opacity="0.42" stroke-linejoin="round"/><path d="M680.0,875.0L680.7,873.6L681.3,872.2L682.0,870.8L682.7,869.5L683.3,868.1L684.0,866.7L684.6,865.3L685.3,863.9L686.0,862.5L686.6,861.1L687.3,859.7L688.0,858.3L688.6,856.9L689.3,855.5L690.0,854.1L690.6,852.7L691.3,851.3L691.9,849.9L692.6,848.4L693.3,847.0L693.9,845.6L694.6,844.2L695.3,842.8L695.9,841.4L696.6,840.0L697.3,838.5L697.9,837.1L698.6,835.7L699.2,834.2L699.9,832.8L700.6,831.4L701.2,829.9L701.9,828.5L702.6,827.0L703.2,825.5L703.9,824.1L704.5,822.6L705.2,821.2L705.9,819.7L706.5,818.2L707.2,816.8L707.9,815.3L708.5,813.9L709.2,812.4L709.9,811.0L710.5,809.5L711.2,808.1L711.8,806.7L712.5,805.2L713.2,803.8L713.8,802.4L714.5,801.0L715.2,799.7L715.8,798.3L716.5,796.9L717.2,795.5L717.8,794.1L718.5,792.7L719.1,791.3L719.8,789.9L720.5,788.5L721.1,787.2L721.8,785.8L722.5,784.4L723.1,783.0L723.8,781.7L724.5,780.3L725.1,779.0L725.8,777.6L726.4,776.3L727.1,775.0L727.8,773.7L728.4,772.5L729.1,771.2L729.8,769.9L730.4,768.7L731.1,767.5L731.8,766.3L732.4,765.1L733.1,764.0L733.7,762.8L734.4,761.7L735.1,760.5L735.7,759.3L736.4,758.1L737.1,757.0L737.7,755.8L738.4,754.7L739.1,753.5L739.7,752.4L740.4,751.3L741.0,750.2L741.7,749.1L742.4,748.0L743.0,747.0L743.7,746.0L744.4,745.0L745.0,744.1L745.7,743.1L746.4,742.2L747.0,741.4L747.7,740.6L748.3,739.8L749.0,739.0L749.7,738.3L750.3,737.7L751.0,737.0L751.7,736.4L752.3,735.8L753.0,735.2L753.6,734.6L754.3,734.1L755.0,733.5L755.6,733.0L756.3,732.5L757.0,732.0L757.6,731.5L758.3,731.0L759.0,730.5L759.6,730.0L760.3,729.6L760.9,729.1L761.6,728.7L762.3,728.3L762.9,727.9L763.6,727.5L764.3,727.1L764.9,726.7L765.6,726.3L766.3,725.9L766.9,725.6L767.6,725.2L768.2,724.9L768.9,724.5L769.6,724.2L770.2,723.9L770.9,723.7L771.6,723.4L772.2,723.2L772.9,722.9L773.6,722.7L774.2,722.5L774.9,722.3L775.5,722.0L776.2,721.8L776.9,721.6L777.5,721.4L778.2,721.2L778.9,720.9L779.5,720.7L780.2,720.4L780.9,720.1L781.5,719.9L782.2,719.6L782.8,719.2L783.5,718.9L784.2,718.5L784.8,718.1L785.5,717.7L786.2,717.2L786.8,716.8L787.5,716.3L788.2,715.8L788.8,715.2L789.5,714.6L790.1,714.0L790.8,713.3L791.5,712.5L792.1,711.6L792.8,710.7L793.5,709.7L794.1,708.6L794.8,707.4L795.5,706.1L796.1,704.7L796.8,702.6L797.4,699.5L798.1,695.7L798.8,691.3L799.4,686.6L800.1,681.7L800.8,676.7L801.4,671.8L802.1,666.2L802.7,660.0L803.4,653.8L804.1,647.7L804.7,642.0L805.4,637.0L806.1,631.9L806.7,626.9L807.4,622.0L808.1,617.2L808.7,612.6L809.4,608.3L810.0,604.3L810.7,600.7L811.4,597.5L812.0,594.9L812.7,592.5L813.4,590.1L814.0,587.8L814.7,585.7L815.4,583.6L816.0,581.7L816.7,580.0L817.3,578.5L818.0,577.2L818.7,576.2L819.3,575.4L820.0,575.0L820.7,575.4L821.3,576.2L822.0,577.2L822.7,578.5L823.3,580.0L824.0,581.7L824.6,583.6L825.3,585.7L826.0,587.8L826.6,590.1L827.3,592.5L828.0,594.9L828.6,597.5L829.3,600.7L830.0,604.3L830.6,608.3L831.3,612.6L831.9,617.2L832.6,622.0L833.3,626.9L833.9,631.9L834.6,637.0L835.3,642.0L835.9,647.7L836.6,653.8L837.3,660.0L837.9,666.2L838.6,671.8L839.2,676.7L839.9,681.7L840.6,686.6L841.2,691.3L841.9,695.7L842.6,699.5L843.2,702.6L843.9,704.7L844.5,706.1L845.2,707.4L845.9,708.6L846.5,709.7L847.2,710.7L847.9,711.6L848.5,712.5L849.2,713.3L849.9,714.0L850.5,714.6L851.2,715.2L851.8,715.8L852.5,716.3L853.2,716.8L853.8,717.2L854.5,717.7L855.2,718.1L855.8,718.5L856.5,718.9L857.2,719.2L857.8,719.6L858.5,719.9L859.1,720.1L859.8,720.4L860.5,720.7L861.1,720.9L861.8,721.2L862.5,721.4L863.1,721.6L863.8,721.8L864.5,722.0L865.1,722.3L865.8,722.5L866.4,722.7L867.1,722.9L867.8,723.2L868.4,723.4L869.1,723.7L869.8,723.9L870.4,724.2L871.1,724.5L871.8,724.9L872.4,725.2L873.1,725.6L873.7,725.9L874.4,726.3L875.1,726.7L875.7,727.1L876.4,727.5L877.1,727.9L877.7,728.3L878.4,728.7L879.1,729.1L879.7,729.6L880.4,730.0L881.0,730.5L881.7,731.0L882.4,731.5L883.0,732.0L883.7,732.5L884.4,733.0L885.0,733.5L885.7,734.1L886.4,734.6L887.0,735.2L887.7,735.8L888.3,736.4L889.0,737.0L889.7,737.7L890.3,738.3L891.0,739.0L891.7,739.8L892.3,740.6L893.0,741.4L893.6,742.2L894.3,743.1L895.0,744.1L895.6,745.0L896.3,746.0L897.0,747.0L897.6,748.0L898.3,749.1L899.0,750.2L899.6,751.3L900.3,752.4L900.9,753.5L901.6,754.7L902.3,755.8L902.9,757.0L903.6,758.1L904.3,759.3L904.9,760.5L905.6,761.7L906.3,762.8L906.9,764.0L907.6,765.1L908.2,766.3L908.9,767.5L909.6,768.7L910.2,769.9L910.9,771.2L911.6,772.5L912.2,773.7L912.9,775.0L913.6,776.3L914.2,777.6L914.9,779.0L915.5,780.3L916.2,781.7L916.9,783.0L917.5,784.4L918.2,785.8L918.9,787.2L919.5,788.5L920.2,789.9L920.9,791.3L921.5,792.7L922.2,794.1L922.8,795.5L923.5,796.9L924.2,798.3L924.8,799.7L925.5,801.0L926.2,802.4L926.8,803.8L927.5,805.2L928.2,806.7L928.8,808.1L929.5,809.5L930.1,811.0L930.8,812.4L931.5,813.9L932.1,815.3L932.8,816.8L933.5,818.2L934.1,819.7L934.8,821.2L935.5,822.6L936.1,824.1L936.8,825.5L937.4,827.0L938.1,828.5L938.8,829.9L939.4,831.4L940.1,832.8L940.8,834.2L941.4,835.7L942.1,837.1L942.7,838.5L943.4,840.0L944.1,841.4L944.7,842.8L945.4,844.2L946.1,845.6L946.7,847.0L947.4,848.4L948.1,849.9L948.7,851.3L949.4,852.7L950.0,854.1L950.7,855.5L951.4,856.9L952.0,858.3L952.7,859.7L953.4,861.1L954.0,862.5L954.7,863.9L955.4,865.3L956.0,866.7L956.7,868.1L957.3,869.5L958.0,870.8L958.7,872.2L959.3,873.6L960.0,875.0" fill="none" stroke="#ffb462" stroke-width="3.3" stroke-opacity="0.42" stroke-linejoin="round"/><path d="M684.0,870.0L684.7,868.8L685.3,867.6L686.0,866.4L686.7,865.2L687.3,864.0L688.0,862.8L688.6,861.6L689.3,860.4L690.0,859.2L690.6,857.9L691.3,856.7L692.0,855.5L692.6,854.2L693.3,853.0L694.0,851.7L694.6,850.5L695.3,849.2L695.9,848.0L696.6,846.7L697.3,845.4L697.9,844.2L698.6,842.9L699.3,841.6L699.9,840.3L700.6,839.0L701.2,837.7L701.9,836.4L702.6,835.1L703.2,833.7L703.9,832.4L704.6,831.1L705.2,829.7L705.9,828.4L706.6,827.1L707.2,825.7L707.9,824.4L708.5,823.0L709.2,821.7L709.9,820.3L710.5,819.0L711.2,817.7L711.9,816.3L712.5,815.0L713.2,813.6L713.9,812.3L714.5,811.0L715.2,809.6L715.8,808.3L716.5,807.0L717.2,805.6L717.8,804.3L718.5,802.9L719.2,801.5L719.8,800.2L720.5,798.8L721.2,797.4L721.8,796.1L722.5,794.7L723.1,793.3L723.8,792.0L724.5,790.6L725.1,789.3L725.8,787.9L726.5,786.6L727.1,785.3L727.8,784.0L728.4,782.7L729.1,781.4L729.8,780.1L730.4,778.8L731.1,777.6L731.8,776.3L732.4,775.1L733.1,773.9L733.8,772.7L734.4,771.5L735.1,770.3L735.7,769.0L736.4,767.8L737.1,766.6L737.7,765.4L738.4,764.2L739.1,763.0L739.7,761.8L740.4,760.6L741.1,759.4L741.7,758.3L742.4,757.1L743.0,756.0L743.7,754.9L744.4,753.8L745.0,752.8L745.7,751.8L746.4,750.8L747.0,749.8L747.7,748.9L748.4,748.0L749.0,747.2L749.7,746.4L750.3,745.6L751.0,744.8L751.7,744.1L752.3,743.4L753.0,742.6L753.7,741.9L754.3,741.2L755.0,740.5L755.6,739.9L756.3,739.2L757.0,738.6L757.6,737.9L758.3,737.3L759.0,736.7L759.6,736.1L760.3,735.5L761.0,735.0L761.6,734.4L762.3,733.9L762.9,733.4L763.6,732.9L764.3,732.4L764.9,731.9L765.6,731.5L766.3,731.0L766.9,730.6L767.6,730.2L768.3,729.9L768.9,729.5L769.6,729.2L770.2,728.9L770.9,728.6L771.6,728.3L772.2,728.0L772.9,727.8L773.6,727.6L774.2,727.3L774.9,727.1L775.6,726.9L776.2,726.7L776.9,726.5L777.5,726.3L778.2,726.2L778.9,726.0L779.5,725.8L780.2,725.6L780.9,725.4L781.5,725.2L782.2,724.9L782.8,724.7L783.5,724.4L784.2,724.2L784.8,723.9L785.5,723.6L786.2,723.3L786.8,723.0L787.5,722.6L788.2,722.2L788.8,721.8L789.5,721.4L790.1,720.9L790.8,720.3L791.5,719.7L792.1,719.0L792.8,718.1L793.5,717.1L794.1,716.0L794.8,714.7L795.5,713.3L796.1,711.7L796.8,709.3L797.4,706.1L798.1,702.0L798.8,697.4L799.4,692.4L800.1,687.2L800.8,681.9L801.4,676.4L802.1,670.0L802.8,663.0L803.4,655.8L804.1,648.7L804.7,642.3L805.4,636.6L806.1,630.9L806.7,625.3L807.4,619.8L808.1,614.5L808.7,609.4L809.4,604.7L810.0,600.2L810.7,596.3L811.4,592.8L812.0,589.8L812.7,587.2L813.4,584.6L814.0,582.1L814.7,579.7L815.4,577.4L816.0,575.3L816.7,573.4L817.3,571.8L818.0,570.4L818.7,569.3L819.3,568.5L820.0,568.0L820.7,568.5L821.3,569.3L822.0,570.4L822.7,571.8L823.3,573.4L824.0,575.3L824.6,577.4L825.3,579.7L826.0,582.1L826.6,584.6L827.3,587.2L828.0,589.8L828.6,592.8L829.3,596.3L830.0,600.2L830.6,604.7L831.3,609.4L831.9,614.5L832.6,619.8L833.3,625.3L833.9,630.9L834.6,636.6L835.3,642.3L835.9,648.7L836.6,655.8L837.2,663.0L837.9,670.0L838.6,676.4L839.2,681.9L839.9,687.2L840.6,692.4L841.2,697.4L841.9,702.0L842.6,706.1L843.2,709.3L843.9,711.7L844.5,713.3L845.2,714.7L845.9,716.0L846.5,717.1L847.2,718.1L847.9,719.0L848.5,719.7L849.2,720.3L849.9,720.9L850.5,721.4L851.2,721.8L851.8,722.2L852.5,722.6L853.2,723.0L853.8,723.3L854.5,723.6L855.2,723.9L855.8,724.2L856.5,724.4L857.2,724.7L857.8,724.9L858.5,725.2L859.1,725.4L859.8,725.6L860.5,725.8L861.1,726.0L861.8,726.2L862.5,726.3L863.1,726.5L863.8,726.7L864.4,726.9L865.1,727.1L865.8,727.3L866.4,727.6L867.1,727.8L867.8,728.0L868.4,728.3L869.1,728.6L869.8,728.9L870.4,729.2L871.1,729.5L871.7,729.9L872.4,730.2L873.1,730.6L873.7,731.0L874.4,731.5L875.1,731.9L875.7,732.4L876.4,732.9L877.1,733.4L877.7,733.9L878.4,734.4L879.0,735.0L879.7,735.5L880.4,736.1L881.0,736.7L881.7,737.3L882.4,737.9L883.0,738.6L883.7,739.2L884.4,739.9L885.0,740.5L885.7,741.2L886.3,741.9L887.0,742.6L887.7,743.4L888.3,744.1L889.0,744.8L889.7,745.6L890.3,746.4L891.0,747.2L891.6,748.0L892.3,748.9L893.0,749.8L893.6,750.8L894.3,751.8L895.0,752.8L895.6,753.8L896.3,754.9L897.0,756.0L897.6,757.1L898.3,758.3L898.9,759.4L899.6,760.6L900.3,761.8L900.9,763.0L901.6,764.2L902.3,765.4L902.9,766.6L903.6,767.8L904.3,769.0L904.9,770.3L905.6,771.5L906.2,772.7L906.9,773.9L907.6,775.1L908.2,776.3L908.9,777.6L909.6,778.8L910.2,780.1L910.9,781.4L911.6,782.7L912.2,784.0L912.9,785.3L913.5,786.6L914.2,787.9L914.9,789.3L915.5,790.6L916.2,792.0L916.9,793.3L917.5,794.7L918.2,796.1L918.8,797.4L919.5,798.8L920.2,800.2L920.8,801.5L921.5,802.9L922.2,804.3L922.8,805.6L923.5,807.0L924.2,808.3L924.8,809.6L925.5,811.0L926.1,812.3L926.8,813.6L927.5,815.0L928.1,816.3L928.8,817.7L929.5,819.0L930.1,820.3L930.8,821.7L931.5,823.0L932.1,824.4L932.8,825.7L933.4,827.1L934.1,828.4L934.8,829.7L935.4,831.1L936.1,832.4L936.8,833.7L937.4,835.1L938.1,836.4L938.8,837.7L939.4,839.0L940.1,840.3L940.7,841.6L941.4,842.9L942.1,844.2L942.7,845.4L943.4,846.7L944.1,848.0L944.7,849.2L945.4,850.5L946.0,851.7L946.7,853.0L947.4,854.2L948.0,855.5L948.7,856.7L949.4,857.9L950.0,859.2L950.7,860.4L951.4,861.6L952.0,862.8L952.7,864.0L953.3,865.2L954.0,866.4L954.7,867.6L955.3,868.8L956.0,870.0" fill="none" stroke="#ff1010" stroke-width="3.3" stroke-opacity="0.42" stroke-linejoin="round"/><path d="M628.60,826.00V880.00M663.40,853.90V862.90M680.80,778.60V787.60M698.20,713.10V722.10M715.60,672.70V681.70M733.00,650.40V659.40M750.40,639.20V648.20M767.80,642.00V651.00M785.20,642.00V651.00M802.60,635.00V644.00M820.00,626.10V635.10M837.40,637.80V646.80M854.80,639.20V648.20M872.20,640.50V649.50M889.60,643.40V652.40M907.00,650.00V675.00M924.40,662.00V710.00M941.80,712.00V735.00M959.20,776.00V857.00M976.60,855.30V864.30" stroke="#8000ff" stroke-width="2.1" fill="none"/><circle cx="628.60" cy="900.00" r="6.1" fill="none" stroke="#8000ff" stroke-width="2.2"/><circle cx="663.40" cy="858.40" r="6.1" fill="none" stroke="#8000ff" stroke-width="2.2"/><circle cx="680.80" cy="783.10" r="6.1" fill="none" stroke="#8000ff" stroke-width="2.2"/><circle cx="698.20" cy="717.60" r="6.1" fill="none" stroke="#8000ff" stroke-width="2.2"/><circle cx="715.60" cy="677.20" r="6.1" fill="none" stroke="#8000ff" stroke-width="2.2"/><circle cx="733.00" cy="654.90" r="6.1" fill="none" stroke="#8000ff" stroke-width="2.2"/><circle cx="750.40" cy="643.70" r="6.1" fill="none" stroke="#8000ff" stroke-width="2.2"/><circle cx="767.80" cy="646.50" r="6.1" fill="none" stroke="#8000ff" stroke-width="2.2"/><circle cx="785.20" cy="646.50" r="6.1" fill="none" stroke="#8000ff" stroke-width="2.2"/><circle cx="802.60" cy="639.50" r="6.1" fill="none" stroke="#8000ff" stroke-width="2.2"/><circle cx="820.00" cy="630.60" r="6.1" fill="none" stroke="#8000ff" stroke-width="2.2"/><circle cx="837.40" cy="642.30" r="6.1" fill="none" stroke="#8000ff" stroke-width="2.2"/><circle cx="854.80" cy="643.70" r="6.1" fill="none" stroke="#8000ff" stroke-width="2.2"/><circle cx="872.20" cy="645.00" r="6.1" fill="none" stroke="#8000ff" stroke-width="2.2"/><circle cx="889.60" cy="647.90" r="6.1" fill="none" stroke="#8000ff" stroke-width="2.2"/><circle cx="907.00" cy="657.60" r="6.1" fill="none" stroke="#8000ff" stroke-width="2.2"/><circle cx="924.40" cy="678.60" r="6.1" fill="none" stroke="#8000ff" stroke-width="2.2"/><circle cx="941.80" cy="723.20" r="6.1" fill="none" stroke="#8000ff" stroke-width="2.2"/><circle cx="959.20" cy="788.70" r="6.1" fill="none" stroke="#8000ff" stroke-width="2.2"/><circle cx="976.60" cy="859.80" r="6.1" fill="none" stroke="#8000ff" stroke-width="2.2"/><path d="M646.00,866.80V880.00M663.40,756.60V880.00M680.80,745.00V880.00M698.20,687.00V734.00M715.60,657.30V666.30M733.00,644.80V653.80M750.40,642.00V651.00M767.80,642.00V651.00M785.20,643.40V652.40M802.60,643.40V652.40M820.00,620.30V629.30M837.40,647.60V656.60M854.80,644.80V653.80M872.20,642.00V651.00M889.60,640.60V649.60M907.00,646.20V655.20M924.40,655.90V664.90M941.80,690.80V699.80M959.20,746.60V755.60M976.60,816.30V825.30" stroke="#11aee8" stroke-width="2.1" fill="none"/><path d="M646.00,906.10L639.70,893.90L652.30,893.90Z" fill="none" stroke="#11aee8" stroke-width="2.2" stroke-linejoin="miter"/><path d="M663.40,839.40L657.10,827.20L669.70,827.20Z" fill="none" stroke="#11aee8" stroke-width="2.2" stroke-linejoin="miter"/><path d="M680.80,762.70L674.50,750.50L687.10,750.50Z" fill="none" stroke="#11aee8" stroke-width="2.2" stroke-linejoin="miter"/><path d="M698.20,707.00L691.90,694.80L704.50,694.80Z" fill="none" stroke="#11aee8" stroke-width="2.2" stroke-linejoin="miter"/><path d="M715.60,667.90L709.30,655.70L721.90,655.70Z" fill="none" stroke="#11aee8" stroke-width="2.2" stroke-linejoin="miter"/><path d="M733.00,655.40L726.70,643.20L739.30,643.20Z" fill="none" stroke="#11aee8" stroke-width="2.2" stroke-linejoin="miter"/><path d="M750.40,652.60L744.10,640.40L756.70,640.40Z" fill="none" stroke="#11aee8" stroke-width="2.2" stroke-linejoin="miter"/><path d="M767.80,652.60L761.50,640.40L774.10,640.40Z" fill="none" stroke="#11aee8" stroke-width="2.2" stroke-linejoin="miter"/><path d="M785.20,654.00L778.90,641.80L791.50,641.80Z" fill="none" stroke="#11aee8" stroke-width="2.2" stroke-linejoin="miter"/><path d="M802.60,654.00L796.30,641.80L808.90,641.80Z" fill="none" stroke="#11aee8" stroke-width="2.2" stroke-linejoin="miter"/><path d="M820.00,630.90L813.70,618.70L826.30,618.70Z" fill="none" stroke="#11aee8" stroke-width="2.2" stroke-linejoin="miter"/><path d="M837.40,658.20L831.10,646.00L843.70,646.00Z" fill="none" stroke="#11aee8" stroke-width="2.2" stroke-linejoin="miter"/><path d="M854.80,655.40L848.50,643.20L861.10,643.20Z" fill="none" stroke="#11aee8" stroke-width="2.2" stroke-linejoin="miter"/><path d="M872.20,652.60L865.90,640.40L878.50,640.40Z" fill="none" stroke="#11aee8" stroke-width="2.2" stroke-linejoin="miter"/><path d="M889.60,651.20L883.30,639.00L895.90,639.00Z" fill="none" stroke="#11aee8" stroke-width="2.2" stroke-linejoin="miter"/><path d="M907.00,656.80L900.70,644.60L913.30,644.60Z" fill="none" stroke="#11aee8" stroke-width="2.2" stroke-linejoin="miter"/><path d="M924.40,666.50L918.10,654.30L930.70,654.30Z" fill="none" stroke="#11aee8" stroke-width="2.2" stroke-linejoin="miter"/><path d="M941.80,701.40L935.50,689.20L948.10,689.20Z" fill="none" stroke="#11aee8" stroke-width="2.2" stroke-linejoin="miter"/><path d="M959.20,757.20L952.90,745.00L965.50,745.00Z" fill="none" stroke="#11aee8" stroke-width="2.2" stroke-linejoin="miter"/><path d="M976.60,826.90L970.30,814.70L982.90,814.70Z" fill="none" stroke="#11aee8" stroke-width="2.2" stroke-linejoin="miter"/><path d="M663.40,799.50V808.50M680.80,729.80V738.80M698.20,685.20V694.20M715.60,657.30V666.30M733.00,640.60V649.60M750.40,640.60V649.60M767.80,642.00V651.00M785.20,644.80V653.80M802.60,646.20V655.20M820.00,632.90V641.90M837.40,646.20V655.20M854.80,642.00V651.00M872.20,640.60V649.60M889.60,636.40V645.40M907.00,646.20V655.20M924.40,661.50V670.50M941.80,699.20V708.20M959.20,760.50V769.50M976.60,834.40V843.40" stroke="#80ffb4" stroke-width="2.1" fill="none"/><path d="M663.40,795.60L671.80,804.00L663.40,812.40L655.00,804.00Z" fill="none" stroke="#80ffb4" stroke-width="2.2"/><path d="M680.80,725.90L689.20,734.30L680.80,742.70L672.40,734.30Z" fill="none" stroke="#80ffb4" stroke-width="2.2"/><path d="M698.20,681.30L706.60,689.70L698.20,698.10L689.80,689.70Z" fill="none" stroke="#80ffb4" stroke-width="2.2"/><path d="M715.60,653.40L724.00,661.80L715.60,670.20L707.20,661.80Z" fill="none" stroke="#80ffb4" stroke-width="2.2"/><path d="M733.00,636.70L741.40,645.10L733.00,653.50L724.60,645.10Z" fill="none" stroke="#80ffb4" stroke-width="2.2"/><path d="M750.40,636.70L758.80,645.10L750.40,653.50L742.00,645.10Z" fill="none" stroke="#80ffb4" stroke-width="2.2"/><path d="M767.80,638.10L776.20,646.50L767.80,654.90L759.40,646.50Z" fill="none" stroke="#80ffb4" stroke-width="2.2"/><path d="M785.20,640.90L793.60,649.30L785.20,657.70L776.80,649.30Z" fill="none" stroke="#80ffb4" stroke-width="2.2"/><path d="M802.60,642.30L811.00,650.70L802.60,659.10L794.20,650.70Z" fill="none" stroke="#80ffb4" stroke-width="2.2"/><path d="M820.00,629.00L828.40,637.40L820.00,645.80L811.60,637.40Z" fill="none" stroke="#80ffb4" stroke-width="2.2"/><path d="M837.40,642.30L845.80,650.70L837.40,659.10L829.00,650.70Z" fill="none" stroke="#80ffb4" stroke-width="2.2"/><path d="M854.80,638.10L863.20,646.50L854.80,654.90L846.40,646.50Z" fill="none" stroke="#80ffb4" stroke-width="2.2"/><path d="M872.20,636.70L880.60,645.10L872.20,653.50L863.80,645.10Z" fill="none" stroke="#80ffb4" stroke-width="2.2"/><path d="M889.60,632.50L898.00,640.90L889.60,649.30L881.20,640.90Z" fill="none" stroke="#80ffb4" stroke-width="2.2"/><path d="M907.00,642.30L915.40,650.70L907.00,659.10L898.60,650.70Z" fill="none" stroke="#80ffb4" stroke-width="2.2"/><path d="M924.40,657.60L932.80,666.00L924.40,674.40L916.00,666.00Z" fill="none" stroke="#80ffb4" stroke-width="2.2"/><path d="M941.80,695.30L950.20,703.70L941.80,712.10L933.40,703.70Z" fill="none" stroke="#80ffb4" stroke-width="2.2"/><path d="M959.20,756.60L967.60,765.00L959.20,773.40L950.80,765.00Z" fill="none" stroke="#80ffb4" stroke-width="2.2"/><path d="M976.60,830.50L985.00,838.90L976.60,847.30L968.20,838.90Z" fill="none" stroke="#80ffb4" stroke-width="2.2"/><path d="M715.60,820.00V868.00M733.00,770.50V779.50M750.40,740.50V749.50M767.80,728.50V737.50M785.20,722.50V731.50M802.60,645.50V654.50M820.00,567.50V576.50M837.40,645.50V654.50M872.20,718.50V727.50M889.60,728.40V737.40M907.00,740.00V775.00M924.40,765.00V880.00" stroke="#ffb462" stroke-width="2.1" fill="none"/><path d="M715.60,837.00L709.30,849.20L721.90,849.20Z" fill="none" stroke="#ffb462" stroke-width="2.2" stroke-linejoin="miter"/><path d="M733.00,768.90L726.70,781.10L739.30,781.10Z" fill="none" stroke="#ffb462" stroke-width="2.2" stroke-linejoin="miter"/><path d="M750.40,738.90L744.10,751.10L756.70,751.10Z" fill="none" stroke="#ffb462" stroke-width="2.2" stroke-linejoin="miter"/><path d="M767.80,726.90L761.50,739.10L774.10,739.10Z" fill="none" stroke="#ffb462" stroke-width="2.2" stroke-linejoin="miter"/><path d="M785.20,720.90L778.90,733.10L791.50,733.10Z" fill="none" stroke="#ffb462" stroke-width="2.2" stroke-linejoin="miter"/><path d="M802.60,643.90L796.30,656.10L808.90,656.10Z" fill="none" stroke="#ffb462" stroke-width="2.2" stroke-linejoin="miter"/><path d="M820.00,565.90L813.70,578.10L826.30,578.10Z" fill="none" stroke="#ffb462" stroke-width="2.2" stroke-linejoin="miter"/><path d="M837.40,643.90L831.10,656.10L843.70,656.10Z" fill="none" stroke="#ffb462" stroke-width="2.2" stroke-linejoin="miter"/><path d="M872.20,716.90L865.90,729.10L878.50,729.10Z" fill="none" stroke="#ffb462" stroke-width="2.2" stroke-linejoin="miter"/><path d="M889.60,726.80L883.30,739.00L895.90,739.00Z" fill="none" stroke="#ffb462" stroke-width="2.2" stroke-linejoin="miter"/><path d="M907.00,750.50L900.70,762.70L913.30,762.70Z" fill="none" stroke="#ffb462" stroke-width="2.2" stroke-linejoin="miter"/><path d="M924.40,813.30L918.10,825.50L930.70,825.50Z" fill="none" stroke="#ffb462" stroke-width="2.2" stroke-linejoin="miter"/><path d="M698.20,869.30V878.30M715.60,804.00V832.00M733.00,760.00V797.00M750.40,745.20V754.20M767.80,732.60V741.60M785.20,725.70V734.70M802.60,643.40V652.40M820.00,563.80V572.80M837.40,644.60V653.60M854.80,717.30V726.30M872.20,726.50V735.50M889.60,742.40V751.40M907.00,765.00V793.00M924.40,798.00V826.00" stroke="#ff1010" stroke-width="2.1" fill="none"/><rect x="692.10" y="867.70" width="12.20" height="12.20" fill="none" stroke="#ff1010" stroke-width="2.2"/><rect x="709.50" y="809.10" width="12.20" height="12.20" fill="none" stroke="#ff1010" stroke-width="2.2"/><rect x="726.90" y="772.90" width="12.20" height="12.20" fill="none" stroke="#ff1010" stroke-width="2.2"/><rect x="744.30" y="743.60" width="12.20" height="12.20" fill="none" stroke="#ff1010" stroke-width="2.2"/><rect x="761.70" y="731.00" width="12.20" height="12.20" fill="none" stroke="#ff1010" stroke-width="2.2"/><rect x="779.10" y="724.10" width="12.20" height="12.20" fill="none" stroke="#ff1010" stroke-width="2.2"/><rect x="796.50" y="641.80" width="12.20" height="12.20" fill="none" stroke="#ff1010" stroke-width="2.2"/><rect x="813.90" y="562.20" width="12.20" height="12.20" fill="none" stroke="#ff1010" stroke-width="2.2"/><rect x="831.30" y="643.00" width="12.20" height="12.20" fill="none" stroke="#ff1010" stroke-width="2.2"/><rect x="848.70" y="715.70" width="12.20" height="12.20" fill="none" stroke="#ff1010" stroke-width="2.2"/><rect x="866.10" y="724.90" width="12.20" height="12.20" fill="none" stroke="#ff1010" stroke-width="2.2"/><rect x="883.50" y="740.80" width="12.20" height="12.20" fill="none" stroke="#ff1010" stroke-width="2.2"/><rect x="900.90" y="771.50" width="12.20" height="12.20" fill="none" stroke="#ff1010" stroke-width="2.2"/><rect x="918.30" y="806.30" width="12.20" height="12.20" fill="none" stroke="#ff1010" stroke-width="2.2"/></g><path d="M619.50,880.50h7 M619.50,857.12h4 M619.50,843.44h4 M619.50,833.73h4 M619.50,826.20h4 M619.50,820.05h4 M619.50,814.85h4 M619.50,810.35h4 M619.50,806.37h4 M619.50,802.82h7 M619.50,779.44h4 M619.50,765.76h4 M619.50,756.05h4 M619.50,748.52h4 M619.50,742.37h4 M619.50,737.17h4 M619.50,732.67h4 M619.50,728.69h4 M619.50,725.14h7 M619.50,701.76h4 M619.50,688.08h4 M619.50,678.37h4 M619.50,670.84h4 M619.50,664.69h4 M619.50,659.49h4 M619.50,654.99h4 M619.50,651.01h4 M619.50,647.46h7 M619.50,624.08h4 M619.50,610.40h4 M619.50,600.69h4 M619.50,593.16h4 M619.50,587.01h4 M619.50,581.81h4 M619.50,577.31h4 M619.50,573.33h4 M619.50,569.78h7 M619.50,546.40h4 M619.50,532.72h4 M619.50,523.01h4 M619.50,515.48h4 M619.50,509.33h4 M619.50,504.13h4 M619.50,499.63h4 M619.50,495.65h4 M619.50,492.10h7 M652.96,880.50v-4 M686.42,880.50v-7 M719.88,880.50v-4 M753.33,880.50v-4 M786.79,880.50v-4 M820.25,880.50v-7 M853.71,880.50v-4 M887.17,880.50v-4 M920.62,880.50v-4 M954.08,880.50v-7 M987.54,880.50v-4" stroke="#1a1a1a" stroke-width="1.3" fill="none"/><rect x="619.5" y="492.1" width="401.50" height="388.40" fill="none" stroke="#1a1a1a" stroke-width="1.4"/><rect x="359.6" y="27.6" width="140.90" height="105.60" fill="#e1e8f4" stroke="#1a1a1a" stroke-width="1.4"/><path d="M359.60,133.20h6 M359.60,115.60h3.5 M359.60,98.00h6 M359.60,80.40h3.5 M359.60,62.80h6 M359.60,45.20h3.5 M359.60,27.60h6 M387.78,133.20v-4 M415.96,133.20v-4 M444.14,133.20v-4 M472.32,133.20v-4" stroke="#1a1a1a" stroke-width="1.3" fill="none"/><rect x="359.6" y="501.1" width="140.90" height="105.60" fill="#e1e8f4" stroke="#1a1a1a" stroke-width="1.4"/><path d="M359.60,606.70h6 M359.60,589.10h3.5 M359.60,571.50h6 M359.60,553.90h3.5 M359.60,536.30h6 M359.60,518.70h3.5 M359.60,501.10h6 M387.78,606.70v-4 M415.96,606.70v-4 M444.14,606.70v-4 M472.32,606.70v-4" stroke="#1a1a1a" stroke-width="1.3" fill="none"/><circle cx="387.78" cy="90.26" r="4.5" fill="#2a7ab8"/><circle cx="415.96" cy="96.24" r="4.5" fill="#2a7ab8"/><circle cx="444.14" cy="80.40" r="4.5" fill="#2a7ab8"/><circle cx="472.32" cy="84.62" r="4.5" fill="#2a7ab8"/><circle cx="387.78" cy="552.50" r="4.5" fill="#2a7ab8"/><circle cx="415.96" cy="558.00" r="4.5" fill="#2a7ab8"/><circle cx="444.14" cy="552.50" r="4.5" fill="#2a7ab8"/><circle cx="458.23" cy="558.60" r="4.5" fill="#2a7ab8"/><circle cx="486.41" cy="566.20" r="4.5" fill="#2a7ab8"/><rect x="630.2" y="28.6" width="117.50" height="105.00" fill="#ffffd7" stroke="#1a1a1a" stroke-width="1.4"/><path d="M747.70,133.60h-6 M747.70,119.46h-3.5 M747.70,105.32h-3.5 M747.70,91.18h-3.5 M747.70,77.04h-3.5 M747.70,62.90h-6 M747.70,48.76h-3.5 M747.70,34.62h-3.5 M653.70,133.60v-4 M677.20,133.60v-4 M700.70,133.60v-4 M724.20,133.60v-4" stroke="#1a1a1a" stroke-width="1.3" fill="none"/><rect x="630.2" y="500.7" width="117.50" height="105.80" fill="#ffffd7" stroke="#1a1a1a" stroke-width="1.4"/><path d="M747.70,606.50h-6 M747.70,592.36h-3.5 M747.70,578.22h-3.5 M747.70,564.08h-3.5 M747.70,549.94h-3.5 M747.70,535.80h-6 M747.70,521.66h-3.5 M747.70,507.52h-3.5 M639.40,606.50v-4 M661.35,606.50v-4 M683.30,606.50v-4 M705.25,606.50v-4 M727.20,606.50v-4" stroke="#1a1a1a" stroke-width="1.3" fill="none"/><circle cx="653.70" cy="68.70" r="4.5" fill="#3a8c9d"/><circle cx="677.20" cy="74.50" r="4.5" fill="#3a8c9d"/><circle cx="700.70" cy="74.80" r="4.5" fill="#3a8c9d"/><circle cx="724.20" cy="71.60" r="4.5" fill="#3a8c9d"/><circle cx="661.80" cy="546.20" r="4.5" fill="#3a8c9d"/><circle cx="683.30" cy="540.30" r="4.5" fill="#3a8c9d"/><circle cx="704.80" cy="540.30" r="4.5" fill="#3a8c9d"/><circle cx="715.50" cy="585.60" r="4.5" fill="#3a8c9d"/><circle cx="737.00" cy="585.60" r="4.5" fill="#3a8c9d"/><rect x="870.0" y="28.2" width="140.70" height="105.10" fill="#ffd9d9" stroke="#1a1a1a" stroke-width="1.4"/><path d="M870.00,133.30h6 M870.00,112.28h3.5 M870.00,91.26h3.5 M870.00,70.24h3.5 M870.00,49.22h3.5 M898.14,133.30v-3.5 M926.28,133.30v-6 M954.42,133.30v-3.5 M982.56,133.30v-6" stroke="#1a1a1a" stroke-width="1.3" fill="none"/><rect x="869.8" y="500.3" width="140.90" height="105.10" fill="#ffd9d9" stroke="#1a1a1a" stroke-width="1.4"/><path d="M869.80,605.40h6 M869.80,584.38h3.5 M869.80,563.36h3.5 M869.80,542.34h3.5 M869.80,521.32h3.5 M897.98,605.40v-3.5 M926.16,605.40v-6 M954.34,605.40v-3.5 M982.52,605.40v-6" stroke="#1a1a1a" stroke-width="1.3" fill="none"/><circle cx="898.14" cy="106.71" r="4.5" fill="#3b6aa6"/><circle cx="926.28" cy="82.96" r="4.5" fill="#3b6aa6"/><circle cx="954.42" cy="49.22" r="4.5" fill="#3b6aa6"/><circle cx="982.56" cy="35.77" r="4.5" fill="#3b6aa6"/><line x1="892.51" y1="111.86" x2="988.19" y2="28.20" stroke="#5050b8" stroke-opacity="0.9" stroke-width="1.4" stroke-dasharray="4.5 3"/><circle cx="898.20" cy="535.40" r="4.5" fill="#3d6ea8"/><circle cx="926.10" cy="533.50" r="4.5" fill="#3d6ea8"/><circle cx="954.20" cy="525.00" r="4.5" fill="#3d6ea8"/><circle cx="968.50" cy="596.90" r="4.5" fill="#3d6ea8"/><circle cx="996.50" cy="600.10" r="4.5" fill="#3d6ea8"/><g transform="matrix(0.8844,0,0,0.8789,0.73,39.67)"><text x="0" y="0" font-size="40" font-weight="bold" font-style="normal" fill="#000">(a)</text></g><g transform="matrix(0.8787,0,0,0.8842,518.74,39.83)"><text x="0" y="0" font-size="40" font-weight="bold" font-style="normal" fill="#000">(b)</text></g><g transform="matrix(0.8200,0,0,0.8895,1.06,515.68)"><text x="0" y="0" font-size="40" font-weight="bold" font-style="normal" fill="#000">(c)</text></g><g transform="matrix(0.8723,0,0,0.8895,519.26,515.68)"><text x="0" y="0" font-size="40" font-weight="bold" font-style="normal" fill="#000">(d)</text></g><g transform="matrix(1.1069,0,0,1.0600,54.99,29.20)"><text x="0" y="0" font-size="29" font-weight="normal" font-style="normal" fill="#000">10</text></g><g transform="matrix(1.1471,0,0,1.0429,90.83,18.20)"><text x="0" y="0" font-size="20" font-weight="normal" font-style="normal" fill="#000">2</text></g><g transform="matrix(1.1069,0,0,1.0600,54.99,106.88)"><text x="0" y="0" font-size="29" font-weight="normal" font-style="normal" fill="#000">10</text></g><g transform="matrix(1.1471,0,0,1.0429,90.83,95.88)"><text x="0" y="0" font-size="20" font-weight="normal" font-style="normal" fill="#000">1</text></g><g transform="matrix(1.1069,0,0,1.0600,54.99,184.56)"><text x="0" y="0" font-size="29" font-weight="normal" font-style="normal" fill="#000">10</text></g><g transform="matrix(1.1471,0,0,1.0429,90.83,173.56)"><text x="0" y="0" font-size="20" font-weight="normal" font-style="normal" fill="#000">0</text></g><g transform="matrix(1.1103,0,0,1.0600,38.88,262.24)"><text x="0" y="0" font-size="29" font-weight="normal" font-style="normal" fill="#000">10</text></g><g transform="matrix(1.2238,0,0,1.0429,75.58,251.24)"><text x="0" y="0" font-size="20" font-weight="normal" font-style="normal" fill="#000">−1</text></g><g transform="matrix(1.1103,0,0,1.0600,38.88,339.92)"><text x="0" y="0" font-size="29" font-weight="normal" font-style="normal" fill="#000">10</text></g><g transform="matrix(1.2238,0,0,1.0429,75.58,328.92)"><text x="0" y="0" font-size="20" font-weight="normal" font-style="normal" fill="#000">−2</text></g><g transform="matrix(1.1103,0,0,1.0600,38.88,417.60)"><text x="0" y="0" font-size="29" font-weight="normal" font-style="normal" fill="#000">10</text></g><g transform="matrix(1.2238,0,0,1.0429,75.58,406.60)"><text x="0" y="0" font-size="20" font-weight="normal" font-style="normal" fill="#000">−3</text></g><g transform="matrix(1.1727,0,0,1.0700,110.13,436.40)"><text x="0" y="0" font-size="29" font-weight="normal" font-style="normal" fill="#000">−0.5</text></g><g transform="matrix(1.1211,0,0,1.0700,287.98,436.40)"><text x="0" y="0" font-size="29" font-weight="normal" font-style="normal" fill="#000">0.0</text></g><g transform="matrix(1.1211,0,0,1.0700,454.88,436.40)"><text x="0" y="0" font-size="29" font-weight="normal" font-style="normal" fill="#000">0.5</text></g><g transform="matrix(1.1709,0,0,0.9750,244.83,467.45)"><text x="0" y="0" font-size="30" font-weight="normal" font-style="normal" fill="#000">Δ<tspan font-style="italic">x</tspan> (mm)</text></g><g transform="matrix(0,-1.0750,0.9857,0,34.99,252.27)"><text x="0" y="0" font-size="30" font-weight="normal" font-style="normal" fill="#000"><tspan font-style="italic">P</tspan>(Δ<tspan font-style="italic">x</tspan>)</text></g><g transform="matrix(1.1069,0,0,1.0600,564.79,29.20)"><text x="0" y="0" font-size="29" font-weight="normal" font-style="normal" fill="#000">10</text></g><g transform="matrix(1.1471,0,0,1.0429,600.63,18.20)"><text x="0" y="0" font-size="20" font-weight="normal" font-style="normal" fill="#000">2</text></g><g transform="matrix(1.1069,0,0,1.0600,564.79,106.88)"><text x="0" y="0" font-size="29" font-weight="normal" font-style="normal" fill="#000">10</text></g><g transform="matrix(1.1471,0,0,1.0429,600.63,95.88)"><text x="0" y="0" font-size="20" font-weight="normal" font-style="normal" fill="#000">1</text></g><g transform="matrix(1.1069,0,0,1.0600,564.79,184.56)"><text x="0" y="0" font-size="29" font-weight="normal" font-style="normal" fill="#000">10</text></g><g transform="matrix(1.1471,0,0,1.0429,600.63,173.56)"><text x="0" y="0" font-size="20" font-weight="normal" font-style="normal" fill="#000">0</text></g><g transform="matrix(1.1103,0,0,1.0600,548.68,262.24)"><text x="0" y="0" font-size="29" font-weight="normal" font-style="normal" fill="#000">10</text></g><g transform="matrix(1.2238,0,0,1.0429,585.38,251.24)"><text x="0" y="0" font-size="20" font-weight="normal" font-style="normal" fill="#000">−1</text></g><g transform="matrix(1.1103,0,0,1.0600,548.68,339.92)"><text x="0" y="0" font-size="29" font-weight="normal" font-style="normal" fill="#000">10</text></g><g transform="matrix(1.2238,0,0,1.0429,585.38,328.92)"><text x="0" y="0" font-size="20" font-weight="normal" font-style="normal" fill="#000">−2</text></g><g transform="matrix(1.1103,0,0,1.0600,548.68,417.60)"><text x="0" y="0" font-size="29" font-weight="normal" font-style="normal" fill="#000">10</text></g><g transform="matrix(1.2238,0,0,1.0429,585.38,406.60)"><text x="0" y="0" font-size="20" font-weight="normal" font-style="normal" fill="#000">−3</text></g><g transform="matrix(1.1945,0,0,1.0700,652.81,436.40)"><text x="0" y="0" font-size="29" font-weight="normal" font-style="normal" fill="#000">−0.2</text></g><g transform="matrix(1.1342,0,0,1.0700,797.47,436.40)"><text x="0" y="0" font-size="29" font-weight="normal" font-style="normal" fill="#000">0.0</text></g><g transform="matrix(1.1184,0,0,1.0700,930.78,436.40)"><text x="0" y="0" font-size="29" font-weight="normal" font-style="normal" fill="#000">0.2</text></g><g transform="matrix(1.1339,0,0,0.9750,755.87,467.45)"><text x="0" y="0" font-size="30" font-weight="normal" font-style="normal" fill="#000">ΔΘ (rad)</text></g><g transform="matrix(0,-1.0500,1.0000,0,545.10,255.25)"><text x="0" y="0" font-size="30" font-weight="normal" font-style="normal" fill="#000"><tspan font-style="italic">P</tspan>(ΔΘ)</text></g><g transform="matrix(1.1069,0,0,1.0600,54.99,502.70)"><text x="0" y="0" font-size="29" font-weight="normal" font-style="normal" fill="#000">10</text></g><g transform="matrix(1.1471,0,0,1.0429,90.83,491.70)"><text x="0" y="0" font-size="20" font-weight="normal" font-style="normal" fill="#000">2</text></g><g transform="matrix(1.1069,0,0,1.0600,54.99,580.38)"><text x="0" y="0" font-size="29" font-weight="normal" font-style="normal" fill="#000">10</text></g><g transform="matrix(1.1471,0,0,1.0429,90.83,569.38)"><text x="0" y="0" font-size="20" font-weight="normal" font-style="normal" fill="#000">1</text></g><g transform="matrix(1.1069,0,0,1.0600,54.99,658.06)"><text x="0" y="0" font-size="29" font-weight="normal" font-style="normal" fill="#000">10</text></g><g transform="matrix(1.1471,0,0,1.0429,90.83,647.06)"><text x="0" y="0" font-size="20" font-weight="normal" font-style="normal" fill="#000">0</text></g><g transform="matrix(1.1103,0,0,1.0600,38.88,735.74)"><text x="0" y="0" font-size="29" font-weight="normal" font-style="normal" fill="#000">10</text></g><g transform="matrix(1.2238,0,0,1.0429,75.58,724.74)"><text x="0" y="0" font-size="20" font-weight="normal" font-style="normal" fill="#000">−1</text></g><g transform="matrix(1.1103,0,0,1.0600,38.88,813.42)"><text x="0" y="0" font-size="29" font-weight="normal" font-style="normal" fill="#000">10</text></g><g transform="matrix(1.2238,0,0,1.0429,75.58,802.42)"><text x="0" y="0" font-size="20" font-weight="normal" font-style="normal" fill="#000">−2</text></g><g transform="matrix(1.1103,0,0,1.0600,38.88,891.10)"><text x="0" y="0" font-size="29" font-weight="normal" font-style="normal" fill="#000">10</text></g><g transform="matrix(1.2238,0,0,1.0429,75.58,880.10)"><text x="0" y="0" font-size="20" font-weight="normal" font-style="normal" fill="#000">−3</text></g><g transform="matrix(1.1727,0,0,1.0700,110.13,909.90)"><text x="0" y="0" font-size="29" font-weight="normal" font-style="normal" fill="#000">−0.5</text></g><g transform="matrix(1.1211,0,0,1.0700,287.98,909.90)"><text x="0" y="0" font-size="29" font-weight="normal" font-style="normal" fill="#000">0.0</text></g><g transform="matrix(1.1211,0,0,1.0700,454.88,909.90)"><text x="0" y="0" font-size="29" font-weight="normal" font-style="normal" fill="#000">0.5</text></g><g transform="matrix(1.1709,0,0,0.9750,244.83,940.95)"><text x="0" y="0" font-size="30" font-weight="normal" font-style="normal" fill="#000">Δ<tspan font-style="italic">x</tspan> (mm)</text></g><g transform="matrix(0,-1.0750,0.9857,0,34.99,725.78)"><text x="0" y="0" font-size="30" font-weight="normal" font-style="normal" fill="#000"><tspan font-style="italic">P</tspan>(Δ<tspan font-style="italic">x</tspan>)</text></g><g transform="matrix(1.1069,0,0,1.0600,564.79,502.70)"><text x="0" y="0" font-size="29" font-weight="normal" font-style="normal" fill="#000">10</text></g><g transform="matrix(1.1471,0,0,1.0429,600.63,491.70)"><text x="0" y="0" font-size="20" font-weight="normal" font-style="normal" fill="#000">2</text></g><g transform="matrix(1.1069,0,0,1.0600,564.79,580.38)"><text x="0" y="0" font-size="29" font-weight="normal" font-style="normal" fill="#000">10</text></g><g transform="matrix(1.1471,0,0,1.0429,600.63,569.38)"><text x="0" y="0" font-size="20" font-weight="normal" font-style="normal" fill="#000">1</text></g><g transform="matrix(1.1069,0,0,1.0600,564.79,658.06)"><text x="0" y="0" font-size="29" font-weight="normal" font-style="normal" fill="#000">10</text></g><g transform="matrix(1.1471,0,0,1.0429,600.63,647.06)"><text x="0" y="0" font-size="20" font-weight="normal" font-style="normal" fill="#000">0</text></g><g transform="matrix(1.1103,0,0,1.0600,548.68,735.74)"><text x="0" y="0" font-size="29" font-weight="normal" font-style="normal" fill="#000">10</text></g><g transform="matrix(1.2238,0,0,1.0429,585.38,724.74)"><text x="0" y="0" font-size="20" font-weight="normal" font-style="normal" fill="#000">−1</text></g><g transform="matrix(1.1103,0,0,1.0600,548.68,813.42)"><text x="0" y="0" font-size="29" font-weight="normal" font-style="normal" fill="#000">10</text></g><g transform="matrix(1.2238,0,0,1.0429,585.38,802.42)"><text x="0" y="0" font-size="20" font-weight="normal" font-style="normal" fill="#000">−2</text></g><g transform="matrix(1.1103,0,0,1.0600,548.68,891.10)"><text x="0" y="0" font-size="29" font-weight="normal" font-style="normal" fill="#000">10</text></g><g transform="matrix(1.2238,0,0,1.0429,585.38,880.10)"><text x="0" y="0" font-size="20" font-weight="normal" font-style="normal" fill="#000">−3</text></g><g transform="matrix(1.1945,0,0,1.0700,652.81,909.90)"><text x="0" y="0" font-size="29" font-weight="normal" font-style="normal" fill="#000">−0.2</text></g><g transform="matrix(1.1342,0,0,1.0700,797.47,909.90)"><text x="0" y="0" font-size="29" font-weight="normal" font-style="normal" fill="#000">0.0</text></g><g transform="matrix(1.1184,0,0,1.0700,930.78,909.90)"><text x="0" y="0" font-size="29" font-weight="normal" font-style="normal" fill="#000">0.2</text></g><g transform="matrix(1.1339,0,0,0.9750,755.87,940.95)"><text x="0" y="0" font-size="30" font-weight="normal" font-style="normal" fill="#000">ΔΘ (rad)</text></g><g transform="matrix(0,-1.0500,1.0000,0,545.10,728.75)"><text x="0" y="0" font-size="30" font-weight="normal" font-style="normal" fill="#000"><tspan font-style="italic">P</tspan>(ΔΘ)</text></g><g transform="matrix(1.1000,0,0,0.9720,208.80,61.97)"><text x="0" y="0" font-size="27" font-weight="normal" font-style="normal" fill="#000">3.5 <tspan font-style="italic">g</tspan></text></g><g transform="matrix(1.1000,0,0,0.9720,208.80,101.27)"><text x="0" y="0" font-size="27" font-weight="normal" font-style="normal" fill="#000">4.0 <tspan font-style="italic">g</tspan></text></g><g transform="matrix(1.1000,0,0,0.9720,208.80,140.57)"><text x="0" y="0" font-size="27" font-weight="normal" font-style="normal" fill="#000">4.5 <tspan font-style="italic">g</tspan></text></g><g transform="matrix(1.1000,0,0,0.9720,208.80,179.87)"><text x="0" y="0" font-size="27" font-weight="normal" font-style="normal" fill="#000">5.0 <tspan font-style="italic">g</tspan></text></g><g transform="matrix(1.0838,0,0,0.9684,208.02,536.60)"><text x="0" y="0" font-size="27" font-weight="normal" font-style="normal" fill="#000">50 Hz</text></g><g transform="matrix(1.0838,0,0,0.9684,208.02,575.80)"><text x="0" y="0" font-size="27" font-weight="normal" font-style="normal" fill="#000">60 Hz</text></g><g transform="matrix(1.0838,0,0,0.9684,208.02,615.00)"><text x="0" y="0" font-size="27" font-weight="normal" font-style="normal" fill="#000">70 Hz</text></g><g transform="matrix(1.0838,0,0,0.9684,208.02,654.20)"><text x="0" y="0" font-size="27" font-weight="normal" font-style="normal" fill="#000">75 Hz</text></g><g transform="matrix(1.0838,0,0,0.9684,208.02,693.40)"><text x="0" y="0" font-size="27" font-weight="normal" font-style="normal" fill="#000">85 Hz</text></g><g transform="matrix(1.2034,0,0,1.1143,338.16,141.00)"><text x="0" y="0" font-size="21" font-weight="normal" font-style="normal" fill="#000">0</text></g><g transform="matrix(1.2034,0,0,1.1143,338.16,105.80)"><text x="0" y="0" font-size="21" font-weight="normal" font-style="normal" fill="#000">1</text></g><g transform="matrix(1.2034,0,0,1.1143,338.16,70.60)"><text x="0" y="0" font-size="21" font-weight="normal" font-style="normal" fill="#000">2</text></g><g transform="matrix(1.2034,0,0,1.1143,338.16,35.40)"><text x="0" y="0" font-size="21" font-weight="normal" font-style="normal" fill="#000">3</text></g><g transform="matrix(0,-0.9286,1.0087,0,328.86,86.07)"><text x="0" y="0" font-size="24" font-weight="normal" font-style="normal" fill="#000"><tspan font-style="italic">β</tspan></text></g><g transform="matrix(1.2034,0,0,1.1143,338.16,614.50)"><text x="0" y="0" font-size="21" font-weight="normal" font-style="normal" fill="#000">0</text></g><g transform="matrix(1.2034,0,0,1.1143,338.16,579.30)"><text x="0" y="0" font-size="21" font-weight="normal" font-style="normal" fill="#000">1</text></g><g transform="matrix(1.2034,0,0,1.1143,338.16,544.10)"><text x="0" y="0" font-size="21" font-weight="normal" font-style="normal" fill="#000">2</text></g><g transform="matrix(1.2034,0,0,1.1143,338.16,508.90)"><text x="0" y="0" font-size="21" font-weight="normal" font-style="normal" fill="#000">3</text></g><g transform="matrix(0,-0.9286,1.0087,0,328.86,559.57)"><text x="0" y="0" font-size="24" font-weight="normal" font-style="normal" fill="#000"><tspan font-style="italic">β</tspan></text></g><g transform="matrix(1.2574,0,0,1.1643,351.86,156.90)"><text x="0" y="0" font-size="21" font-weight="normal" font-style="normal" fill="#000">3</text></g><g transform="matrix(1.2574,0,0,1.1643,408.78,156.90)"><text x="0" y="0" font-size="21" font-weight="normal" font-style="normal" fill="#000">4</text></g><g transform="matrix(1.2574,0,0,1.1643,464.76,156.90)"><text x="0" y="0" font-size="21" font-weight="normal" font-style="normal" fill="#000">5</text></g><g transform="matrix(1.1638,0,0,1.0091,402.04,182.75)"><text x="0" y="0" font-size="24" font-weight="normal" font-style="normal" fill="#000"><tspan font-style="italic">a</tspan> (<tspan font-style="italic">g</tspan>)</text></g><g transform="matrix(1.1217,0,0,1.1643,346.00,630.40)"><text x="0" y="0" font-size="21" font-weight="normal" font-style="normal" fill="#000">40</text></g><g transform="matrix(1.1727,0,0,1.1643,401.68,630.40)"><text x="0" y="0" font-size="21" font-weight="normal" font-style="normal" fill="#000">60</text></g><g transform="matrix(1.1727,0,0,1.1643,458.03,630.40)"><text x="0" y="0" font-size="21" font-weight="normal" font-style="normal" fill="#000">80</text></g><g transform="matrix(1.1339,0,0,0.9652,398.27,656.47)"><text x="0" y="0" font-size="24" font-weight="normal" font-style="normal" fill="#000"><tspan font-style="italic">f</tspan> (Hz)</text></g><g transform="matrix(1.1926,0,0,1.0500,751.41,141.90)"><text x="0" y="0" font-size="21" font-weight="normal" font-style="normal" fill="#000">0.0</text></g><g transform="matrix(1.1926,0,0,1.1143,751.41,72.60)"><text x="0" y="0" font-size="21" font-weight="normal" font-style="normal" fill="#000">0.1</text></g><g transform="matrix(0,-1.0653,0.8864,0,799.87,133.17)"><text x="0" y="0" font-size="24" font-weight="normal" font-style="normal" fill="#000">ΔΘ<tspan font-size="15" dy="5">0</tspan><tspan dy="-5"> (rad)</tspan></text></g><g transform="matrix(1.1926,0,0,1.0500,751.41,615.20)"><text x="0" y="0" font-size="21" font-weight="normal" font-style="normal" fill="#000">0.0</text></g><g transform="matrix(1.1926,0,0,1.1143,751.41,545.90)"><text x="0" y="0" font-size="21" font-weight="normal" font-style="normal" fill="#000">0.1</text></g><g transform="matrix(0,-1.0653,0.8864,0,799.87,606.47)"><text x="0" y="0" font-size="24" font-weight="normal" font-style="normal" fill="#000">ΔΘ<tspan font-size="15" dy="5">0</tspan><tspan dy="-5"> (rad)</tspan></text></g><g transform="matrix(1.2034,0,0,1.1143,622.53,156.30)"><text x="0" y="0" font-size="21" font-weight="normal" font-style="normal" fill="#000">3</text></g><g transform="matrix(1.2034,0,0,1.1143,670.23,156.30)"><text x="0" y="0" font-size="21" font-weight="normal" font-style="normal" fill="#000">4</text></g><g transform="matrix(1.2034,0,0,1.1143,716.88,156.30)"><text x="0" y="0" font-size="21" font-weight="normal" font-style="normal" fill="#000">5</text></g><g transform="matrix(1.1766,0,0,1.0182,649.02,183.41)"><text x="0" y="0" font-size="24" font-weight="normal" font-style="normal" fill="#000"><tspan font-style="italic">a</tspan> (<tspan font-style="italic">g</tspan>)</text></g><g transform="matrix(1.1217,0,0,1.1143,626.50,629.60)"><text x="0" y="0" font-size="21" font-weight="normal" font-style="normal" fill="#000">40</text></g><g transform="matrix(1.1727,0,0,1.1143,669.23,629.60)"><text x="0" y="0" font-size="21" font-weight="normal" font-style="normal" fill="#000">60</text></g><g transform="matrix(1.1727,0,0,1.1143,711.13,629.60)"><text x="0" y="0" font-size="21" font-weight="normal" font-style="normal" fill="#000">80</text></g><g transform="matrix(1.1339,0,0,0.9739,643.87,656.93)"><text x="0" y="0" font-size="24" font-weight="normal" font-style="normal" fill="#000"><tspan font-style="italic">f</tspan> (Hz)</text></g><g transform="matrix(1.1031,0,0,1.0214,849.27,141.30)"><text x="0" y="0" font-size="21" font-weight="normal" font-style="normal" fill="#000">0</text></g><g transform="matrix(1.1031,0,0,1.0214,849.27,35.70)"><text x="0" y="0" font-size="21" font-weight="normal" font-style="normal" fill="#000">1</text></g><g transform="matrix(0,-1.1857,1.0059,0,848.10,126.00)"><text x="0" y="0" font-size="24" font-weight="normal" font-style="normal" fill="#000">fraction</text></g><g transform="matrix(1.1031,0,0,1.0214,849.27,613.60)"><text x="0" y="0" font-size="21" font-weight="normal" font-style="normal" fill="#000">0</text></g><g transform="matrix(1.1031,0,0,1.0214,849.27,508.00)"><text x="0" y="0" font-size="21" font-weight="normal" font-style="normal" fill="#000">1</text></g><g transform="matrix(0,-1.1857,1.0059,0,848.10,598.30)"><text x="0" y="0" font-size="24" font-weight="normal" font-style="normal" fill="#000">fraction</text></g><g transform="matrix(1.0260,0,0,0.9500,863.79,156.50)"><text x="0" y="0" font-size="21" font-weight="normal" font-style="normal" fill="#000">3</text></g><g transform="matrix(1.0260,0,0,0.9500,920.91,156.50)"><text x="0" y="0" font-size="21" font-weight="normal" font-style="normal" fill="#000">4</text></g><g transform="matrix(1.0260,0,0,0.9500,976.04,156.50)"><text x="0" y="0" font-size="21" font-weight="normal" font-style="normal" fill="#000">5</text></g><g transform="matrix(1.1553,0,0,1.0182,933.44,183.41)"><text x="0" y="0" font-size="24" font-weight="normal" font-style="normal" fill="#000"><tspan font-style="italic">a</tspan> (<tspan font-style="italic">g</tspan>)</text></g><g transform="matrix(1.1217,0,0,0.9500,856.70,628.80)"><text x="0" y="0" font-size="21" font-weight="normal" font-style="normal" fill="#000">40</text></g><g transform="matrix(1.1727,0,0,0.9500,912.03,628.80)"><text x="0" y="0" font-size="21" font-weight="normal" font-style="normal" fill="#000">60</text></g><g transform="matrix(1.1727,0,0,0.9500,968.13,628.80)"><text x="0" y="0" font-size="21" font-weight="normal" font-style="normal" fill="#000">80</text></g><g transform="matrix(1.1375,0,0,0.9739,928.76,655.93)"><text x="0" y="0" font-size="24" font-weight="normal" font-style="normal" fill="#000"><tspan font-style="italic">f</tspan> (Hz)</text></g>
</svg></body></html>
